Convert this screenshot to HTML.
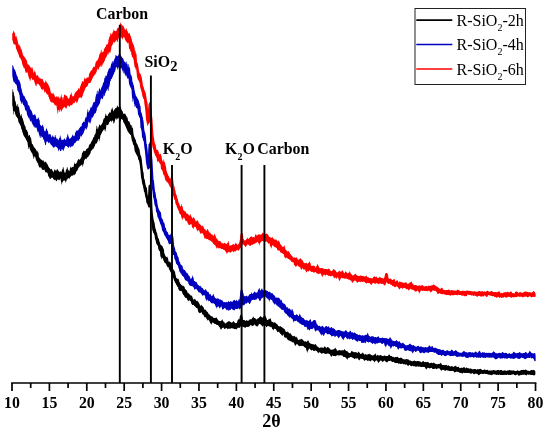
<!DOCTYPE html>
<html><head><meta charset="utf-8"><title>XRD</title>
<style>html,body{margin:0;padding:0;background:#fff}svg{display:block}</style>
</head><body>
<svg width="550" height="435" viewBox="0 0 550 435">
<rect width="550" height="435" fill="#fff"/>
<g stroke="none">
<polygon fill="#ff0000" points="12.5,33.3 13.0,32.7 13.5,32.4 14.0,32.4 14.5,32.6 15.0,33.2 15.5,37.6 16.0,37.7 16.5,37.9 17.0,38.2 17.5,40.5 18.0,42.8 18.5,44.3 19.0,45.9 19.5,46.1 20.0,46.3 20.5,46.8 21.0,50.1 21.5,50.4 22.0,50.7 22.5,53.3 23.0,55.0 23.5,56.0 24.0,57.0 24.5,57.1 25.0,57.6 25.5,59.6 26.0,59.9 26.5,60.9 27.0,61.2 27.5,64.0 28.0,65.0 28.5,65.4 29.0,65.6 29.5,66.1 30.0,66.7 30.5,67.5 31.0,68.5 31.5,68.9 32.0,68.8 32.5,68.9 33.0,69.3 33.5,73.1 34.0,72.5 34.5,72.3 35.0,72.3 35.5,72.6 36.0,74.8 36.5,76.0 37.0,75.8 37.5,75.8 38.0,75.9 38.5,76.4 39.0,78.7 39.5,78.4 40.0,78.4 40.5,78.6 41.0,79.3 41.5,79.8 42.0,79.8 42.5,79.9 43.0,80.4 43.5,81.0 44.0,83.1 44.5,83.1 45.0,82.6 45.5,82.3 46.0,82.2 46.5,82.3 47.0,82.7 47.5,84.8 48.0,85.0 48.5,85.3 49.0,86.3 49.5,87.5 50.0,88.2 50.5,91.4 51.0,92.9 51.5,93.4 52.0,94.0 52.5,94.1 53.0,94.3 53.5,94.2 54.0,94.4 54.5,95.1 55.0,97.2 55.5,97.3 56.0,97.3 56.5,97.2 57.0,97.3 57.5,97.5 58.0,97.9 58.5,97.9 59.0,97.9 59.5,98.1 60.0,99.5 60.5,97.2 61.0,96.9 61.5,96.8 62.0,96.9 62.5,97.4 63.0,101.1 63.5,97.2 64.0,96.9 64.5,96.8 65.0,97.0 65.5,97.1 66.0,97.2 66.5,97.2 67.0,97.3 67.5,97.7 68.0,98.3 68.5,98.8 69.0,98.7 69.5,97.5 70.0,95.3 70.5,94.7 71.0,94.5 71.5,94.6 72.0,94.8 72.5,96.5 73.0,96.4 73.5,96.4 74.0,96.2 74.5,93.7 75.0,93.5 75.5,92.5 76.0,92.1 76.5,91.9 77.0,91.4 77.5,90.6 78.0,89.7 78.5,89.3 79.0,89.2 79.5,89.4 80.0,86.9 80.5,86.2 81.0,84.5 81.5,83.5 82.0,83.2 82.5,83.2 83.0,82.5 83.5,82.0 84.0,79.6 84.5,79.3 85.0,79.2 85.5,79.3 86.0,78.8 86.5,78.5 87.0,78.2 87.5,77.9 88.0,77.8 88.5,77.7 89.0,74.8 89.5,73.6 90.0,72.6 90.5,71.6 91.0,71.4 91.5,71.0 92.0,70.5 92.5,68.6 93.0,67.8 93.5,67.5 94.0,67.4 94.5,67.0 95.0,66.1 95.5,62.7 96.0,62.1 96.5,61.5 97.0,61.2 97.5,60.5 98.0,59.5 98.5,58.6 99.0,56.1 99.5,55.8 100.0,54.3 100.5,52.6 101.0,52.4 101.5,52.4 102.0,52.6 102.5,52.4 103.0,52.3 103.5,52.3 104.0,49.3 104.5,48.6 105.0,47.9 105.5,47.4 106.0,45.7 106.5,45.3 107.0,45.2 107.5,44.5 108.0,43.9 108.5,39.4 109.0,39.0 109.5,36.9 110.0,35.9 110.5,35.6 111.0,35.6 111.5,35.8 112.0,34.9 112.5,32.7 113.0,31.7 113.5,31.5 114.0,31.5 114.5,31.7 115.0,31.5 115.5,31.4 116.0,31.2 116.5,30.8 117.0,28.8 117.5,28.3 118.0,28.1 118.5,28.2 119.0,28.5 119.5,24.5 120.0,23.9 120.5,23.7 121.0,23.8 121.5,24.0 122.0,26.9 122.5,26.6 123.0,26.6 123.5,26.9 124.0,27.9 124.5,28.4 125.0,30.3 125.5,30.0 126.0,29.9 126.5,30.0 127.0,30.4 127.5,32.3 128.0,32.5 128.5,33.5 129.0,34.6 129.5,34.7 130.0,35.1 130.5,36.3 131.0,36.7 131.5,39.5 132.0,40.4 132.5,43.5 133.0,43.8 133.5,45.3 134.0,46.6 134.5,47.6 135.0,51.8 135.5,53.4 136.0,53.6 136.5,54.1 137.0,61.7 137.5,63.2 138.0,64.2 138.5,67.3 139.0,70.8 139.5,72.7 140.0,74.1 140.5,74.4 141.0,75.2 141.5,76.7 142.0,79.8 142.5,82.1 143.0,86.1 143.5,86.5 144.0,89.0 144.5,89.9 145.0,92.1 145.5,92.5 146.0,94.8 146.5,97.8 147.0,101.5 147.5,102.2 148.0,109.8 148.5,104.3 149.0,103.3 149.5,103.1 150.0,103.1 150.5,103.3 151.0,104.3 151.5,108.2 152.0,115.8 152.5,119.8 153.0,128.6 153.5,135.2 154.0,137.9 154.5,141.9 155.0,143.6 155.5,144.6 156.0,147.5 156.5,149.6 157.0,150.6 157.5,150.7 158.0,151.0 158.5,151.5 159.0,154.3 159.5,154.6 160.0,155.4 160.5,155.7 161.0,155.9 161.5,156.2 162.0,160.2 162.5,160.6 163.0,162.2 163.5,162.0 164.0,161.9 164.5,162.1 165.0,162.7 165.5,165.8 166.0,166.3 166.5,171.5 167.0,171.8 167.5,174.1 168.0,174.4 168.5,176.0 169.0,176.7 169.5,177.4 170.0,179.2 170.5,179.2 171.0,177.7 171.5,177.3 172.0,177.2 172.5,177.4 173.0,177.8 173.5,182.5 174.0,185.8 174.5,186.5 175.0,189.5 175.5,191.1 176.0,194.5 176.5,194.7 177.0,196.6 177.5,198.8 178.0,200.0 178.5,202.6 179.0,203.3 179.5,204.6 180.0,206.1 180.5,206.8 181.0,206.3 181.5,206.2 182.0,206.2 182.5,206.4 183.0,208.9 183.5,210.5 184.0,210.9 184.5,211.7 185.0,211.7 185.5,211.8 186.0,212.4 186.5,214.0 187.0,214.1 187.5,214.5 188.0,214.6 188.5,214.8 189.0,215.4 189.5,215.8 190.0,215.6 190.5,215.6 191.0,215.8 191.5,216.8 192.0,218.0 192.5,218.4 193.0,218.8 193.5,218.5 194.0,218.5 194.5,218.6 195.0,219.2 195.5,221.1 196.0,221.8 196.5,221.4 197.0,221.2 197.5,221.2 198.0,221.3 198.5,222.0 199.0,224.0 199.5,224.0 200.0,224.4 200.5,225.1 201.0,225.3 201.5,226.0 202.0,226.7 202.5,226.5 203.0,226.5 203.5,226.8 204.0,228.4 204.5,229.3 205.0,229.4 205.5,229.8 206.0,231.3 206.5,231.0 207.0,230.6 207.5,230.5 208.0,230.6 208.5,231.0 209.0,232.5 209.5,233.2 210.0,233.5 210.5,233.8 211.0,233.9 211.5,234.5 212.0,235.2 212.5,235.6 213.0,235.8 213.5,236.0 214.0,235.7 214.5,235.5 215.0,235.6 215.5,236.0 216.0,238.3 216.5,238.6 217.0,239.3 217.5,239.6 218.0,240.6 218.5,240.9 219.0,241.3 219.5,241.3 220.0,241.4 220.5,241.8 221.0,242.0 221.5,242.9 222.0,243.4 222.5,243.5 223.0,243.8 223.5,243.8 224.0,243.8 224.5,243.5 225.0,243.5 225.5,243.6 226.0,244.1 226.5,244.3 227.0,243.7 227.5,243.0 228.0,242.8 228.5,242.8 229.0,243.1 229.5,245.8 230.0,245.9 230.5,245.5 231.0,245.4 231.5,245.4 232.0,245.2 232.5,244.7 233.0,244.5 233.5,244.6 234.0,244.9 234.5,245.0 235.0,243.9 235.5,243.6 236.0,243.5 236.5,243.7 237.0,244.3 237.5,244.9 238.0,244.7 238.5,243.8 239.0,243.5 239.5,241.6 240.0,238.9 240.5,234.1 241.0,233.4 241.5,233.2 242.0,233.2 242.5,233.5 243.0,234.7 243.5,239.2 244.0,239.9 244.5,240.5 245.0,240.7 245.5,240.2 246.0,239.9 246.5,239.1 247.0,238.6 247.5,238.5 248.0,238.6 248.5,239.0 249.0,238.7 249.5,238.1 250.0,237.6 250.5,237.3 251.0,237.2 251.5,237.1 252.0,237.2 252.5,237.5 253.0,237.4 253.5,237.2 254.0,237.3 254.5,237.7 255.0,235.4 255.5,235.1 256.0,235.1 256.5,235.3 257.0,235.9 257.5,235.2 258.0,234.9 258.5,234.8 259.0,235.0 259.5,234.8 260.0,234.8 260.5,235.0 261.0,234.9 261.5,234.6 262.0,233.9 262.5,233.6 263.0,233.6 263.5,233.8 264.0,234.4 264.5,234.7 265.0,234.5 265.5,234.1 266.0,234.0 266.5,234.1 267.0,234.3 267.5,234.5 268.0,235.0 268.5,235.4 269.0,237.0 269.5,236.9 270.0,237.0 270.5,237.5 271.0,238.0 271.5,238.2 272.0,238.0 272.5,237.9 273.0,238.0 273.5,238.5 274.0,239.7 274.5,240.0 275.0,240.1 275.5,240.2 276.0,240.3 276.5,240.4 277.0,240.6 277.5,241.2 278.0,241.7 278.5,241.5 279.0,241.6 279.5,241.9 280.0,243.6 280.5,244.8 281.0,244.9 281.5,245.2 282.0,246.8 282.5,247.1 283.0,247.1 283.5,246.9 284.0,246.8 284.5,246.8 285.0,247.1 285.5,249.4 286.0,250.3 286.5,250.6 287.0,251.0 287.5,252.0 288.0,251.8 288.5,251.8 289.0,252.1 289.5,252.6 290.0,253.7 290.5,254.2 291.0,254.7 291.5,255.7 292.0,255.9 292.5,256.4 293.0,257.2 293.5,257.9 294.0,257.6 294.5,257.6 295.0,257.8 295.5,258.0 296.0,257.9 296.5,258.0 297.0,258.2 297.5,258.5 298.0,260.2 298.5,259.8 299.0,259.7 299.5,259.3 300.0,259.1 300.5,259.1 301.0,259.4 301.5,260.4 302.0,260.4 302.5,260.5 303.0,261.1 303.5,262.3 304.0,262.9 304.5,263.0 305.0,263.4 305.5,263.2 306.0,263.0 306.5,263.1 307.0,263.3 307.5,264.0 308.0,263.8 308.5,263.3 309.0,262.9 309.5,262.8 310.0,262.9 310.5,263.3 311.0,265.7 311.5,265.8 312.0,266.1 312.5,265.9 313.0,265.8 313.5,266.0 314.0,266.0 314.5,266.1 315.0,266.5 315.5,267.7 316.0,267.6 316.5,266.0 317.0,265.6 317.5,265.5 318.0,265.7 318.5,266.0 319.0,267.0 319.5,268.1 320.0,268.4 320.5,268.4 321.0,268.1 321.5,268.0 322.0,268.1 322.5,268.5 323.0,268.7 323.5,268.7 324.0,268.9 324.5,269.2 325.0,269.0 325.5,269.0 326.0,269.2 326.5,269.3 327.0,269.3 327.5,269.4 328.0,269.3 328.5,269.1 329.0,269.1 329.5,269.4 330.0,269.9 330.5,270.8 331.0,270.9 331.5,271.1 332.0,271.5 332.5,270.2 333.0,269.8 333.5,269.7 334.0,269.8 334.5,270.2 335.0,270.5 335.5,270.6 336.0,271.2 336.5,271.9 337.0,272.4 337.5,272.4 338.0,272.1 338.5,271.4 339.0,271.2 339.5,271.3 340.0,271.5 340.5,271.7 341.0,272.1 341.5,271.3 342.0,271.0 342.5,271.0 343.0,271.2 343.5,271.7 344.0,273.1 344.5,273.5 345.0,272.3 345.5,272.0 346.0,272.0 346.5,272.2 347.0,272.9 347.5,273.6 348.0,273.5 348.5,272.9 349.0,272.5 349.5,272.4 350.0,272.4 350.5,272.8 351.0,274.3 351.5,274.4 352.0,274.6 352.5,275.4 353.0,275.7 353.5,275.3 354.0,275.1 354.5,274.6 355.0,274.3 355.5,274.3 356.0,274.4 356.5,274.9 357.0,275.4 357.5,275.7 358.0,276.0 358.5,275.9 359.0,275.9 359.5,275.9 360.0,276.1 360.5,275.8 361.0,275.7 361.5,275.9 362.0,276.0 362.5,276.1 363.0,276.4 363.5,276.3 364.0,276.4 364.5,276.8 365.0,276.7 365.5,276.2 366.0,276.1 366.5,276.2 367.0,276.5 367.5,277.6 368.0,277.5 368.5,277.5 369.0,277.7 369.5,278.2 370.0,278.0 370.5,278.0 371.0,278.2 371.5,278.6 372.0,278.5 372.5,278.4 373.0,277.9 373.5,277.1 374.0,276.9 374.5,276.9 375.0,277.1 375.5,277.3 376.0,277.1 376.5,277.1 377.0,277.3 377.5,278.1 378.0,278.0 378.5,278.1 379.0,277.5 379.5,277.4 380.0,277.4 380.5,277.6 381.0,278.3 381.5,278.0 382.0,278.0 382.5,278.2 383.0,278.9 383.5,278.4 384.0,278.0 384.5,277.1 385.0,274.7 385.5,273.2 386.0,272.9 386.5,272.9 387.0,273.1 387.5,273.8 388.0,274.7 388.5,278.7 389.0,278.6 389.5,278.8 390.0,278.7 390.5,278.7 391.0,278.8 391.5,279.4 392.0,279.8 392.5,280.1 393.0,280.0 393.5,279.5 394.0,279.4 394.5,279.4 395.0,279.7 395.5,281.9 396.0,281.3 396.5,280.8 397.0,280.7 397.5,280.7 398.0,281.0 398.5,282.9 399.0,282.1 399.5,281.8 400.0,281.8 400.5,282.0 401.0,282.2 401.5,282.3 402.0,282.6 402.5,282.6 403.0,282.9 403.5,282.8 404.0,282.7 404.5,282.8 405.0,282.9 405.5,282.6 406.0,282.6 406.5,282.8 407.0,283.5 407.5,283.9 408.0,283.7 408.5,283.8 409.0,283.4 409.5,283.0 410.0,282.9 410.5,282.6 411.0,282.5 411.5,282.6 412.0,282.9 412.5,283.4 413.0,284.5 413.5,284.6 414.0,285.0 414.5,285.2 415.0,285.2 415.5,285.1 416.0,285.1 416.5,285.2 417.0,285.8 417.5,285.7 418.0,285.7 418.5,285.7 419.0,285.6 419.5,285.5 420.0,285.5 420.5,285.7 421.0,285.8 421.5,285.5 422.0,285.2 422.5,285.2 423.0,285.4 423.5,286.1 424.0,286.7 424.5,286.4 425.0,286.3 425.5,286.2 426.0,286.0 426.5,286.1 427.0,286.3 427.5,286.5 428.0,286.1 428.5,285.8 429.0,285.7 429.5,285.9 430.0,285.8 430.5,285.7 431.0,285.8 431.5,285.7 432.0,285.6 432.5,285.4 433.0,285.1 433.5,285.0 434.0,285.0 434.5,285.2 435.0,285.6 435.5,285.8 436.0,286.5 436.5,286.5 437.0,286.5 437.5,286.7 438.0,287.6 438.5,287.7 439.0,287.9 439.5,288.5 440.0,288.9 440.5,288.8 441.0,288.4 441.5,288.1 442.0,288.1 442.5,288.3 443.0,289.0 443.5,290.1 444.0,290.1 444.5,290.1 445.0,290.2 445.5,290.2 446.0,290.2 446.5,290.1 447.0,290.1 447.5,290.0 448.0,289.7 448.5,289.7 449.0,290.0 449.5,290.1 450.0,290.2 450.5,290.6 451.0,290.4 451.5,290.3 452.0,290.3 452.5,290.4 453.0,290.3 453.5,290.5 454.0,290.7 454.5,290.6 455.0,290.5 455.5,290.6 456.0,290.9 456.5,290.5 457.0,290.0 457.5,289.9 458.0,289.9 458.5,290.1 459.0,290.5 459.5,290.6 460.0,291.1 460.5,291.2 461.0,291.1 461.5,291.2 462.0,290.8 462.5,290.7 463.0,290.8 463.5,290.9 464.0,290.8 464.5,290.9 465.0,291.0 465.5,291.0 466.0,291.1 466.5,290.7 467.0,290.6 467.5,290.7 468.0,290.8 468.5,290.8 469.0,290.9 469.5,290.8 470.0,291.0 470.5,291.1 471.0,291.1 471.5,291.2 472.0,291.5 472.5,291.5 473.0,291.5 473.5,291.5 474.0,291.3 474.5,291.4 475.0,291.5 475.5,291.6 476.0,291.8 476.5,291.7 477.0,291.7 477.5,291.8 478.0,291.6 478.5,291.3 479.0,291.1 479.5,291.1 480.0,291.1 480.5,291.4 481.0,291.7 481.5,291.3 482.0,291.2 482.5,291.3 483.0,291.7 483.5,291.8 484.0,291.5 484.5,291.4 485.0,291.6 485.5,292.0 486.0,291.8 486.5,291.3 487.0,290.9 487.5,290.9 488.0,291.0 488.5,291.5 489.0,291.7 489.5,291.7 490.0,291.8 490.5,291.6 491.0,291.2 491.5,291.1 492.0,291.2 492.5,291.5 493.0,292.2 493.5,292.0 494.0,292.0 494.5,292.2 495.0,292.1 495.5,292.2 496.0,292.1 496.5,292.2 497.0,292.4 497.5,292.4 498.0,292.0 498.5,291.8 499.0,291.7 499.5,291.8 500.0,292.1 500.5,293.3 501.0,293.4 501.5,293.1 502.0,293.1 502.5,293.2 503.0,293.1 503.5,292.6 504.0,292.5 504.5,292.6 505.0,292.6 505.5,292.3 506.0,292.3 506.5,292.4 507.0,292.1 507.5,291.9 508.0,291.9 508.5,292.0 509.0,292.7 509.5,292.6 510.0,292.0 510.5,291.8 511.0,291.7 511.5,291.9 512.0,292.6 512.5,293.2 513.0,293.1 513.5,293.2 514.0,293.5 514.5,293.6 515.0,292.3 515.5,291.8 516.0,291.7 516.5,291.8 517.0,292.1 517.5,292.3 518.0,292.6 518.5,292.8 519.0,292.7 519.5,292.4 520.0,292.3 520.5,292.4 521.0,292.4 521.5,292.6 522.0,293.1 522.5,292.7 523.0,292.6 523.5,292.5 524.0,292.0 524.5,291.7 525.0,291.6 525.5,291.8 526.0,292.0 526.5,291.8 527.0,291.8 527.5,292.1 528.0,292.3 528.5,292.3 529.0,292.4 529.5,292.2 530.0,292.2 530.5,292.4 531.0,292.6 531.5,292.9 532.0,292.4 532.5,292.1 533.0,291.8 533.5,291.5 534.0,291.5 534.5,291.8 535.0,292.8 535.4,293.2 535.4,296.8 535.0,296.9 534.5,296.9 534.0,296.7 533.5,296.8 533.0,296.8 532.5,296.9 532.0,297.2 531.5,297.2 531.0,297.0 530.5,296.7 530.0,295.9 529.5,296.2 529.0,296.4 528.5,296.9 528.0,297.2 527.5,297.2 527.0,296.9 526.5,296.6 526.0,296.6 525.5,296.4 525.0,296.6 524.5,296.7 524.0,296.5 523.5,297.0 523.0,297.2 522.5,297.2 522.0,296.9 521.5,296.5 521.0,296.6 520.5,296.7 520.0,296.8 519.5,296.7 519.0,296.4 518.5,296.6 518.0,296.6 517.5,296.6 517.0,297.0 516.5,297.2 516.0,297.1 515.5,297.0 515.0,297.3 514.5,297.3 514.0,297.2 513.5,297.3 513.0,297.3 512.5,297.1 512.0,297.5 511.5,297.6 511.0,297.6 510.5,297.3 510.0,297.1 509.5,296.9 509.0,296.8 508.5,296.5 508.0,297.0 507.5,297.2 507.0,297.2 506.5,297.4 506.0,297.5 505.5,297.4 505.0,297.0 504.5,296.8 504.0,297.3 503.5,297.4 503.0,297.4 502.5,297.6 502.0,297.7 501.5,297.6 501.0,297.4 500.5,297.3 500.0,297.6 499.5,297.7 499.0,297.6 498.5,297.1 498.0,296.6 497.5,297.2 497.0,297.4 496.5,297.5 496.0,297.3 495.5,297.0 495.0,297.0 494.5,296.9 494.0,296.6 493.5,295.9 493.0,296.1 492.5,296.2 492.0,296.3 491.5,296.1 491.0,295.7 490.5,295.4 490.0,295.4 489.5,295.5 489.0,295.4 488.5,295.0 488.0,295.1 487.5,296.5 487.0,296.7 486.5,296.8 486.0,296.6 485.5,296.0 485.0,295.4 484.5,295.3 484.0,296.0 483.5,296.3 483.0,296.4 482.5,296.3 482.0,296.2 481.5,296.3 481.0,296.3 480.5,296.3 480.0,296.2 479.5,295.7 479.0,295.7 478.5,295.8 478.0,296.3 477.5,296.5 477.0,296.5 476.5,296.3 476.0,296.0 475.5,295.9 475.0,295.3 474.5,295.6 474.0,295.8 473.5,295.8 473.0,295.7 472.5,295.3 472.0,295.3 471.5,295.5 471.0,295.4 470.5,295.1 470.0,295.0 469.5,295.0 469.0,295.0 468.5,294.8 468.0,294.6 467.5,294.3 467.0,295.7 466.5,296.1 466.0,296.1 465.5,296.0 465.0,296.0 464.5,296.1 464.0,296.0 463.5,295.5 463.0,295.2 462.5,295.6 462.0,295.6 461.5,295.5 461.0,295.1 460.5,295.0 460.0,295.0 459.5,295.1 459.0,294.9 458.5,294.6 458.0,294.9 457.5,295.2 457.0,295.2 456.5,295.1 456.0,294.8 455.5,294.7 455.0,294.8 454.5,294.9 454.0,294.9 453.5,295.2 453.0,295.3 452.5,295.2 452.0,295.1 451.5,295.1 451.0,295.2 450.5,295.4 450.0,295.5 449.5,295.3 449.0,294.9 448.5,295.1 448.0,295.0 447.5,295.0 447.0,294.9 446.5,294.9 446.0,295.0 445.5,294.8 445.0,294.3 444.5,294.4 444.0,294.2 443.5,293.9 443.0,294.0 442.5,294.2 442.0,294.3 441.5,294.1 441.0,293.7 440.5,293.8 440.0,293.6 439.5,293.1 439.0,293.3 438.5,293.4 438.0,293.3 437.5,293.3 437.0,292.9 436.5,291.5 436.0,291.4 435.5,291.0 435.0,290.6 434.5,290.7 434.0,290.7 433.5,290.6 433.0,290.3 432.5,290.4 432.0,291.2 431.5,291.8 431.0,291.9 430.5,291.9 430.0,291.6 429.5,290.7 429.0,290.7 428.5,290.4 428.0,290.8 427.5,291.1 427.0,291.1 426.5,291.0 426.0,290.8 425.5,290.9 425.0,290.8 424.5,290.8 424.0,290.5 423.5,290.4 423.0,290.7 422.5,290.8 422.0,290.7 421.5,290.4 421.0,290.2 420.5,291.3 420.0,292.0 419.5,292.2 419.0,292.2 418.5,291.9 418.0,290.1 417.5,290.6 417.0,290.9 416.5,290.9 416.0,291.0 415.5,291.1 415.0,291.0 414.5,290.7 414.0,289.9 413.5,290.0 413.0,289.9 412.5,289.5 412.0,289.4 411.5,289.3 411.0,288.9 410.5,288.6 410.0,289.0 409.5,289.7 409.0,289.9 408.5,289.8 408.0,289.6 407.5,289.0 407.0,289.1 406.5,289.1 406.0,288.9 405.5,288.2 405.0,287.9 404.5,287.9 404.0,287.6 403.5,287.9 403.0,288.3 402.5,288.4 402.0,288.3 401.5,287.9 401.0,287.4 400.5,288.2 400.0,288.5 399.5,288.7 399.0,288.5 398.5,288.2 398.0,287.0 397.5,286.8 397.0,286.6 396.5,286.2 396.0,286.4 395.5,286.8 395.0,286.9 394.5,286.8 394.0,286.4 393.5,285.8 393.0,285.9 392.5,285.8 392.0,285.4 391.5,284.6 391.0,284.4 390.5,284.4 390.0,284.1 389.5,283.5 389.0,283.8 388.5,283.9 388.0,283.8 387.5,283.3 387.0,282.7 386.5,282.1 386.0,282.9 385.5,284.6 385.0,284.9 384.5,284.9 384.0,284.8 383.5,284.2 383.0,283.9 382.5,283.7 382.0,283.5 381.5,283.7 381.0,283.8 380.5,283.6 380.0,283.0 379.5,283.6 379.0,283.9 378.5,283.9 378.0,283.8 377.5,283.3 377.0,283.2 376.5,283.1 376.0,283.4 375.5,283.6 375.0,283.6 374.5,283.4 374.0,282.8 373.5,282.7 373.0,283.0 372.5,283.3 372.0,284.0 371.5,284.2 371.0,284.2 370.5,283.9 370.0,283.4 369.5,282.8 369.0,283.0 368.5,283.0 368.0,282.8 367.5,282.8 367.0,283.1 366.5,283.2 366.0,283.0 365.5,282.5 365.0,282.4 364.5,282.1 364.0,281.5 363.5,281.6 363.0,281.7 362.5,281.7 362.0,281.7 361.5,281.5 361.0,281.4 360.5,281.7 360.0,281.8 359.5,281.7 359.0,281.2 358.5,281.7 358.0,281.9 357.5,282.0 357.0,281.8 356.5,281.7 356.0,281.2 355.5,280.4 355.0,280.5 354.5,280.4 354.0,280.7 353.5,281.2 353.0,281.7 352.5,281.8 352.0,281.8 351.5,281.5 351.0,280.1 350.5,280.2 350.0,280.0 349.5,279.5 349.0,279.4 348.5,279.2 348.0,279.2 347.5,279.1 347.0,278.7 346.5,278.6 346.0,278.2 345.5,278.5 345.0,278.6 344.5,278.5 344.0,278.3 343.5,278.2 343.0,277.8 342.5,278.0 342.0,278.0 341.5,277.8 341.0,277.6 340.5,279.0 340.0,279.4 339.5,279.5 339.0,279.4 338.5,279.0 338.0,276.6 337.5,277.4 337.0,277.8 336.5,277.9 336.0,277.8 335.5,277.4 335.0,277.4 334.5,277.5 334.0,277.5 333.5,277.2 333.0,275.4 332.5,275.6 332.0,275.9 331.5,276.0 331.0,275.9 330.5,276.0 330.0,276.0 329.5,275.7 329.0,275.4 328.5,275.5 328.0,275.4 327.5,275.0 327.0,274.8 326.5,274.6 326.0,275.1 325.5,275.3 325.0,275.2 324.5,274.9 324.0,274.1 323.5,275.2 323.0,275.7 322.5,275.8 322.0,275.8 321.5,275.4 321.0,273.2 320.5,273.5 320.0,273.6 319.5,273.4 319.0,273.7 318.5,273.8 318.0,273.6 317.5,273.3 317.0,273.3 316.5,273.0 316.0,272.2 315.5,271.9 315.0,272.0 314.5,272.0 314.0,272.3 313.5,272.3 313.0,272.1 312.5,271.5 312.0,271.6 311.5,271.4 311.0,271.4 310.5,271.2 310.0,270.6 309.5,270.2 309.0,270.7 308.5,270.9 308.0,270.9 307.5,270.7 307.0,271.0 306.5,271.1 306.0,271.0 305.5,270.6 305.0,268.9 304.5,269.0 304.0,269.0 303.5,269.0 303.0,268.8 302.5,268.2 302.0,268.6 301.5,268.7 301.0,268.7 300.5,268.3 300.0,266.4 299.5,266.6 299.0,266.5 298.5,266.3 298.0,265.6 297.5,265.0 297.0,265.5 296.5,265.6 296.0,265.5 295.5,265.4 295.0,265.4 294.5,265.3 294.0,264.8 293.5,262.2 293.0,262.2 292.5,262.1 292.0,261.9 291.5,261.7 291.0,260.7 290.5,260.4 290.0,260.0 289.5,259.7 289.0,258.8 288.5,258.9 288.0,258.8 287.5,258.4 287.0,257.2 286.5,257.3 286.0,257.2 285.5,257.3 285.0,257.3 284.5,257.0 284.0,255.3 283.5,254.1 283.0,253.9 282.5,253.2 282.0,252.9 281.5,252.5 281.0,252.4 280.5,252.0 280.0,251.5 279.5,250.8 279.0,250.0 278.5,250.2 278.0,250.1 277.5,249.7 277.0,249.1 276.5,247.7 276.0,247.5 275.5,247.1 275.0,247.1 274.5,246.9 274.0,246.4 273.5,245.6 273.0,245.5 272.5,245.1 272.0,246.3 271.5,246.6 271.0,246.6 270.5,246.5 270.0,246.0 269.5,242.9 269.0,243.1 268.5,243.2 268.0,243.0 267.5,242.3 267.0,241.7 266.5,241.5 266.0,241.0 265.5,241.3 265.0,241.4 264.5,241.2 264.0,240.7 263.5,240.9 263.0,241.0 262.5,240.8 262.0,240.4 261.5,241.5 261.0,241.8 260.5,242.3 260.0,243.3 259.5,243.6 259.0,243.6 258.5,243.3 258.0,242.3 257.5,241.4 257.0,242.0 256.5,242.4 256.0,242.7 255.5,242.7 255.0,243.1 254.5,243.5 254.0,243.6 253.5,243.6 253.0,244.2 252.5,244.4 252.0,244.3 251.5,244.6 251.0,245.1 250.5,245.2 250.0,245.2 249.5,245.0 249.0,245.0 248.5,244.8 248.0,244.3 247.5,244.4 247.0,244.8 246.5,246.1 246.0,246.4 245.5,246.5 245.0,246.3 244.5,245.8 244.0,245.0 243.5,244.8 243.0,244.6 242.5,244.4 242.0,244.6 241.5,246.1 241.0,247.6 240.5,248.1 240.0,248.2 239.5,249.5 239.0,250.0 238.5,250.2 238.0,250.1 237.5,249.8 237.0,249.8 236.5,250.4 236.0,250.9 235.5,251.0 235.0,251.0 234.5,251.3 234.0,251.5 233.5,251.5 233.0,251.3 232.5,250.9 232.0,251.2 231.5,251.3 231.0,251.9 230.5,252.1 230.0,252.1 229.5,251.8 229.0,251.4 228.5,251.7 228.0,251.9 227.5,252.3 227.0,252.5 226.5,252.4 226.0,252.2 225.5,250.9 225.0,250.7 224.5,250.1 224.0,249.7 223.5,249.4 223.0,249.3 222.5,249.1 222.0,248.9 221.5,249.0 221.0,248.8 220.5,248.3 220.0,247.8 219.5,247.8 219.0,248.0 218.5,247.9 218.0,247.6 217.5,247.1 217.0,247.3 216.5,247.3 216.0,247.0 215.5,245.8 215.0,245.3 214.5,244.5 214.0,244.3 213.5,243.8 213.0,243.4 212.5,242.3 212.0,242.0 211.5,241.4 211.0,241.2 210.5,240.6 210.0,240.3 209.5,240.2 209.0,240.0 208.5,239.7 208.0,239.0 207.5,238.7 207.0,238.6 206.5,238.5 206.0,238.2 205.5,237.8 205.0,237.6 204.5,237.5 204.0,237.1 203.5,234.4 203.0,234.2 202.5,233.4 202.0,232.6 201.5,232.8 201.0,232.9 200.5,232.9 200.0,232.7 199.5,231.7 199.0,230.0 198.5,229.9 198.0,230.2 197.5,230.3 197.0,230.2 196.5,229.6 196.0,227.5 195.5,227.0 195.0,226.9 194.5,226.5 194.0,227.5 193.5,227.8 193.0,227.8 192.5,227.7 192.0,227.2 191.5,224.3 191.0,224.1 190.5,224.2 190.0,224.4 189.5,224.3 189.0,224.1 188.5,223.9 188.0,223.5 187.5,222.6 187.0,220.6 186.5,220.6 186.0,220.7 185.5,220.6 185.0,220.1 184.5,218.1 184.0,217.5 183.5,217.6 183.0,218.0 182.5,218.2 182.0,218.1 181.5,217.7 181.0,215.2 180.5,214.3 180.0,213.7 179.5,213.5 179.0,211.8 178.5,210.2 178.0,209.8 177.5,207.9 177.0,207.3 176.5,205.6 176.0,204.2 175.5,203.8 175.0,199.5 174.5,198.9 174.0,198.6 173.5,196.7 173.0,194.6 172.5,193.5 172.0,192.9 171.5,187.1 171.0,187.4 170.5,187.4 170.0,187.1 169.5,186.1 169.0,184.7 168.5,184.1 168.0,182.3 167.5,181.9 167.0,181.8 166.5,181.5 166.0,180.3 165.5,179.2 165.0,179.0 164.5,176.5 164.0,174.3 163.5,173.9 163.0,173.6 162.5,169.7 162.0,169.8 161.5,169.6 161.0,168.9 160.5,164.3 160.0,163.8 159.5,162.8 159.0,162.4 158.5,160.7 158.0,160.9 157.5,160.8 157.0,160.6 156.5,156.8 156.0,156.6 155.5,156.1 155.0,155.0 154.5,153.1 154.0,152.5 153.5,150.2 153.0,148.6 152.5,147.1 152.0,144.0 151.5,139.8 151.0,137.0 150.5,128.6 150.0,122.2 149.5,122.7 149.0,123.3 148.5,124.0 148.0,124.2 147.5,124.1 147.0,123.9 146.5,121.4 146.0,119.2 145.5,112.7 145.0,107.4 144.5,104.5 144.0,99.4 143.5,98.3 143.0,96.7 142.5,96.4 142.0,93.7 141.5,91.1 141.0,89.3 140.5,88.7 140.0,85.9 139.5,82.0 139.0,81.6 138.5,79.9 138.0,79.4 137.5,77.7 137.0,77.1 136.5,71.5 136.0,67.6 135.5,67.5 135.0,67.3 134.5,66.7 134.0,62.6 133.5,59.6 133.0,57.7 132.5,55.4 132.0,55.3 131.5,54.9 131.0,50.8 130.5,49.0 130.0,49.1 129.5,48.9 129.0,48.4 128.5,42.5 128.0,42.4 127.5,42.4 127.0,42.1 126.5,41.0 126.0,40.6 125.5,40.4 125.0,39.7 124.5,37.6 124.0,37.1 123.5,37.0 123.0,37.4 122.5,37.6 122.0,37.5 121.5,37.1 121.0,36.5 120.5,37.0 120.0,37.1 119.5,37.1 119.0,37.3 118.5,38.6 118.0,39.2 117.5,39.4 117.0,39.3 116.5,39.0 116.0,39.9 115.5,40.7 115.0,41.1 114.5,41.2 114.0,41.1 113.5,41.9 113.0,44.1 112.5,44.6 112.0,45.0 111.5,46.4 111.0,50.0 110.5,50.3 110.0,51.6 109.5,52.1 109.0,52.2 108.5,52.1 108.0,53.0 107.5,54.6 107.0,55.6 106.5,55.8 106.0,56.7 105.5,58.3 105.0,59.1 104.5,60.9 104.0,61.4 103.5,61.7 103.0,62.1 102.5,64.6 102.0,64.9 101.5,64.9 101.0,65.1 100.5,65.4 100.0,65.7 99.5,66.7 99.0,68.3 98.5,68.5 98.0,68.6 97.5,68.7 97.0,69.8 96.5,72.3 96.0,72.8 95.5,73.6 95.0,74.1 94.5,75.1 94.0,75.7 93.5,75.8 93.0,77.5 92.5,78.1 92.0,79.5 91.5,80.2 91.0,81.6 90.5,82.0 90.0,82.5 89.5,82.9 89.0,83.0 88.5,83.0 88.0,85.1 87.5,85.7 87.0,86.1 86.5,86.6 86.0,86.8 85.5,88.2 85.0,88.8 84.5,90.7 84.0,91.2 83.5,92.9 83.0,93.3 82.5,95.9 82.0,96.1 81.5,96.2 81.0,96.2 80.5,96.5 80.0,96.9 79.5,96.9 79.0,98.1 78.5,98.6 78.0,100.7 77.5,101.3 77.0,101.5 76.5,101.4 76.0,101.2 75.5,101.1 75.0,102.1 74.5,102.5 74.0,102.6 73.5,102.5 73.0,103.6 72.5,103.9 72.0,104.1 71.5,104.5 71.0,104.6 70.5,104.5 70.0,105.6 69.5,105.9 69.0,105.9 68.5,105.7 68.0,105.0 67.5,105.4 67.0,107.1 66.5,107.4 66.0,107.5 65.5,107.4 65.0,106.9 64.5,106.6 64.0,107.0 63.5,107.1 63.0,108.0 62.5,108.3 62.0,109.1 61.5,109.4 61.0,109.5 60.5,109.4 60.0,109.6 59.5,109.6 59.0,109.7 58.5,110.2 58.0,110.3 57.5,110.2 57.0,109.9 56.5,105.3 56.0,105.0 55.5,104.8 55.0,104.8 54.5,104.5 54.0,103.5 53.5,103.1 53.0,101.9 52.5,102.0 52.0,101.8 51.5,101.6 51.0,101.3 50.5,100.6 50.0,100.3 49.5,99.3 49.0,97.3 48.5,96.9 48.0,93.5 47.5,93.7 47.0,93.8 46.5,93.6 46.0,93.0 45.5,91.3 45.0,91.5 44.5,91.4 44.0,91.1 43.5,88.8 43.0,88.6 42.5,88.9 42.0,89.0 41.5,88.9 41.0,88.5 40.5,87.1 40.0,85.4 39.5,85.3 39.0,85.0 38.5,83.8 38.0,83.8 37.5,83.5 37.0,84.1 36.5,84.4 36.0,84.4 35.5,84.2 35.0,83.5 34.5,82.5 34.0,80.5 33.5,79.3 33.0,79.4 32.5,79.4 32.0,79.1 31.5,77.4 31.0,78.0 30.5,78.4 30.0,78.4 29.5,78.3 29.0,77.9 28.5,76.2 28.0,74.0 27.5,72.9 27.0,71.1 26.5,71.1 26.0,71.1 25.5,71.0 25.0,70.6 24.5,67.8 24.0,67.3 23.5,66.3 23.0,66.0 22.5,65.0 22.0,62.7 21.5,60.4 21.0,59.3 20.5,58.7 20.0,57.2 19.5,56.8 19.0,56.4 18.5,53.4 18.0,53.2 17.5,51.5 17.0,51.0 16.5,49.2 16.0,48.3 15.5,44.8 15.0,44.5 14.5,44.0 14.0,43.2 13.5,43.0 13.0,42.6 12.5,39.6"/>
<polygon fill="#ff0000" points="12.5,33.5 13.0,33.2 13.5,30.7 14.0,30.6 14.5,37.9 15.0,38.1 15.5,36.4 16.0,36.0 16.5,36.2 17.0,39.1 17.5,43.2 18.0,45.5 18.5,45.4 19.0,44.8 19.5,44.6 20.0,49.2 20.5,49.3 21.0,48.9 21.5,48.9 22.0,54.5 22.5,54.5 23.0,57.0 23.5,55.9 24.0,55.7 24.5,58.7 25.0,58.4 25.5,58.4 26.0,59.4 26.5,59.5 27.0,64.1 27.5,65.1 28.0,64.6 28.5,64.6 29.0,64.9 29.5,66.3 30.0,66.3 30.5,69.0 31.0,69.6 31.5,67.5 32.0,67.0 32.5,67.5 33.0,73.9 33.5,72.8 34.0,72.5 34.5,70.7 35.0,70.8 35.5,75.5 36.0,75.7 36.5,75.9 37.0,74.9 37.5,74.7 38.0,77.5 38.5,79.1 39.0,79.5 39.5,77.6 40.0,77.6 40.5,79.8 41.0,79.4 41.5,78.8 42.0,78.7 42.5,79.1 43.0,79.8 43.5,85.1 44.0,82.7 44.5,82.7 45.0,82.9 45.5,80.5 46.0,80.2 46.5,83.4 47.0,83.6 47.5,83.6 48.0,83.6 48.5,86.5 49.0,86.4 49.5,90.7 50.0,91.5 50.5,93.1 51.0,93.7 51.5,93.6 52.0,93.3 52.5,94.1 53.0,92.9 53.5,92.8 54.0,98.2 54.5,98.8 55.0,96.8 55.5,97.0 56.0,98.8 56.5,96.1 57.0,96.3 57.5,96.7 58.0,97.9 58.5,96.6 59.0,96.6 59.5,100.2 60.0,99.7 60.5,100.0 61.0,94.6 61.5,94.4 62.0,100.2 62.5,102.9 63.0,102.1 63.5,100.8 64.0,94.6 64.5,94.4 65.0,95.3 65.5,95.0 66.0,96.0 66.5,95.5 67.0,96.0 67.5,97.2 68.0,100.4 68.5,99.5 69.0,99.1 69.5,98.4 70.0,98.1 70.5,96.2 71.0,92.6 71.5,92.7 72.0,98.0 72.5,96.7 73.0,96.2 73.5,96.4 74.0,96.6 74.5,96.3 75.0,92.6 75.5,92.4 76.0,92.4 76.5,90.8 77.0,90.9 77.5,90.3 78.0,89.6 78.5,88.3 79.0,88.0 79.5,89.8 80.0,89.9 80.5,90.4 81.0,84.6 81.5,84.6 82.0,81.1 82.5,81.1 83.0,82.6 83.5,82.7 84.0,80.8 84.5,77.8 85.0,77.5 85.5,79.5 86.0,79.8 86.5,77.8 87.0,77.7 87.5,77.5 88.0,77.4 88.5,77.6 89.0,78.0 89.5,73.8 90.0,72.6 90.5,72.1 91.0,70.3 91.5,70.3 92.0,70.5 92.5,70.0 93.0,67.7 93.5,66.8 94.0,66.5 94.5,67.8 95.0,67.7 95.5,65.9 96.0,65.9 96.5,60.7 97.0,60.4 97.5,60.4 98.0,60.3 98.5,58.6 99.0,57.7 99.5,54.1 100.0,54.0 100.5,53.7 101.0,49.8 101.5,49.8 102.0,56.1 102.5,52.5 103.0,51.2 103.5,51.4 104.0,52.4 104.5,51.2 105.0,47.1 105.5,47.2 106.0,46.4 106.5,44.6 107.0,44.1 107.5,44.6 108.0,44.4 108.5,43.9 109.0,41.6 109.5,36.8 110.0,37.1 110.5,33.1 111.0,33.1 111.5,34.6 112.0,34.8 112.5,33.8 113.0,33.7 113.5,29.7 114.0,29.7 114.5,31.0 115.0,30.9 115.5,31.0 116.0,31.4 116.5,32.5 117.0,30.9 117.5,30.7 118.0,27.3 118.5,27.5 119.0,28.3 119.5,28.2 120.0,27.8 120.5,22.5 121.0,22.6 121.5,27.1 122.0,27.2 122.5,24.9 123.0,24.9 123.5,26.6 124.0,27.1 124.5,30.1 125.0,30.0 125.5,31.1 126.0,28.1 126.5,28.4 127.0,30.9 127.5,30.9 128.0,33.6 128.5,34.1 129.0,32.8 129.5,33.1 130.0,34.2 130.5,37.9 131.0,38.6 131.5,39.1 132.0,42.3 132.5,42.6 133.0,44.4 133.5,44.4 134.0,48.5 134.5,53.9 135.0,50.7 135.5,50.6 136.0,59.5 136.5,62.9 137.0,63.2 137.5,63.4 138.0,71.1 138.5,72.2 139.0,73.4 139.5,73.4 140.0,73.5 140.5,73.7 141.0,76.2 141.5,78.6 142.0,86.6 142.5,86.0 143.0,86.3 143.5,89.4 144.0,91.0 144.5,91.0 145.0,91.5 145.5,95.0 146.0,99.8 146.5,99.7 147.0,107.1 147.5,108.9 148.0,116.2 148.5,116.0 149.0,105.5 149.5,102.1 150.0,102.1 150.5,106.1 151.0,106.6 151.5,117.1 152.0,125.5 152.5,134.4 153.0,136.3 153.5,141.4 154.0,142.9 154.5,142.9 155.0,145.7 155.5,149.8 156.0,150.0 156.5,150.5 157.0,149.8 157.5,150.0 158.0,150.1 158.5,153.8 159.0,153.8 159.5,154.3 160.0,154.4 160.5,153.8 161.0,154.1 161.5,159.6 162.0,160.5 162.5,162.6 163.0,162.7 163.5,159.5 164.0,159.4 164.5,163.9 165.0,163.7 165.5,168.8 166.0,170.8 166.5,171.0 167.0,173.5 167.5,174.0 168.0,175.4 168.5,176.2 169.0,176.7 169.5,180.9 170.0,178.0 170.5,177.9 171.0,182.6 171.5,176.7 172.0,176.4 172.5,178.0 173.0,184.7 173.5,185.4 174.0,188.6 174.5,190.0 175.0,195.0 175.5,193.9 176.0,194.0 176.5,198.3 177.0,199.3 177.5,199.6 178.0,202.8 178.5,203.0 179.0,204.0 179.5,205.9 180.0,206.4 180.5,206.5 181.0,208.1 181.5,204.0 182.0,204.1 182.5,212.2 183.0,209.9 183.5,210.2 184.0,213.0 184.5,210.8 185.0,210.7 185.5,211.7 186.0,213.8 186.5,213.3 187.0,213.8 187.5,213.7 188.0,213.6 188.5,216.7 189.0,217.9 189.5,219.1 190.0,214.0 190.5,214.0 191.0,219.5 191.5,217.1 192.0,217.3 192.5,219.4 193.0,219.5 193.5,217.1 194.0,217.0 194.5,219.6 195.0,220.7 195.5,222.2 196.0,221.5 196.5,221.5 197.0,220.0 197.5,219.9 198.0,224.3 198.5,223.7 199.0,223.5 199.5,223.7 200.0,224.7 200.5,224.7 201.0,228.4 201.5,227.7 202.0,227.6 202.5,225.4 203.0,225.5 203.5,229.9 204.0,229.2 204.5,228.7 205.0,229.2 205.5,231.2 206.0,231.3 206.5,230.9 207.0,229.4 207.5,228.9 208.0,229.4 208.5,231.5 209.0,232.3 209.5,232.4 210.0,232.8 210.5,232.7 211.0,235.4 211.5,234.4 212.0,234.7 212.5,234.8 213.0,234.8 213.5,236.4 214.0,235.8 214.5,233.6 215.0,233.9 215.5,237.5 216.0,237.6 216.5,238.6 217.0,238.7 217.5,240.2 218.0,240.5 218.5,241.0 219.0,241.2 219.5,240.7 220.0,241.2 220.5,241.2 221.0,242.4 221.5,244.2 222.0,243.2 222.5,243.5 223.0,243.7 223.5,243.6 224.0,243.4 224.5,242.8 225.0,242.7 225.5,244.4 226.0,243.9 226.5,243.7 227.0,245.6 227.5,245.3 228.0,241.1 228.5,241.1 229.0,245.9 229.5,245.7 230.0,246.6 230.5,245.8 231.0,245.2 231.5,245.4 232.0,245.3 232.5,244.9 233.0,244.0 233.5,244.1 234.0,244.7 234.5,245.0 235.0,247.5 235.5,242.9 236.0,242.8 236.5,244.2 237.0,245.4 237.5,245.2 238.0,246.2 238.5,245.1 239.0,243.7 239.5,243.6 240.0,244.0 240.5,241.1 241.0,236.8 241.5,233.0 242.0,233.0 242.5,238.7 243.0,239.2 243.5,239.1 244.0,240.5 244.5,240.5 245.0,241.3 245.5,241.6 246.0,239.7 246.5,239.6 247.0,239.8 247.5,237.7 248.0,238.0 248.5,240.3 249.0,240.3 249.5,238.2 250.0,237.9 250.5,236.8 251.0,236.4 251.5,236.4 252.0,236.6 252.5,238.0 253.0,237.6 253.5,237.0 254.0,237.3 254.5,238.6 255.0,239.2 255.5,234.2 256.0,234.1 256.5,236.9 257.0,237.0 257.5,235.4 258.0,234.3 258.5,234.2 259.0,235.4 259.5,234.3 260.0,234.4 260.5,234.7 261.0,234.5 261.5,235.2 262.0,233.8 262.5,232.7 263.0,232.6 263.5,233.8 264.0,234.0 264.5,235.7 265.0,236.3 265.5,233.8 266.0,233.3 266.5,233.8 267.0,233.7 267.5,234.5 268.0,235.0 268.5,237.3 269.0,237.1 269.5,236.8 270.0,237.3 270.5,238.4 271.0,237.9 271.5,237.9 272.0,237.1 272.5,236.9 273.0,239.1 273.5,239.3 274.0,239.4 274.5,239.5 275.0,239.5 275.5,239.4 276.0,239.6 276.5,239.5 277.0,241.0 277.5,242.0 278.0,242.2 278.5,240.2 279.0,240.4 279.5,242.9 280.0,245.4 280.5,244.3 281.0,244.6 281.5,246.7 282.0,246.9 282.5,246.8 283.0,246.5 283.5,247.8 284.0,245.2 284.5,245.3 285.0,249.8 285.5,249.8 286.0,250.0 286.5,252.0 287.0,251.9 287.5,251.7 288.0,251.0 288.5,251.1 289.0,251.7 289.5,253.2 290.0,253.7 290.5,254.4 291.0,255.8 291.5,255.6 292.0,256.8 292.5,258.1 293.0,258.4 293.5,258.2 294.0,257.6 294.5,257.4 295.0,259.1 295.5,257.8 296.0,257.3 296.5,257.5 297.0,257.7 297.5,261.1 298.0,261.3 298.5,259.7 299.0,259.2 299.5,259.7 300.0,257.9 300.5,258.0 301.0,259.4 301.5,259.5 302.0,259.4 302.5,261.0 303.0,263.7 303.5,263.0 304.0,262.9 304.5,264.4 305.0,264.2 305.5,264.7 306.0,262.6 306.5,262.7 307.0,265.5 307.5,265.5 308.0,263.4 308.5,263.5 309.0,262.1 309.5,261.6 310.0,262.1 310.5,266.2 311.0,265.9 311.5,266.1 312.0,266.7 312.5,265.7 313.0,265.7 313.5,265.8 314.0,265.6 314.5,266.1 315.0,268.6 315.5,268.2 316.0,267.8 316.5,268.0 317.0,264.6 317.5,264.3 318.0,264.7 318.5,268.3 319.0,268.0 319.5,268.2 320.0,268.6 320.5,268.4 321.0,268.2 321.5,267.7 322.0,268.2 322.5,268.4 323.0,268.6 323.5,268.5 324.0,269.7 324.5,269.8 325.0,268.7 325.5,268.7 326.0,269.2 326.5,269.1 327.0,269.0 327.5,270.2 328.0,270.2 328.5,268.5 329.0,268.6 329.5,269.3 330.0,270.8 330.5,271.5 331.0,271.2 331.5,271.7 332.0,272.1 332.5,271.9 333.0,269.5 333.5,269.0 334.0,269.5 334.5,269.8 335.0,270.1 335.5,272.1 336.0,272.0 336.5,273.4 337.0,273.1 337.5,272.8 338.0,273.1 338.5,273.6 339.0,270.8 339.5,270.8 340.0,271.2 340.5,272.1 341.0,272.0 341.5,273.4 342.0,270.1 342.5,270.0 343.0,273.9 343.5,273.1 344.0,273.4 344.5,273.7 345.0,273.6 345.5,271.3 346.0,271.2 346.5,273.5 347.0,273.6 347.5,273.5 348.0,273.3 348.5,274.6 349.0,273.2 349.5,271.3 350.0,271.6 350.5,275.0 351.0,274.3 351.5,274.3 352.0,275.7 352.5,275.9 353.0,276.3 353.5,276.4 354.0,275.1 354.5,275.1 355.0,273.8 355.5,273.6 356.0,275.2 356.5,275.1 357.0,275.5 357.5,276.9 358.0,276.2 358.5,276.0 359.0,275.8 359.5,276.0 360.0,276.1 360.5,275.6 361.0,275.4 361.5,276.2 362.0,275.7 362.5,276.2 363.0,276.3 363.5,276.0 364.0,276.5 364.5,276.7 365.0,277.4 365.5,277.3 366.0,275.4 366.5,275.7 367.0,277.6 367.5,277.8 368.0,277.5 368.5,277.4 369.0,278.4 369.5,278.5 370.0,278.0 370.5,278.0 371.0,278.9 371.5,279.1 372.0,278.8 372.5,278.6 373.0,278.6 373.5,277.5 374.0,276.1 374.5,276.1 375.0,278.5 375.5,278.3 376.0,276.4 376.5,276.4 377.0,278.8 377.5,278.9 378.0,277.8 378.5,278.1 379.0,279.1 379.5,276.7 380.0,276.8 380.5,278.1 381.0,279.1 381.5,277.8 382.0,277.7 382.5,278.9 383.0,280.8 383.5,278.9 384.0,278.0 384.5,277.5 385.0,278.0 385.5,274.3 386.0,273.5 386.5,273.5 387.0,274.4 387.5,276.3 388.0,280.2 388.5,278.7 389.0,278.5 389.5,280.1 390.0,278.7 390.5,278.5 391.0,279.4 391.5,280.0 392.0,280.3 392.5,281.2 393.0,280.2 393.5,280.3 394.0,278.7 394.5,278.9 395.0,282.6 395.5,282.4 396.0,282.1 396.5,282.3 397.0,280.0 397.5,280.2 398.0,283.4 398.5,283.5 399.0,283.3 399.5,281.5 400.0,281.4 400.5,282.0 401.0,281.9 401.5,283.5 402.0,282.5 402.5,282.5 403.0,283.3 403.5,282.9 404.0,282.4 404.5,282.9 405.0,284.1 405.5,282.2 406.0,282.1 406.5,284.3 407.0,284.5 407.5,284.9 408.0,283.7 408.5,283.8 409.0,285.9 409.5,282.8 410.0,282.3 410.5,282.8 411.0,281.5 411.5,281.8 412.0,282.6 412.5,285.1 413.0,284.6 413.5,285.1 414.0,285.9 414.5,285.7 415.0,285.5 415.5,285.3 416.0,285.2 416.5,286.3 417.0,286.3 417.5,286.2 418.0,286.2 418.5,286.3 419.0,285.8 419.5,285.7 420.0,285.7 420.5,285.9 421.0,286.2 421.5,286.4 422.0,285.1 422.5,285.0 423.0,286.8 423.5,287.3 424.0,287.4 424.5,287.1 425.0,286.6 425.5,287.1 426.0,286.3 426.5,286.3 427.0,287.0 427.5,287.0 428.0,288.0 428.5,285.9 429.0,285.7 429.5,286.5 430.0,286.7 430.5,285.7 431.0,285.9 431.5,285.6 432.0,285.4 432.5,285.7 433.0,284.8 433.5,284.6 434.0,284.6 434.5,285.4 435.0,285.4 435.5,286.7 436.0,286.8 436.5,286.6 437.0,286.7 437.5,288.0 438.0,287.9 438.5,287.8 439.0,290.0 439.5,289.8 440.0,288.9 440.5,288.8 441.0,289.3 441.5,287.5 442.0,287.5 442.5,290.8 443.0,290.4 443.5,290.6 444.0,290.4 444.5,290.4 445.0,290.5 445.5,290.6 446.0,290.5 446.5,290.3 447.0,290.3 447.5,291.9 448.0,289.6 448.5,289.6 449.0,290.4 449.5,290.1 450.0,290.9 450.5,291.1 451.0,290.6 451.5,290.4 452.0,290.5 452.5,290.6 453.0,290.4 453.5,291.3 454.0,291.0 454.5,290.9 455.0,290.7 455.5,290.8 456.0,291.6 456.5,291.9 457.0,290.5 457.5,289.6 458.0,289.6 458.5,290.7 459.0,290.6 459.5,292.5 460.0,292.0 460.5,292.0 461.0,291.5 461.5,292.0 462.0,291.2 462.5,290.8 463.0,291.3 463.5,291.2 464.0,291.0 464.5,291.5 465.0,291.2 465.5,291.3 466.0,292.2 466.5,291.1 467.0,290.6 467.5,291.1 468.0,290.8 468.5,290.9 469.0,291.1 469.5,290.9 470.0,291.8 470.5,291.4 471.0,291.2 471.5,292.3 472.0,291.8 472.5,291.9 473.0,291.8 473.5,292.3 474.0,291.5 474.5,291.6 475.0,291.7 475.5,291.9 476.0,292.7 476.5,292.0 477.0,292.2 477.5,292.7 478.0,291.9 478.5,292.1 479.0,291.0 479.5,291.2 480.0,291.2 480.5,292.3 481.0,292.4 481.5,291.8 482.0,291.3 482.5,291.8 483.0,292.8 483.5,293.0 484.0,291.7 484.5,291.6 485.0,292.7 485.5,292.5 486.0,292.2 486.5,292.1 487.0,290.8 487.5,290.6 488.0,291.5 488.5,292.0 489.0,292.0 489.5,291.9 490.0,292.3 490.5,293.2 491.0,291.2 491.5,290.9 492.0,291.1 492.5,293.2 493.0,292.8 493.5,292.1 494.0,292.2 494.5,293.1 495.0,292.3 495.5,292.3 496.0,292.2 496.5,292.8 497.0,292.5 497.5,292.5 498.0,292.1 498.5,291.6 499.0,291.3 499.5,291.5 500.0,293.7 500.5,293.9 501.0,294.2 501.5,293.5 502.0,293.5 502.5,293.6 503.0,293.6 503.5,293.4 504.0,292.5 504.5,292.7 505.0,292.7 505.5,292.3 506.0,292.2 506.5,294.1 507.0,294.6 507.5,291.5 508.0,291.5 508.5,294.3 509.0,294.0 509.5,292.7 510.0,292.9 510.5,291.4 511.0,291.3 511.5,293.9 512.0,293.8 512.5,293.7 513.0,293.5 513.5,293.7 514.0,294.3 514.5,294.3 515.0,294.0 515.5,292.5 516.0,291.3 516.5,291.5 517.0,292.3 517.5,292.3 518.0,293.0 518.5,293.1 519.0,293.0 519.5,292.6 520.0,292.3 520.5,292.7 521.0,292.6 521.5,293.6 522.0,293.8 522.5,293.3 523.0,293.0 523.5,292.8 524.0,292.7 524.5,291.7 525.0,291.5 525.5,292.2 526.0,292.3 526.5,291.8 527.0,291.8 527.5,293.1 528.0,292.7 528.5,292.5 529.0,293.3 529.5,292.3 530.0,292.4 530.5,292.7 531.0,293.3 531.5,293.6 532.0,293.0 532.5,292.1 533.0,292.0 533.5,291.1 534.0,291.1 534.5,293.3 535.0,293.4 535.4,293.8 535.4,296.5 535.0,296.6 534.5,296.6 534.0,295.7 533.5,296.6 533.0,296.4 532.5,296.3 532.0,297.2 531.5,297.3 531.0,296.8 530.5,295.5 530.0,295.2 529.5,295.2 529.0,296.0 528.5,296.0 528.0,297.3 527.5,297.3 527.0,295.6 526.5,296.5 526.0,296.3 525.5,296.1 525.0,296.3 524.5,296.5 524.0,295.9 523.5,296.5 523.0,297.3 522.5,297.2 522.0,296.2 521.5,296.1 521.0,296.2 520.5,296.3 520.0,296.5 519.5,296.3 519.0,295.2 518.5,296.2 518.0,296.1 517.5,296.1 517.0,295.9 516.5,297.0 516.0,296.9 515.5,296.5 515.0,297.1 514.5,297.1 514.0,296.9 513.5,297.2 513.0,297.1 512.5,296.8 512.0,296.2 511.5,297.7 511.0,297.5 510.5,296.9 510.0,296.8 509.5,296.6 509.0,296.3 508.5,295.9 508.0,296.0 507.5,297.0 507.0,297.0 506.5,297.2 506.0,297.6 505.5,297.1 505.0,296.3 504.5,296.3 504.0,295.9 503.5,297.4 503.0,297.3 502.5,297.0 502.0,297.8 501.5,297.5 501.0,297.4 500.5,296.5 500.0,297.6 499.5,297.9 499.0,296.8 498.5,295.9 498.0,296.2 497.5,296.2 497.0,297.6 496.5,297.7 496.0,296.1 495.5,297.1 495.0,297.0 494.5,296.9 494.0,295.1 493.5,295.0 493.0,295.8 492.5,295.8 492.0,296.1 491.5,295.0 491.0,294.7 490.5,294.9 490.0,294.7 489.5,295.0 489.0,294.5 488.5,294.2 488.0,294.0 487.5,294.8 487.0,297.0 486.5,297.1 486.0,295.1 485.5,295.1 485.0,294.9 484.5,294.5 484.0,295.2 483.5,296.2 483.0,296.5 482.5,295.7 482.0,296.1 481.5,296.4 481.0,296.3 480.5,296.4 480.0,295.8 479.5,295.0 479.0,295.3 478.5,295.6 478.0,295.2 477.5,296.7 477.0,296.8 476.5,295.9 476.0,296.0 475.5,294.8 475.0,294.5 474.5,294.5 474.0,295.7 473.5,295.7 473.0,295.3 472.5,294.1 472.0,294.0 471.5,295.2 471.0,295.1 470.5,294.7 470.0,294.6 469.5,294.6 469.0,294.6 468.5,294.1 468.0,293.6 467.5,293.4 467.0,293.9 466.5,296.2 466.0,296.4 465.5,295.0 465.0,296.3 464.5,296.4 464.0,294.4 463.5,295.0 463.0,295.0 462.5,295.5 462.0,295.8 461.5,294.9 461.0,294.7 460.5,294.6 460.0,294.7 459.5,294.9 459.0,294.2 458.5,294.2 458.0,294.2 457.5,295.0 457.0,295.2 456.5,294.8 456.0,294.5 455.5,294.3 455.0,294.5 454.5,294.7 454.0,294.2 453.5,295.1 453.0,295.4 452.5,293.9 452.0,295.1 451.5,295.0 451.0,294.6 450.5,295.6 450.0,295.7 449.5,294.5 449.0,293.6 448.5,295.2 448.0,295.0 447.5,295.0 447.0,294.9 446.5,295.0 446.0,295.1 445.5,294.0 445.0,294.1 444.5,294.2 444.0,293.5 443.5,293.4 443.0,293.7 442.5,294.1 442.0,294.3 441.5,293.4 441.0,293.4 440.5,293.6 440.0,292.8 439.5,292.7 439.0,293.3 438.5,293.8 438.0,294.0 437.5,293.8 437.0,291.5 436.5,291.7 436.0,289.9 435.5,288.7 435.0,288.8 434.5,290.6 434.0,290.6 433.5,290.1 433.0,290.0 432.5,290.1 432.0,289.8 431.5,289.8 431.0,292.6 430.5,292.5 430.0,290.0 429.5,290.7 429.0,290.6 428.5,290.0 428.0,290.2 427.5,291.2 427.0,291.4 426.5,290.2 426.0,290.8 425.5,291.0 425.0,290.9 424.5,290.8 424.0,290.3 423.5,290.2 423.0,289.8 422.5,291.0 422.0,290.7 421.5,289.5 421.0,290.0 420.5,290.1 420.0,289.6 419.5,293.4 419.0,293.3 418.5,289.6 418.0,290.0 417.5,290.1 417.0,291.4 416.5,291.5 416.0,289.6 415.5,291.9 415.0,291.7 414.5,290.3 414.0,289.6 413.5,290.3 413.0,290.0 412.5,288.9 412.0,289.4 411.5,289.2 411.0,288.7 410.5,288.3 410.0,288.2 409.5,288.7 409.0,290.5 408.5,290.4 408.0,289.3 407.5,288.8 407.0,289.3 406.5,289.4 406.0,288.4 405.5,286.6 405.0,287.7 404.5,287.5 404.0,287.3 403.5,287.4 403.0,288.2 402.5,288.7 402.0,288.2 401.5,287.3 401.0,287.2 400.5,285.6 400.0,289.0 399.5,289.5 399.0,289.0 398.5,287.3 398.0,286.6 397.5,286.7 397.0,286.2 396.5,285.7 396.0,285.3 395.5,287.0 395.0,287.5 394.5,287.0 394.0,284.5 393.5,286.3 393.0,286.6 392.5,285.6 392.0,284.9 391.5,284.4 391.0,284.6 390.5,284.6 390.0,282.7 389.5,283.1 389.0,283.7 388.5,284.0 388.0,282.7 387.5,282.4 387.0,282.3 386.5,277.1 386.0,278.0 385.5,282.9 385.0,285.7 384.5,285.8 384.0,282.7 383.5,284.2 383.0,284.1 382.5,281.8 382.0,283.2 381.5,283.9 381.0,283.9 380.5,282.7 380.0,282.7 379.5,282.2 379.0,284.1 378.5,284.3 378.0,283.1 377.5,283.3 377.0,283.2 376.5,282.7 376.0,282.1 375.5,283.8 375.0,283.7 374.5,283.0 374.0,281.7 373.5,282.3 373.0,282.7 372.5,283.1 372.0,282.6 371.5,284.9 371.0,284.9 370.5,284.0 370.0,282.1 369.5,281.4 369.0,283.2 368.5,283.2 368.0,282.2 367.5,281.0 367.0,283.5 366.5,283.6 366.0,282.6 365.5,282.8 365.0,282.3 364.5,280.7 364.0,280.7 363.5,281.3 363.0,281.6 362.5,281.7 362.0,281.8 361.5,281.2 361.0,280.7 360.5,281.9 360.0,282.2 359.5,280.3 359.0,281.2 358.5,281.2 358.0,282.6 357.5,282.7 357.0,282.5 356.5,280.4 356.0,280.5 355.5,280.1 355.0,280.6 354.5,280.6 354.0,280.1 353.5,281.6 353.0,281.7 352.5,283.1 352.0,282.9 351.5,278.8 351.0,280.5 350.5,280.7 350.0,279.2 349.5,279.4 349.0,279.6 348.5,279.2 348.0,279.5 347.5,278.4 347.0,278.7 346.5,278.2 346.0,277.6 345.5,278.5 345.0,278.8 344.5,277.9 344.0,278.4 343.5,277.9 343.0,277.5 342.5,278.2 342.0,278.3 341.5,276.5 341.0,276.8 340.5,278.2 340.0,280.4 339.5,280.9 339.0,280.4 338.5,276.4 338.0,276.4 337.5,275.4 337.0,278.3 336.5,278.8 336.0,278.3 335.5,276.8 335.0,275.4 334.5,278.4 334.0,278.2 333.5,274.6 333.0,275.2 332.5,275.4 332.0,276.0 331.5,276.3 331.0,275.9 330.5,276.4 330.0,276.3 329.5,274.4 329.0,275.5 328.5,275.8 328.0,275.1 327.5,275.1 327.0,274.6 326.5,273.7 326.0,274.1 325.5,275.7 325.0,275.5 324.5,273.2 324.0,273.8 323.5,274.2 323.0,274.5 322.5,277.0 322.0,276.8 321.5,273.1 321.0,271.9 320.5,273.6 320.0,273.7 319.5,271.9 319.0,274.1 318.5,274.3 318.0,272.1 317.5,273.7 317.0,273.7 316.5,272.5 316.0,271.5 315.5,271.9 315.0,272.2 314.5,272.2 314.0,272.7 313.5,272.8 313.0,270.8 312.5,271.9 312.0,271.9 311.5,271.7 311.0,271.8 310.5,269.3 310.0,270.3 309.5,270.0 309.0,270.0 308.5,271.7 308.0,271.7 307.5,268.7 307.0,271.9 306.5,272.4 306.0,271.9 305.5,269.3 305.0,268.1 304.5,269.7 304.0,269.7 303.5,269.7 303.0,267.7 302.5,267.1 302.0,267.9 301.5,269.9 301.0,269.7 300.5,265.5 300.0,266.4 299.5,267.1 299.0,267.0 298.5,266.1 298.0,265.0 297.5,265.0 297.0,265.4 296.5,266.5 296.0,266.2 295.5,266.5 295.0,266.7 294.5,262.6 294.0,261.6 293.5,262.3 293.0,262.3 292.5,262.3 292.0,262.1 291.5,260.7 291.0,260.5 290.5,260.0 290.0,260.0 289.5,258.2 289.0,258.8 288.5,259.3 288.0,258.8 287.5,256.9 287.0,257.4 286.5,257.7 286.0,257.5 285.5,258.4 285.0,258.3 284.5,255.8 284.0,254.1 283.5,254.1 283.0,253.1 282.5,253.2 282.0,252.7 281.5,253.0 281.0,252.7 280.5,252.2 280.0,249.3 279.5,249.0 279.0,248.5 278.5,251.1 278.0,250.8 277.5,250.1 277.0,247.8 276.5,248.0 276.0,245.5 275.5,247.5 275.0,247.6 274.5,245.6 274.0,245.3 273.5,245.8 273.0,245.3 272.5,245.1 272.0,245.0 271.5,248.3 271.0,248.5 270.5,244.8 270.0,242.5 269.5,242.0 269.0,244.1 268.5,244.2 268.0,241.6 267.5,242.3 267.0,242.4 266.5,241.1 266.0,240.3 265.5,241.9 265.0,242.1 264.5,238.7 264.0,237.9 263.5,241.2 263.0,241.4 262.5,240.4 262.0,240.4 261.5,239.9 261.0,242.4 260.5,242.6 260.0,242.0 259.5,245.2 259.0,245.2 258.5,240.1 258.0,241.3 257.5,241.5 257.0,241.7 256.5,242.6 256.0,243.2 255.5,243.3 255.0,242.5 254.5,243.7 254.0,244.2 253.5,243.9 253.0,243.7 252.5,245.1 252.0,245.0 251.5,244.6 251.0,244.5 250.5,246.1 250.0,245.9 249.5,245.5 249.0,245.5 248.5,244.0 248.0,244.1 247.5,243.5 247.0,244.2 246.5,244.7 246.0,246.8 245.5,247.0 245.0,244.7 244.5,244.8 244.0,244.4 243.5,244.1 243.0,243.7 242.5,243.2 242.0,241.2 241.5,244.3 241.0,246.7 240.5,247.9 240.0,248.5 239.5,248.3 239.0,248.5 238.5,250.9 238.0,250.7 237.5,248.6 237.0,249.8 236.5,250.0 236.0,248.6 235.5,251.7 235.0,251.5 234.5,249.7 234.0,252.2 233.5,252.2 233.0,251.0 232.5,251.1 232.0,251.2 231.5,251.7 231.0,251.2 230.5,252.9 230.0,252.9 229.5,251.9 229.0,250.4 228.5,251.8 228.0,252.5 227.5,252.4 227.0,253.7 226.5,253.5 226.0,251.3 225.5,251.3 225.0,249.0 224.5,249.9 224.0,249.6 223.5,249.4 223.0,249.4 222.5,247.3 222.0,249.1 221.5,249.3 221.0,247.7 220.5,245.8 220.0,248.0 219.5,248.2 219.0,248.6 218.5,248.4 218.0,246.5 217.5,247.6 217.0,248.4 216.5,248.4 216.0,246.5 215.5,244.3 215.0,244.9 214.5,244.8 214.0,244.3 213.5,243.8 213.0,242.3 212.5,242.1 212.0,241.2 211.5,241.3 211.0,240.6 210.5,240.3 210.0,240.3 209.5,240.3 209.0,240.1 208.5,239.3 208.0,239.0 207.5,238.9 207.0,239.2 206.5,239.0 206.0,238.3 205.5,238.6 205.0,238.7 204.5,238.4 204.0,234.4 203.5,234.4 203.0,232.9 202.5,231.9 202.0,231.9 201.5,233.3 201.0,233.9 200.5,233.9 200.0,230.6 199.5,230.1 199.0,229.2 198.5,229.2 198.0,231.2 197.5,231.4 197.0,228.7 196.5,227.5 196.0,227.0 195.5,227.1 195.0,226.6 194.5,225.3 194.0,224.8 193.5,229.1 193.0,229.3 192.5,223.1 192.0,224.2 191.5,224.2 191.0,223.2 190.5,223.4 190.0,225.1 189.5,225.1 189.0,224.9 188.5,224.7 188.0,222.9 187.5,220.4 187.0,220.4 186.5,221.1 186.0,221.4 185.5,219.6 185.0,217.9 184.5,217.5 184.0,216.3 183.5,216.4 183.0,218.4 182.5,219.7 182.0,219.4 181.5,214.8 181.0,214.6 180.5,214.3 180.0,214.2 179.5,212.0 179.0,210.2 178.5,209.7 178.0,207.7 177.5,207.6 177.0,204.3 176.5,205.1 176.0,204.8 175.5,198.7 175.0,200.0 174.5,199.9 174.0,195.9 173.5,195.6 173.0,195.7 172.5,189.7 172.0,186.9 171.5,186.8 171.0,187.5 170.5,187.5 170.0,185.6 169.5,184.3 169.0,184.1 168.5,182.0 168.0,181.8 167.5,182.7 167.0,182.4 166.5,179.9 166.0,180.8 165.5,180.7 165.0,175.2 164.5,175.1 164.0,175.6 163.5,175.1 163.0,168.8 162.5,171.2 162.0,171.3 161.5,164.7 161.0,164.1 160.5,162.5 160.0,162.8 159.5,162.6 159.0,160.6 158.5,160.4 158.0,162.3 157.5,162.2 157.0,157.2 156.5,157.4 156.0,156.5 155.5,154.1 155.0,154.0 154.5,151.0 154.0,149.6 153.5,149.3 153.0,147.9 152.5,141.8 152.0,138.5 151.5,135.2 151.0,125.5 150.5,121.6 150.0,110.9 149.5,121.3 149.0,122.5 148.5,122.6 148.0,126.1 147.5,126.0 147.0,122.1 146.5,118.4 146.0,108.8 145.5,108.3 145.0,103.7 144.5,99.1 144.0,98.9 143.5,98.4 143.0,98.4 142.5,92.1 142.0,91.9 141.5,90.5 141.0,87.1 140.5,84.2 140.0,82.5 139.5,82.4 139.0,81.3 138.5,79.8 138.0,80.1 137.5,77.1 137.0,72.1 136.5,67.3 136.0,69.3 135.5,69.4 135.0,63.9 134.5,61.7 134.0,59.2 133.5,54.3 133.0,57.0 132.5,57.5 132.0,57.0 131.5,51.8 131.0,49.7 130.5,51.5 130.0,51.7 129.5,42.9 129.0,42.1 128.5,42.3 128.0,43.5 127.5,43.4 127.0,41.5 126.5,42.0 126.0,42.1 125.5,38.3 125.0,38.4 124.5,36.7 124.0,36.5 123.5,36.4 123.0,37.9 122.5,39.5 122.0,39.2 121.5,37.4 121.0,36.4 120.5,35.7 120.0,39.3 119.5,39.1 119.0,36.1 118.5,34.8 118.0,40.3 117.5,42.0 117.0,41.9 116.5,39.8 116.0,40.3 115.5,41.6 115.0,42.3 114.5,42.8 114.0,42.3 113.5,41.3 113.0,42.4 112.5,42.9 112.0,45.9 111.5,45.8 111.0,46.0 110.5,52.7 110.0,52.8 109.5,50.8 109.0,54.5 108.5,54.2 108.0,50.5 107.5,51.1 107.0,54.6 106.5,57.2 106.0,57.2 105.5,57.2 105.0,59.7 104.5,60.5 104.0,62.1 103.5,63.3 103.0,63.2 102.5,63.6 102.0,66.9 101.5,67.1 101.0,62.5 100.5,66.5 100.0,66.7 99.5,66.7 99.0,66.4 98.5,69.8 98.0,70.0 97.5,65.1 97.0,68.7 96.5,70.0 96.0,71.3 95.5,73.8 95.0,74.2 94.5,74.8 94.0,74.7 93.5,76.4 93.0,76.3 92.5,76.1 92.0,78.9 91.5,79.4 91.0,81.2 90.5,82.8 90.0,83.0 89.5,83.0 89.0,83.5 88.5,83.1 88.0,82.4 87.5,85.9 87.0,86.2 86.5,86.9 86.0,87.3 85.5,87.3 85.0,88.6 84.5,89.4 84.0,90.4 83.5,92.1 83.0,94.3 82.5,94.5 82.0,98.1 81.5,98.2 81.0,97.3 80.5,97.5 80.0,97.5 79.5,97.8 79.0,97.3 78.5,97.3 78.0,99.5 77.5,101.7 77.0,103.2 76.5,103.1 76.0,98.1 75.5,100.9 75.0,101.2 74.5,103.0 74.0,103.5 73.5,103.0 73.0,101.5 72.5,104.8 72.0,105.0 71.5,105.2 71.0,105.7 70.5,105.2 70.0,104.2 69.5,107.0 69.0,107.1 68.5,104.5 68.0,103.9 67.5,104.2 67.0,105.9 66.5,108.6 66.0,108.8 65.5,108.1 65.0,106.8 64.5,106.9 64.0,107.3 63.5,107.8 63.0,107.9 62.5,109.6 62.0,109.7 61.5,111.5 61.0,111.7 60.5,106.3 60.0,112.1 59.5,112.1 59.0,108.1 58.5,108.2 58.0,113.7 57.5,113.4 57.0,106.0 56.5,106.0 56.0,103.0 55.5,105.8 55.0,105.6 54.5,104.2 54.0,103.7 53.5,101.9 53.0,102.3 52.5,102.6 52.0,102.6 51.5,102.6 51.0,102.1 50.5,102.1 50.0,98.4 49.5,98.7 49.0,97.4 48.5,93.3 48.0,92.8 47.5,94.9 47.0,95.0 46.5,91.7 46.0,89.2 45.5,90.8 45.0,92.7 44.5,92.5 44.0,89.2 43.5,88.9 43.0,88.7 42.5,90.1 42.0,90.4 41.5,88.2 41.0,88.1 40.5,84.4 40.0,85.7 39.5,85.5 39.0,83.5 38.5,84.0 38.0,83.9 37.5,81.2 37.0,81.8 36.5,86.2 36.0,86.2 35.5,85.4 35.0,81.8 34.5,78.4 34.0,78.2 33.5,79.5 33.0,80.3 32.5,80.1 32.0,77.8 31.5,77.5 31.0,77.5 30.5,80.6 30.0,80.9 29.5,78.9 29.0,78.2 28.5,74.8 28.0,71.8 27.5,70.1 27.0,72.2 26.5,72.4 26.0,72.9 25.5,72.4 25.0,68.8 24.5,67.8 24.0,67.8 23.5,67.8 23.0,63.8 22.5,63.3 22.0,60.6 21.5,59.7 21.0,57.7 20.5,57.8 20.0,58.0 19.5,57.5 19.0,54.1 18.5,54.1 18.0,52.2 17.5,51.0 17.0,49.3 16.5,48.8 16.0,44.6 15.5,44.5 15.0,44.4 14.5,44.0 14.0,44.5 13.5,44.0 13.0,40.3 12.5,40.4"/>
<polygon fill="#0000be" points="12.5,66.3 13.0,66.3 13.5,66.6 14.0,69.6 14.5,70.6 15.0,71.1 15.5,71.4 16.0,72.4 16.5,76.0 17.0,76.1 17.5,76.6 18.0,79.0 18.5,81.1 19.0,81.6 19.5,81.8 20.0,82.5 20.5,84.1 21.0,87.5 21.5,88.8 22.0,90.9 22.5,93.2 23.0,93.9 23.5,95.9 24.0,96.4 24.5,96.7 25.0,97.5 25.5,99.3 26.0,100.1 26.5,101.2 27.0,101.7 27.5,102.0 28.0,106.1 28.5,106.1 29.0,106.2 29.5,106.5 30.0,108.8 30.5,109.8 31.0,110.7 31.5,111.0 32.0,112.2 32.5,113.3 33.0,115.7 33.5,115.6 34.0,115.7 34.5,115.7 35.0,116.0 35.5,116.2 36.0,116.5 36.5,119.5 37.0,119.9 37.5,120.0 38.0,119.9 38.5,119.7 39.0,119.8 39.5,120.1 40.0,125.0 40.5,125.2 41.0,125.5 41.5,126.1 42.0,126.6 42.5,126.4 43.0,126.5 43.5,126.8 44.0,129.8 44.5,130.8 45.0,132.0 45.5,131.0 46.0,130.7 46.5,130.7 47.0,130.6 47.5,130.8 48.0,131.4 48.5,134.5 49.0,135.1 49.5,135.1 50.0,135.0 50.5,135.1 51.0,135.5 51.5,137.5 52.0,136.8 52.5,136.6 53.0,136.7 53.5,136.9 54.0,138.1 54.5,137.3 55.0,137.1 55.5,137.1 56.0,137.3 56.5,138.3 57.0,139.5 57.5,139.5 58.0,139.8 58.5,140.5 59.0,138.6 59.5,138.0 60.0,137.8 60.5,137.8 61.0,138.0 61.5,139.9 62.0,140.8 62.5,140.6 63.0,140.6 63.5,140.4 64.0,140.1 64.5,139.8 65.0,139.8 65.5,139.9 66.0,140.5 66.5,137.4 67.0,136.7 67.5,136.5 68.0,136.6 68.5,136.8 69.0,138.6 69.5,138.8 70.0,139.0 70.5,138.2 71.0,137.9 71.5,137.4 72.0,136.0 72.5,135.8 73.0,135.7 73.5,135.9 74.0,136.6 74.5,136.0 75.0,133.7 75.5,132.5 76.0,132.1 76.5,131.5 77.0,131.2 77.5,131.1 78.0,130.7 78.5,129.7 79.0,129.1 79.5,128.2 80.0,127.8 80.5,127.0 81.0,126.7 81.5,126.7 82.0,123.5 82.5,123.0 83.0,122.8 83.5,122.7 84.0,122.4 84.5,122.3 85.0,118.8 85.5,118.4 86.0,118.3 86.5,117.7 87.0,112.7 87.5,112.3 88.0,112.3 88.5,112.4 89.0,112.1 89.5,111.6 90.0,109.5 90.5,108.8 91.0,108.5 91.5,108.4 92.0,108.0 92.5,105.0 93.0,104.6 93.5,103.7 94.0,103.4 94.5,103.3 95.0,102.0 95.5,97.9 96.0,94.8 96.5,94.3 97.0,94.2 97.5,94.2 98.0,94.6 98.5,91.4 99.0,91.0 99.5,90.9 100.0,91.0 100.5,91.1 101.0,88.5 101.5,88.2 102.0,86.5 102.5,85.5 103.0,83.0 103.5,82.4 104.0,82.2 104.5,78.3 105.0,78.0 105.5,77.9 106.0,76.4 106.5,75.8 107.0,75.3 107.5,71.9 108.0,71.3 108.5,71.1 109.0,69.9 109.5,69.6 110.0,69.5 110.5,67.4 111.0,64.6 111.5,63.6 112.0,63.4 112.5,63.4 113.0,63.6 113.5,61.4 114.0,61.0 114.5,59.2 115.0,57.7 115.5,57.4 116.0,57.3 116.5,57.5 117.0,57.4 117.5,56.3 118.0,55.8 118.5,55.7 119.0,55.8 119.5,55.7 120.0,55.5 120.5,55.6 121.0,55.8 121.5,57.3 122.0,57.6 122.5,58.4 123.0,58.8 123.5,59.2 124.0,61.7 124.5,62.1 125.0,62.2 125.5,62.6 126.0,64.0 126.5,63.9 127.0,63.9 127.5,64.2 128.0,67.9 128.5,67.5 129.0,67.5 129.5,67.6 130.0,68.1 130.5,73.7 131.0,76.6 131.5,76.7 132.0,77.1 132.5,82.6 133.0,82.8 133.5,85.0 134.0,86.6 134.5,89.9 135.0,92.6 135.5,94.1 136.0,96.4 136.5,96.7 137.0,97.2 137.5,99.3 138.0,100.4 138.5,100.5 139.0,101.0 139.5,104.3 140.0,105.6 140.5,106.1 141.0,111.9 141.5,113.4 142.0,114.0 142.5,117.6 143.0,119.0 143.5,121.5 144.0,127.1 144.5,131.3 145.0,132.2 145.5,134.5 146.0,137.4 146.5,143.8 147.0,145.6 147.5,149.2 148.0,155.7 148.5,144.3 149.0,143.8 149.5,143.6 150.0,143.7 150.5,144.0 151.0,146.3 151.5,150.1 152.0,155.5 152.5,161.0 153.0,170.7 153.5,179.9 154.0,181.3 154.5,186.3 155.0,191.5 155.5,192.5 156.0,196.0 156.5,199.5 157.0,199.8 157.5,204.3 158.0,206.4 158.5,208.2 159.0,209.7 159.5,211.9 160.0,211.9 160.5,212.1 161.0,212.7 161.5,217.5 162.0,219.0 162.5,219.2 163.0,219.7 163.5,222.9 164.0,223.1 164.5,223.4 165.0,226.6 165.5,228.2 166.0,228.5 166.5,231.1 167.0,231.5 167.5,232.3 168.0,232.7 168.5,234.7 169.0,235.0 169.5,235.5 170.0,235.8 170.5,234.0 171.0,233.5 171.5,233.3 172.0,233.3 172.5,233.6 173.0,235.4 173.5,238.2 174.0,244.5 174.5,247.3 175.0,248.3 175.5,251.0 176.0,252.1 176.5,253.1 177.0,253.5 177.5,256.6 178.0,256.8 178.5,257.3 179.0,260.4 179.5,261.9 180.0,262.3 180.5,264.3 181.0,264.9 181.5,265.4 182.0,265.6 182.5,266.1 183.0,268.5 183.5,269.5 184.0,269.9 184.5,270.3 185.0,270.8 185.5,271.0 186.0,272.5 186.5,272.7 187.0,273.6 187.5,273.7 188.0,274.1 188.5,275.2 189.0,276.0 189.5,276.3 190.0,277.1 190.5,278.8 191.0,279.0 191.5,278.2 192.0,277.6 192.5,277.4 193.0,277.4 193.5,277.7 194.0,281.2 194.5,281.4 195.0,281.4 195.5,281.7 196.0,282.4 196.5,282.4 197.0,282.8 197.5,284.1 198.0,285.3 198.5,285.3 199.0,285.6 199.5,286.1 200.0,286.4 200.5,286.3 201.0,286.5 201.5,287.2 202.0,288.3 202.5,288.3 203.0,288.5 203.5,289.5 204.0,290.0 204.5,290.5 205.0,290.2 205.5,290.1 206.0,290.1 206.5,290.5 207.0,291.9 207.5,292.1 208.0,292.3 208.5,292.5 209.0,292.9 209.5,294.6 210.0,294.5 210.5,294.5 211.0,294.9 211.5,296.3 212.0,296.2 212.5,295.5 213.0,295.3 213.5,295.3 214.0,295.6 214.5,296.9 215.0,298.1 215.5,298.5 216.0,298.5 216.5,298.7 217.0,298.9 217.5,298.8 218.0,298.9 218.5,299.2 219.0,299.3 219.5,299.6 220.0,299.9 220.5,300.0 221.0,300.3 221.5,300.8 222.0,300.7 222.5,300.9 223.0,301.4 223.5,302.0 224.0,302.6 224.5,302.4 225.0,302.4 225.5,302.5 226.0,302.2 226.5,302.2 227.0,302.5 227.5,302.3 228.0,301.9 228.5,301.8 229.0,301.9 229.5,302.3 230.0,302.1 230.5,302.0 231.0,302.1 231.5,302.1 232.0,302.4 232.5,301.8 233.0,301.6 233.5,301.7 234.0,301.3 234.5,301.2 235.0,301.3 235.5,301.7 236.0,301.2 236.5,301.0 237.0,301.0 237.5,301.2 238.0,300.9 238.5,300.5 239.0,300.4 239.5,300.1 240.0,294.8 240.5,290.1 241.0,289.6 241.5,289.5 242.0,289.6 242.5,289.9 243.0,292.7 243.5,293.3 244.0,296.7 244.5,296.6 245.0,296.8 245.5,296.7 246.0,296.7 246.5,296.4 247.0,296.4 247.5,296.6 248.0,296.8 248.5,295.7 249.0,295.1 249.5,294.9 250.0,294.8 250.5,294.8 251.0,293.8 251.5,293.6 252.0,293.6 252.5,293.8 253.0,293.9 253.5,292.8 254.0,292.3 254.5,292.2 255.0,292.2 255.5,292.5 256.0,292.7 256.5,292.7 257.0,292.6 257.5,292.2 258.0,290.0 258.5,289.5 259.0,289.3 259.5,289.4 260.0,289.7 260.5,290.9 261.0,289.7 261.5,289.4 262.0,289.4 262.5,289.6 263.0,290.3 263.5,290.5 264.0,291.1 264.5,290.7 265.0,290.4 265.5,290.3 266.0,290.4 266.5,290.8 267.0,290.9 267.5,291.1 268.0,291.5 268.5,291.9 269.0,292.1 269.5,292.0 270.0,292.2 270.5,292.6 271.0,293.4 271.5,293.6 272.0,293.5 272.5,293.6 273.0,294.0 273.5,295.0 274.0,295.2 274.5,295.8 275.0,296.1 275.5,297.7 276.0,297.7 276.5,297.7 277.0,297.8 277.5,298.2 278.0,298.1 278.5,298.2 279.0,298.6 279.5,298.9 280.0,299.2 280.5,300.6 281.0,300.5 281.5,300.6 282.0,301.0 282.5,303.3 283.0,303.3 283.5,303.5 284.0,304.1 284.5,304.7 285.0,304.7 285.5,304.9 286.0,305.9 286.5,307.8 287.0,307.5 287.5,307.5 288.0,307.7 288.5,308.4 289.0,309.2 289.5,309.1 290.0,309.2 290.5,309.5 291.0,310.9 291.5,310.7 292.0,310.5 292.5,310.5 293.0,310.7 293.5,311.7 294.0,314.9 294.5,314.9 295.0,315.1 295.5,315.2 296.0,315.2 296.5,314.9 297.0,314.8 297.5,314.9 298.0,315.4 298.5,316.7 299.0,315.6 299.5,315.3 300.0,315.3 300.5,315.4 301.0,315.9 301.5,317.6 302.0,317.9 302.5,318.2 303.0,318.3 303.5,318.6 304.0,318.9 304.5,319.8 305.0,320.1 305.5,320.4 306.0,320.5 306.5,320.4 307.0,320.3 307.5,320.5 308.0,320.9 308.5,321.3 309.0,320.8 309.5,320.3 310.0,320.1 310.5,320.2 311.0,320.5 311.5,322.3 312.0,322.1 312.5,321.8 313.0,320.7 313.5,320.3 314.0,320.1 314.5,320.0 315.0,320.2 315.5,320.9 316.0,321.6 316.5,323.5 317.0,324.4 317.5,324.8 318.0,325.6 318.5,326.1 319.0,325.9 319.5,325.9 320.0,326.0 320.5,326.5 321.0,327.0 321.5,326.6 322.0,326.4 322.5,326.4 323.0,326.6 323.5,326.9 324.0,327.4 324.5,327.8 325.0,327.1 325.5,326.9 326.0,326.9 326.5,327.0 327.0,327.0 327.5,327.1 328.0,327.4 328.5,327.2 329.0,327.2 329.5,327.4 330.0,328.7 330.5,328.3 331.0,328.2 331.5,328.0 332.0,328.0 332.5,328.3 333.0,328.8 333.5,328.8 334.0,329.1 334.5,329.3 335.0,329.6 335.5,330.3 336.0,330.7 336.5,330.6 337.0,330.7 337.5,330.4 338.0,330.3 338.5,330.3 339.0,330.3 339.5,330.5 340.0,330.4 340.5,330.5 341.0,330.9 341.5,331.0 342.0,331.2 342.5,331.4 343.0,331.4 343.5,331.6 344.0,331.7 344.5,331.7 345.0,331.1 345.5,330.9 346.0,330.8 346.5,331.0 347.0,331.5 347.5,331.9 348.0,332.6 348.5,332.5 349.0,332.3 349.5,331.7 350.0,331.5 350.5,331.6 351.0,331.8 351.5,332.4 352.0,332.7 352.5,332.7 353.0,332.8 353.5,333.1 354.0,333.0 354.5,333.1 355.0,333.4 355.5,333.5 356.0,333.7 356.5,334.2 357.0,334.3 357.5,334.6 358.0,335.0 358.5,335.3 359.0,335.0 359.5,334.9 360.0,335.0 360.5,335.5 361.0,335.7 361.5,335.7 362.0,335.7 362.5,335.5 363.0,335.5 363.5,335.7 364.0,336.0 364.5,335.9 365.0,335.6 365.5,335.5 366.0,335.5 366.5,334.8 367.0,334.3 367.5,334.2 368.0,334.3 368.5,334.6 369.0,336.5 369.5,336.4 370.0,336.5 370.5,336.9 371.0,336.5 371.5,336.4 372.0,336.4 372.5,336.7 373.0,336.7 373.5,336.7 374.0,336.8 374.5,337.3 375.0,337.2 375.5,337.1 376.0,337.2 376.5,337.6 377.0,337.3 377.5,336.9 378.0,336.7 378.5,336.7 379.0,337.0 379.5,338.3 380.0,338.0 380.5,337.9 381.0,338.0 381.5,338.0 382.0,337.9 382.5,337.8 383.0,337.9 383.5,338.1 384.0,338.1 384.5,338.2 385.0,338.4 385.5,338.4 386.0,338.5 386.5,338.5 387.0,338.4 387.5,338.6 388.0,339.1 388.5,339.1 389.0,338.6 389.5,338.4 390.0,338.4 390.5,338.3 391.0,338.5 391.5,339.1 392.0,340.5 392.5,340.6 393.0,340.7 393.5,340.9 394.0,341.2 394.5,341.2 395.0,341.3 395.5,341.3 396.0,340.9 396.5,340.8 397.0,340.9 397.5,341.3 398.0,341.8 398.5,341.9 399.0,341.7 399.5,341.7 400.0,342.0 400.5,343.0 401.0,343.2 401.5,343.4 402.0,343.3 402.5,343.0 403.0,343.0 403.5,343.2 404.0,343.9 404.5,344.3 405.0,344.5 405.5,345.2 406.0,345.4 406.5,345.2 407.0,345.1 407.5,345.2 408.0,345.1 408.5,344.9 409.0,344.6 409.5,344.2 410.0,344.1 410.5,344.2 411.0,344.6 411.5,345.1 412.0,345.2 412.5,345.4 413.0,345.4 413.5,345.3 414.0,345.4 414.5,345.9 415.0,346.4 415.5,346.5 416.0,346.7 416.5,346.7 417.0,346.6 417.5,346.2 418.0,346.0 418.5,346.0 419.0,346.2 419.5,347.1 420.0,346.8 420.5,346.7 421.0,346.8 421.5,346.7 422.0,346.9 422.5,347.3 423.0,347.2 423.5,347.3 424.0,347.6 424.5,347.4 425.0,347.2 425.5,347.2 426.0,347.4 426.5,347.4 427.0,347.4 427.5,347.4 428.0,347.4 428.5,346.3 429.0,346.0 429.5,346.0 430.0,346.2 430.5,346.7 431.0,347.0 431.5,346.5 432.0,346.4 432.5,346.5 433.0,346.8 433.5,347.9 434.0,348.0 434.5,347.8 435.0,347.7 435.5,347.8 436.0,348.0 436.5,348.2 437.0,348.6 437.5,348.8 438.0,348.9 438.5,349.1 439.0,349.6 439.5,349.4 440.0,349.4 440.5,349.5 441.0,350.0 441.5,350.1 442.0,350.1 442.5,349.9 443.0,349.9 443.5,350.1 444.0,350.3 444.5,350.9 445.0,351.1 445.5,351.1 446.0,350.9 446.5,350.5 447.0,350.4 447.5,350.4 448.0,350.6 448.5,351.0 449.0,351.2 449.5,351.3 450.0,351.3 450.5,351.1 451.0,350.3 451.5,350.0 452.0,350.0 452.5,350.1 453.0,350.7 453.5,351.5 454.0,351.2 454.5,351.0 455.0,350.9 455.5,350.6 456.0,350.5 456.5,350.7 457.0,351.2 457.5,351.7 458.0,351.8 458.5,352.2 459.0,352.4 459.5,352.6 460.0,352.7 460.5,352.7 461.0,352.8 461.5,352.7 462.0,352.8 462.5,352.1 463.0,351.8 463.5,351.4 464.0,351.3 464.5,351.4 465.0,351.8 465.5,352.4 466.0,352.3 466.5,352.3 467.0,352.6 467.5,352.7 468.0,352.5 468.5,352.4 469.0,352.2 469.5,352.2 470.0,352.2 470.5,352.2 471.0,352.5 471.5,352.7 472.0,352.4 472.5,352.4 473.0,352.6 473.5,352.7 474.0,352.8 474.5,352.6 475.0,352.0 475.5,351.8 476.0,351.8 476.5,352.0 477.0,353.0 477.5,352.8 478.0,352.7 478.5,351.7 479.0,351.3 479.5,351.2 480.0,351.4 480.5,351.8 481.0,353.3 481.5,353.0 482.0,352.5 482.5,352.3 483.0,352.4 483.5,352.7 484.0,352.6 484.5,352.6 485.0,352.8 485.5,353.1 486.0,352.9 486.5,352.7 487.0,352.7 487.5,352.9 488.0,352.9 488.5,352.8 489.0,352.8 489.5,352.9 490.0,352.8 490.5,352.9 491.0,353.3 491.5,353.0 492.0,352.8 492.5,352.4 493.0,351.9 493.5,351.8 494.0,351.9 494.5,352.2 495.0,352.8 495.5,352.9 496.0,353.3 496.5,353.3 497.0,353.6 497.5,353.4 498.0,353.3 498.5,353.4 499.0,353.2 499.5,352.9 500.0,352.9 500.5,353.0 501.0,353.6 501.5,352.9 502.0,352.7 502.5,352.5 503.0,352.5 503.5,352.7 504.0,353.2 504.5,353.2 505.0,353.0 505.5,353.0 506.0,353.1 506.5,353.1 507.0,353.3 507.5,354.0 508.0,353.7 508.5,353.7 509.0,353.4 509.5,353.3 510.0,353.5 510.5,353.9 511.0,354.1 511.5,353.7 512.0,353.5 512.5,353.6 513.0,352.6 513.5,352.2 514.0,352.1 514.5,352.3 515.0,352.7 515.5,353.0 516.0,353.0 516.5,353.3 517.0,353.4 517.5,353.1 518.0,352.9 518.5,352.9 519.0,352.6 519.5,352.4 520.0,352.5 520.5,352.8 521.0,353.4 521.5,353.2 522.0,353.3 522.5,353.6 523.0,353.2 523.5,353.0 524.0,353.0 524.5,353.0 525.0,352.5 525.5,352.3 526.0,352.3 526.5,352.6 527.0,353.8 527.5,353.5 528.0,353.1 528.5,353.0 529.0,351.9 529.5,351.6 530.0,351.5 530.5,351.7 531.0,352.3 531.5,352.9 532.0,353.4 532.5,353.3 533.0,353.3 533.5,353.5 534.0,353.4 534.5,353.2 535.0,353.2 535.4,353.4 535.4,361.3 535.0,361.3 534.5,361.0 534.0,360.0 533.5,358.3 533.0,358.2 532.5,358.0 532.0,358.2 531.5,358.2 531.0,358.0 530.5,357.5 530.0,357.6 529.5,357.9 529.0,358.0 528.5,357.8 528.0,357.6 527.5,357.8 527.0,357.9 526.5,358.2 526.0,358.6 525.5,358.7 525.0,358.6 524.5,358.7 524.0,358.5 523.5,358.1 523.0,358.1 522.5,357.9 522.0,357.5 521.5,357.6 521.0,357.8 520.5,358.2 520.0,358.6 519.5,358.7 519.0,358.6 518.5,358.6 518.0,358.6 517.5,358.5 517.0,357.9 516.5,357.8 516.0,357.8 515.5,357.9 515.0,358.4 514.5,358.5 514.0,358.5 513.5,358.7 513.0,358.7 512.5,358.5 512.0,358.1 511.5,358.5 511.0,358.6 510.5,358.6 510.0,358.2 509.5,358.1 509.0,357.9 508.5,358.0 508.0,358.2 507.5,358.6 507.0,358.7 506.5,358.5 506.0,358.3 505.5,358.2 505.0,358.4 504.5,358.4 504.0,358.1 503.5,357.9 503.0,358.1 502.5,358.4 502.0,358.5 501.5,358.3 501.0,358.2 500.5,358.4 500.0,358.4 499.5,358.2 499.0,357.6 498.5,357.7 498.0,358.1 497.5,358.6 497.0,358.8 496.5,358.8 496.0,358.9 495.5,359.0 495.0,358.9 494.5,358.5 494.0,357.8 493.5,357.6 493.0,357.6 492.5,357.4 492.0,357.5 491.5,357.6 491.0,357.5 490.5,357.5 490.0,357.3 489.5,357.7 489.0,357.7 488.5,357.6 488.0,357.2 487.5,357.4 487.0,357.4 486.5,357.3 486.0,357.6 485.5,357.8 485.0,357.8 484.5,357.6 484.0,357.6 483.5,357.8 483.0,357.7 482.5,357.5 482.0,357.0 481.5,357.2 481.0,357.5 480.5,357.7 480.0,357.7 479.5,357.4 479.0,357.5 478.5,357.6 478.0,357.5 477.5,357.4 477.0,357.6 476.5,357.6 476.0,357.4 475.5,357.0 475.0,357.1 474.5,357.3 474.0,357.5 473.5,357.5 473.0,357.3 472.5,356.9 472.0,357.0 471.5,356.9 471.0,357.2 470.5,357.3 470.0,357.3 469.5,357.0 469.0,357.2 468.5,357.5 468.0,357.7 467.5,357.7 467.0,357.6 466.5,357.5 466.0,357.4 465.5,357.3 465.0,356.9 464.5,356.5 464.0,356.2 463.5,356.7 463.0,356.9 462.5,356.8 462.0,356.7 461.5,356.5 461.0,356.5 460.5,356.3 460.0,356.4 459.5,356.6 459.0,356.6 458.5,356.4 458.0,356.4 457.5,356.7 457.0,356.7 456.5,356.6 456.0,356.3 455.5,356.1 455.0,355.6 454.5,355.6 454.0,355.7 453.5,355.8 453.0,355.9 452.5,355.7 452.0,355.9 451.5,356.0 451.0,355.9 450.5,356.0 450.0,356.0 449.5,355.7 449.0,355.2 448.5,355.2 448.0,355.1 447.5,355.1 447.0,355.2 446.5,355.8 446.0,355.9 445.5,355.9 445.0,355.8 444.5,355.8 444.0,355.6 443.5,355.1 443.0,354.9 442.5,355.2 442.0,355.4 441.5,355.5 441.0,355.4 440.5,355.0 440.0,354.7 439.5,354.8 439.0,354.9 438.5,354.8 438.0,354.6 437.5,354.4 437.0,353.7 436.5,353.5 436.0,353.1 435.5,352.4 435.0,352.4 434.5,352.5 434.0,352.4 433.5,352.2 433.0,352.1 432.5,352.1 432.0,351.9 431.5,351.9 431.0,352.1 430.5,352.0 430.0,351.8 429.5,352.1 429.0,352.4 428.5,352.6 428.0,352.7 427.5,352.5 427.0,352.3 426.5,352.3 426.0,352.2 425.5,352.2 425.0,352.5 424.5,352.8 424.0,352.9 423.5,352.8 423.0,352.6 422.5,352.2 422.0,352.4 421.5,352.4 421.0,352.6 420.5,352.7 420.0,352.7 419.5,352.4 419.0,351.0 418.5,350.9 418.0,350.7 417.5,350.7 417.0,350.5 416.5,351.4 416.0,351.7 415.5,351.7 415.0,351.5 414.5,350.8 414.0,350.9 413.5,352.1 413.0,352.4 412.5,352.4 412.0,352.2 411.5,351.5 411.0,350.7 410.5,351.0 410.0,351.0 409.5,350.8 409.0,350.3 408.5,350.2 408.0,350.3 407.5,350.1 407.0,350.2 406.5,350.3 406.0,350.2 405.5,350.3 405.0,350.2 404.5,350.1 404.0,349.8 403.5,348.1 403.0,348.1 402.5,348.2 402.0,348.1 401.5,348.4 401.0,348.4 400.5,348.2 400.0,348.0 399.5,348.1 399.0,348.8 398.5,349.0 398.0,348.9 397.5,348.7 397.0,346.8 396.5,346.9 396.0,346.9 395.5,346.7 395.0,346.1 394.5,345.9 394.0,346.1 393.5,346.3 393.0,346.3 392.5,346.0 392.0,346.5 391.5,347.2 391.0,347.4 390.5,347.4 390.0,347.1 389.5,345.7 389.0,345.8 388.5,345.6 388.0,345.2 387.5,344.5 387.0,344.1 386.5,345.8 386.0,346.1 385.5,346.1 385.0,345.9 384.5,345.2 384.0,343.0 383.5,342.9 383.0,343.4 382.5,343.7 382.0,343.8 381.5,343.6 381.0,343.1 380.5,342.6 380.0,342.6 379.5,342.5 379.0,342.5 378.5,342.7 378.0,343.0 377.5,343.2 377.0,343.2 376.5,343.1 376.0,343.2 375.5,343.6 375.0,343.6 374.5,343.5 374.0,343.1 373.5,342.9 373.0,343.3 372.5,343.4 372.0,343.3 371.5,342.9 371.0,342.3 370.5,342.2 370.0,342.0 369.5,342.0 369.0,342.2 368.5,342.2 368.0,342.0 367.5,341.9 367.0,341.6 366.5,340.9 366.0,342.4 365.5,342.7 365.0,342.7 364.5,342.5 364.0,342.2 363.5,342.5 363.0,342.5 362.5,342.3 362.0,342.4 361.5,342.4 361.0,342.1 360.5,340.8 360.0,341.0 359.5,341.1 359.0,340.9 358.5,340.6 358.0,341.0 357.5,341.2 357.0,341.3 356.5,341.1 356.0,340.4 355.5,340.2 355.0,340.1 354.5,339.7 354.0,338.7 353.5,339.3 353.0,339.6 352.5,339.6 352.0,339.4 351.5,338.7 351.0,338.3 350.5,338.5 350.0,338.9 349.5,339.0 349.0,338.9 348.5,338.4 348.0,338.6 347.5,338.7 347.0,338.6 346.5,338.3 346.0,337.0 345.5,336.8 345.0,337.2 344.5,337.4 344.0,338.5 343.5,338.8 343.0,338.9 342.5,338.7 342.0,338.2 341.5,337.3 341.0,336.6 340.5,336.0 340.0,336.0 339.5,337.0 339.0,337.4 338.5,337.4 338.0,337.3 337.5,336.8 337.0,335.8 336.5,335.6 336.0,335.9 335.5,336.3 335.0,336.4 334.5,336.3 334.0,335.9 333.5,335.3 333.0,335.5 332.5,335.6 332.0,335.8 331.5,335.8 331.0,335.5 330.5,334.7 330.0,334.5 329.5,334.1 329.0,333.9 328.5,334.0 328.0,334.2 327.5,334.1 327.0,333.9 326.5,333.2 326.0,332.8 325.5,332.7 325.0,333.0 324.5,334.4 324.0,334.7 323.5,334.8 323.0,334.7 322.5,334.2 322.0,334.0 321.5,334.2 321.0,334.1 320.5,333.9 320.0,332.4 319.5,332.0 319.0,331.6 318.5,330.6 318.0,330.5 317.5,330.3 317.0,330.3 316.5,330.5 316.0,330.8 315.5,330.8 315.0,330.7 314.5,330.1 314.0,327.4 313.5,327.7 313.0,328.4 312.5,328.6 312.0,328.6 311.5,328.6 311.0,328.3 310.5,328.7 310.0,329.1 309.5,329.2 309.0,329.1 308.5,328.7 308.0,328.7 307.5,328.7 307.0,328.4 306.5,326.4 306.0,326.5 305.5,326.4 305.0,326.5 304.5,326.4 304.0,326.0 303.5,325.1 303.0,324.9 302.5,324.7 302.0,324.7 301.5,324.5 301.0,323.9 300.5,323.6 300.0,323.4 299.5,323.2 299.0,322.6 298.5,322.2 298.0,321.9 297.5,321.7 297.0,321.2 296.5,320.6 296.0,320.7 295.5,320.8 295.0,320.7 294.5,321.0 294.0,321.2 293.5,321.1 293.0,320.8 292.5,318.7 292.0,318.6 291.5,318.3 291.0,317.6 290.5,317.2 290.0,317.1 289.5,317.1 289.0,316.9 288.5,316.2 288.0,315.6 287.5,315.4 287.0,314.7 286.5,313.7 286.0,313.5 285.5,313.3 285.0,312.7 284.5,312.3 284.0,311.4 283.5,309.7 283.0,309.7 282.5,309.5 282.0,309.3 281.5,309.2 281.0,308.9 280.5,307.8 280.0,307.8 279.5,307.6 279.0,306.6 278.5,306.2 278.0,306.2 277.5,305.9 277.0,304.7 276.5,304.7 276.0,304.4 275.5,303.4 275.0,303.5 274.5,303.5 274.0,303.2 273.5,302.4 273.0,302.2 272.5,301.6 272.0,299.7 271.5,299.6 271.0,299.4 270.5,299.2 270.0,299.8 269.5,300.0 269.0,300.0 268.5,299.7 268.0,297.8 267.5,298.0 267.0,298.0 266.5,297.8 266.0,297.2 265.5,296.5 265.0,296.3 264.5,296.8 264.0,296.9 263.5,296.9 263.0,297.3 262.5,297.4 262.0,297.6 261.5,297.8 261.0,299.0 260.5,299.4 260.0,299.5 259.5,299.4 259.0,299.0 258.5,298.7 258.0,297.7 257.5,298.2 257.0,298.5 256.5,299.0 256.0,299.2 255.5,299.2 255.0,299.6 254.5,299.7 254.0,299.7 253.5,299.5 253.0,299.6 252.5,299.9 252.0,300.0 251.5,300.7 251.0,301.2 250.5,302.7 250.0,303.1 249.5,303.2 249.0,303.1 248.5,302.7 248.0,302.0 247.5,302.4 247.0,302.9 246.5,303.3 246.0,303.4 245.5,303.2 245.0,304.0 244.5,304.3 244.0,304.3 243.5,304.7 243.0,304.8 242.5,304.8 242.0,304.5 241.5,303.5 241.0,307.9 240.5,308.4 240.0,308.6 239.5,308.5 239.0,308.2 238.5,308.0 238.0,308.6 237.5,308.7 237.0,308.7 236.5,308.7 236.0,308.8 235.5,308.6 235.0,309.5 234.5,309.8 234.0,309.8 233.5,309.6 233.0,309.2 232.5,309.3 232.0,309.1 231.5,308.6 231.0,309.3 230.5,309.4 230.0,309.4 229.5,309.9 229.0,310.0 228.5,309.9 228.0,309.6 227.5,309.5 227.0,309.7 226.5,309.5 226.0,309.2 225.5,308.4 225.0,307.8 224.5,307.9 224.0,308.5 223.5,308.9 223.0,309.1 222.5,309.0 222.0,308.6 221.5,306.3 221.0,306.7 220.5,307.4 220.0,307.6 219.5,307.5 219.0,307.3 218.5,306.5 218.0,306.0 217.5,306.7 217.0,307.0 216.5,307.0 216.0,306.8 215.5,306.3 215.0,304.6 214.5,304.1 214.0,303.7 213.5,303.0 213.0,302.9 212.5,302.8 212.0,302.8 211.5,302.6 211.0,302.4 210.5,302.0 210.0,301.2 209.5,300.8 209.0,300.6 208.5,300.5 208.0,300.3 207.5,299.3 207.0,299.6 206.5,299.7 206.0,299.6 205.5,299.1 205.0,295.8 204.5,295.3 204.0,295.2 203.5,295.0 203.0,295.2 202.5,295.2 202.0,295.0 201.5,294.3 201.0,293.4 200.5,293.0 200.0,292.2 199.5,292.2 199.0,292.0 198.5,291.9 198.0,291.4 197.5,290.2 197.0,289.9 196.5,288.9 196.0,288.4 195.5,288.9 195.0,289.0 194.5,288.9 194.0,288.6 193.5,287.0 193.0,286.6 192.5,286.1 192.0,285.8 191.5,285.6 191.0,285.5 190.5,285.1 190.0,284.8 189.5,284.6 189.0,284.1 188.5,283.7 188.0,281.0 187.5,281.1 187.0,281.1 186.5,280.8 186.0,279.7 185.5,279.6 185.0,279.3 184.5,279.0 184.0,277.0 183.5,276.4 183.0,276.3 182.5,275.7 182.0,274.8 181.5,274.6 181.0,272.6 180.5,272.4 180.0,272.2 179.5,271.7 179.0,269.2 178.5,267.9 178.0,265.8 177.5,265.3 177.0,264.3 176.5,264.1 176.0,263.4 175.5,260.7 175.0,259.6 174.5,259.2 174.0,255.0 173.5,254.6 173.0,253.5 172.5,253.1 172.0,248.6 171.5,247.9 171.0,243.5 170.5,243.8 170.0,243.8 169.5,243.9 169.0,243.7 168.5,243.3 168.0,240.9 167.5,240.2 167.0,239.1 166.5,238.6 166.0,237.7 165.5,237.0 165.0,235.3 164.5,234.8 164.0,234.3 163.5,232.4 163.0,231.8 162.5,230.2 162.0,229.9 161.5,226.8 161.0,225.4 160.5,224.0 160.0,223.6 159.5,221.2 159.0,220.4 158.5,217.9 158.0,217.7 157.5,216.7 157.0,213.5 156.5,212.2 156.0,211.2 155.5,206.4 155.0,206.0 154.5,204.6 154.0,200.8 153.5,197.8 153.0,197.3 152.5,191.5 152.0,188.8 151.5,182.9 151.0,180.3 150.5,171.3 150.0,167.6 149.5,168.5 149.0,168.8 148.5,168.9 148.0,168.8 147.5,168.5 147.0,168.1 146.5,165.0 146.0,162.5 145.5,157.2 145.0,151.5 144.5,148.2 144.0,143.8 143.5,139.7 143.0,139.0 142.5,137.8 142.0,137.2 141.5,129.6 141.0,128.4 140.5,127.9 140.0,118.7 139.5,117.5 139.0,116.2 138.5,115.1 138.0,114.6 137.5,109.2 137.0,107.8 136.5,107.4 136.0,106.8 135.5,106.4 135.0,104.1 134.5,104.1 134.0,103.8 133.5,99.2 133.0,98.0 132.5,97.9 132.0,97.5 131.5,89.5 131.0,87.9 130.5,86.9 130.0,86.2 129.5,84.7 129.0,83.7 128.5,78.1 128.0,77.9 127.5,77.8 127.0,77.4 126.5,75.7 126.0,74.1 125.5,73.9 125.0,73.9 124.5,73.5 124.0,70.7 123.5,70.8 123.0,70.8 122.5,70.5 122.0,68.0 121.5,67.8 121.0,66.7 120.5,66.7 120.0,66.4 119.5,64.8 119.0,66.7 118.5,67.4 118.0,67.6 117.5,67.5 117.0,67.3 116.5,66.9 116.0,67.0 115.5,69.9 115.0,71.6 114.5,72.1 114.0,72.3 113.5,74.4 113.0,74.7 112.5,76.5 112.0,76.8 111.5,78.8 111.0,79.2 110.5,79.5 110.0,82.5 109.5,86.3 109.0,86.9 108.5,87.1 108.0,87.0 107.5,87.5 107.0,88.5 106.5,88.7 106.0,91.8 105.5,92.8 105.0,93.1 104.5,93.1 104.0,92.8 103.5,96.5 103.0,96.9 102.5,97.0 102.0,97.5 101.5,98.1 101.0,98.3 100.5,99.7 100.0,102.9 99.5,103.9 99.0,104.2 98.5,105.6 98.0,106.6 97.5,106.8 97.0,106.8 96.5,110.8 96.0,111.8 95.5,112.4 95.0,112.5 94.5,112.5 94.0,114.4 93.5,115.8 93.0,116.5 92.5,116.7 92.0,116.7 91.5,118.8 91.0,121.4 90.5,121.7 90.0,121.7 89.5,121.7 89.0,121.5 88.5,121.8 88.0,123.8 87.5,127.3 87.0,127.8 86.5,127.9 86.0,127.8 85.5,127.6 85.0,128.2 84.5,130.7 84.0,131.2 83.5,132.7 83.0,133.5 82.5,134.0 82.0,135.0 81.5,135.3 81.0,135.3 80.5,135.4 80.0,138.3 79.5,139.0 79.0,139.2 78.5,139.2 78.0,139.6 77.5,140.1 77.0,140.4 76.5,140.9 76.0,141.8 75.5,142.3 75.0,142.5 74.5,142.4 74.0,144.3 73.5,144.8 73.0,144.9 72.5,145.1 72.0,145.4 71.5,145.8 71.0,146.3 70.5,146.4 70.0,146.3 69.5,146.0 69.0,146.7 68.5,147.0 68.0,147.1 67.5,146.9 67.0,146.3 66.5,146.1 66.0,146.0 65.5,145.9 65.0,146.4 64.5,148.1 64.0,149.1 63.5,149.4 63.0,149.5 62.5,149.4 62.0,148.9 61.5,149.1 61.0,149.5 60.5,149.6 60.0,149.5 59.5,149.3 59.0,149.5 58.5,149.5 58.0,149.2 57.5,147.5 57.0,147.3 56.5,146.9 56.0,146.4 55.5,146.2 55.0,146.5 54.5,146.5 54.0,146.6 53.5,146.8 53.0,146.7 52.5,146.3 52.0,144.9 51.5,144.5 51.0,144.4 50.5,144.1 50.0,142.9 49.5,142.1 49.0,142.4 48.5,142.4 48.0,142.2 47.5,141.7 47.0,140.5 46.5,142.0 46.0,142.4 45.5,142.5 45.0,142.4 44.5,142.0 44.0,138.8 43.5,138.7 43.0,138.3 42.5,136.3 42.0,135.9 41.5,135.9 41.0,135.7 40.5,135.4 40.0,135.4 39.5,135.2 39.0,134.2 38.5,132.2 38.0,130.4 37.5,130.4 37.0,130.1 36.5,126.9 36.0,126.8 35.5,126.6 35.0,126.5 34.5,126.0 34.0,125.7 33.5,125.4 33.0,123.9 32.5,123.2 32.0,123.0 31.5,122.0 31.0,119.6 30.5,119.7 30.0,119.6 29.5,119.2 29.0,116.6 28.5,116.2 28.0,116.0 27.5,115.5 27.0,114.5 26.5,110.3 26.0,110.4 25.5,110.2 25.0,109.6 24.5,106.6 24.0,105.6 23.5,105.0 23.0,104.4 22.5,103.0 22.0,100.9 21.5,101.1 21.0,101.1 20.5,100.9 20.0,100.2 19.5,94.4 19.0,93.9 18.5,91.0 18.0,90.9 17.5,90.5 17.0,87.0 16.5,84.6 16.0,84.2 15.5,84.0 15.0,83.0 14.5,81.3 14.0,81.2 13.5,80.8 13.0,79.4 12.5,76.7"/>
<polygon fill="#0000be" points="12.5,65.0 13.0,65.1 13.5,69.7 14.0,69.6 14.5,69.3 15.0,69.3 15.5,72.7 16.0,74.5 16.5,74.3 17.0,77.3 17.5,77.8 18.0,79.9 18.5,79.6 19.0,79.5 19.5,81.5 20.0,81.8 20.5,86.4 21.0,89.0 21.5,93.0 22.0,92.9 22.5,94.9 23.0,96.5 23.5,95.4 24.0,95.4 24.5,96.4 25.0,98.3 25.5,98.9 26.0,101.5 26.5,99.9 27.0,100.1 27.5,105.7 28.0,106.2 28.5,104.7 29.0,105.0 29.5,108.3 30.0,109.1 30.5,109.8 31.0,109.9 31.5,111.3 32.0,114.1 32.5,117.7 33.0,115.3 33.5,115.2 34.0,114.6 34.5,114.6 35.0,114.6 35.5,114.7 36.0,119.0 36.5,119.3 37.0,119.5 37.5,118.6 38.0,118.7 38.5,117.4 39.0,117.6 39.5,125.9 40.0,124.7 40.5,124.9 41.0,126.5 41.5,126.7 42.0,126.2 42.5,124.6 43.0,124.7 43.5,129.1 44.0,130.7 44.5,132.9 45.0,131.6 45.5,131.9 46.0,128.9 46.5,128.6 47.0,128.4 47.5,133.2 48.0,134.6 48.5,135.5 49.0,134.3 49.5,134.3 50.0,133.8 50.5,134.3 51.0,138.6 51.5,139.2 52.0,139.3 52.5,135.3 53.0,135.3 53.5,137.1 54.0,139.0 54.5,138.5 55.0,135.0 55.5,135.0 56.0,139.8 56.5,140.2 57.0,138.4 57.5,138.5 58.0,140.4 58.5,141.6 59.0,139.5 59.5,139.2 60.0,135.4 60.5,135.4 61.0,141.8 61.5,139.9 62.0,140.2 62.5,139.8 63.0,139.8 63.5,139.8 64.0,139.1 64.5,138.6 65.0,138.5 65.5,140.6 66.0,141.6 66.5,141.1 67.0,137.9 67.5,134.0 68.0,134.1 68.5,137.6 69.0,137.6 69.5,140.1 70.0,138.7 70.5,138.9 71.0,137.5 71.5,137.5 72.0,136.6 72.5,134.7 73.0,134.6 73.5,137.8 74.0,137.0 74.5,136.7 75.0,136.0 75.5,132.7 76.0,130.9 76.5,130.8 77.0,130.2 77.5,129.9 78.0,132.2 78.5,133.1 79.0,128.8 79.5,128.8 80.0,127.3 80.5,127.1 81.0,126.3 81.5,126.1 82.0,127.5 82.5,128.4 83.0,121.6 83.5,121.7 84.0,122.1 84.5,122.0 85.0,122.3 85.5,117.5 86.0,117.0 86.5,117.5 87.0,116.9 87.5,109.5 88.0,109.2 88.5,113.1 89.0,114.0 89.5,110.5 90.0,110.1 90.5,107.4 91.0,106.7 91.5,106.5 92.0,109.0 92.5,107.0 93.0,103.1 93.5,102.6 94.0,101.9 94.5,101.7 95.0,102.3 95.5,102.3 96.0,95.1 96.5,94.9 97.0,90.4 97.5,90.6 98.0,98.5 98.5,93.3 99.0,88.8 99.5,88.3 100.0,88.8 100.5,91.0 101.0,90.5 101.5,87.3 102.0,87.1 102.5,87.3 103.0,84.5 103.5,84.5 104.0,80.8 104.5,80.9 105.0,75.6 105.5,75.5 106.0,80.5 106.5,80.1 107.0,74.3 107.5,73.9 108.0,74.1 108.5,68.9 109.0,69.0 109.5,68.0 110.0,67.9 110.5,69.3 111.0,65.9 111.5,65.8 112.0,61.0 112.5,61.0 113.0,64.8 113.5,63.8 114.0,59.8 114.5,59.3 115.0,59.8 115.5,55.0 116.0,54.9 116.5,55.8 117.0,56.1 117.5,56.0 118.0,57.5 118.5,54.2 119.0,54.5 119.5,56.4 120.0,54.2 120.5,54.2 121.0,56.4 121.5,56.6 122.0,57.5 122.5,57.9 123.0,58.1 123.5,62.7 124.0,62.9 124.5,61.2 125.0,61.5 125.5,63.3 126.0,65.5 126.5,61.5 127.0,61.6 127.5,68.5 128.0,68.6 128.5,64.3 129.0,64.1 129.5,69.7 130.0,72.7 130.5,75.6 131.0,75.1 131.5,75.6 132.0,81.8 132.5,81.9 133.0,85.5 133.5,85.7 134.0,89.5 134.5,93.6 135.0,96.4 135.5,96.0 136.0,95.7 136.5,97.1 137.0,98.4 137.5,98.8 138.0,98.6 138.5,100.4 139.0,103.1 139.5,103.7 140.0,110.1 140.5,112.2 141.0,112.0 141.5,113.2 142.0,116.5 142.5,116.7 143.0,119.1 143.5,130.7 144.0,131.1 144.5,132.9 145.0,133.4 145.5,141.6 146.0,143.8 146.5,143.9 147.0,148.9 147.5,157.0 148.0,161.1 148.5,163.0 149.0,148.1 149.5,142.0 150.0,142.2 150.5,145.2 151.0,153.8 151.5,158.1 152.0,167.3 152.5,173.3 153.0,179.9 153.5,180.2 154.0,189.3 154.5,191.6 155.0,194.2 155.5,195.9 156.0,198.4 156.5,198.7 157.0,204.2 157.5,207.9 158.0,208.1 158.5,209.8 159.0,213.0 159.5,210.1 160.0,210.0 160.5,216.9 161.0,218.4 161.5,218.2 162.0,218.0 162.5,221.4 163.0,223.8 163.5,221.8 164.0,222.1 164.5,227.8 165.0,227.8 165.5,228.1 166.0,231.3 166.5,231.5 167.0,232.1 167.5,232.6 168.0,234.8 168.5,235.1 169.0,234.8 169.5,235.0 170.0,235.5 170.5,236.0 171.0,236.7 171.5,232.7 172.0,232.9 172.5,237.2 173.0,242.2 173.5,246.1 174.0,247.1 174.5,248.6 175.0,251.6 175.5,252.4 176.0,251.9 176.5,252.4 177.0,255.7 177.5,255.6 178.0,258.3 178.5,260.8 179.0,261.7 179.5,261.8 180.0,264.6 180.5,264.7 181.0,264.9 181.5,264.7 182.0,267.7 182.5,268.7 183.0,269.7 183.5,269.6 184.0,270.1 184.5,270.1 185.0,270.2 185.5,272.0 186.0,272.0 186.5,273.1 187.0,272.9 187.5,273.3 188.0,277.9 188.5,275.6 189.0,275.6 189.5,277.8 190.0,279.0 190.5,279.2 191.0,279.5 191.5,280.0 192.0,278.1 192.5,275.6 193.0,275.7 193.5,281.9 194.0,281.3 194.5,280.9 195.0,281.1 195.5,283.3 196.0,281.7 196.5,281.9 197.0,284.8 197.5,285.7 198.0,285.3 198.5,285.3 199.0,287.4 199.5,287.4 200.0,285.9 200.5,285.8 201.0,288.0 201.5,288.2 202.0,287.9 202.5,287.9 203.0,289.6 203.5,289.8 204.0,291.4 204.5,290.3 205.0,289.9 205.5,289.1 206.0,289.4 206.5,291.5 207.0,291.5 207.5,291.9 208.0,291.6 208.5,292.6 209.0,296.3 209.5,294.4 210.0,294.0 210.5,294.3 211.0,297.3 211.5,296.3 212.0,296.6 212.5,297.2 213.0,294.0 213.5,294.1 214.0,296.0 214.5,297.8 215.0,300.7 215.5,298.1 216.0,298.1 216.5,300.5 217.0,298.2 217.5,298.0 218.0,299.3 218.5,298.4 219.0,298.6 219.5,301.4 220.0,299.0 220.5,299.2 221.0,300.8 221.5,300.1 222.0,299.9 222.5,300.7 223.0,301.6 223.5,303.2 224.0,302.7 224.5,302.1 225.0,302.1 225.5,303.0 226.0,301.7 226.5,301.7 227.0,303.9 227.5,304.1 228.0,301.4 228.5,300.9 229.0,301.4 229.5,302.6 230.0,301.5 230.5,301.2 231.0,301.3 231.5,301.3 232.0,302.8 232.5,302.8 233.0,300.5 233.5,300.6 234.0,300.3 234.5,299.8 235.0,300.3 235.5,300.9 236.0,300.9 236.5,299.8 237.0,299.8 237.5,303.8 238.0,304.2 238.5,299.8 239.0,299.3 239.5,299.8 240.0,299.1 240.5,299.1 241.0,290.9 241.5,289.5 242.0,289.7 242.5,291.3 243.0,295.7 243.5,295.8 244.0,296.0 244.5,295.8 245.0,296.9 245.5,296.0 246.0,296.0 246.5,295.7 247.0,295.6 247.5,297.2 248.0,297.7 248.5,296.5 249.0,296.5 249.5,294.1 250.0,294.1 250.5,294.1 251.0,294.8 251.5,292.6 252.0,292.6 252.5,296.8 253.0,293.8 253.5,293.6 254.0,293.9 254.5,291.3 255.0,291.5 255.5,293.9 256.0,292.7 256.5,292.9 257.0,292.8 257.5,293.4 258.0,292.2 258.5,291.7 259.0,288.0 259.5,288.1 260.0,291.9 260.5,291.3 261.0,290.3 261.5,288.4 262.0,288.4 262.5,290.0 263.0,289.9 263.5,292.9 264.0,292.4 264.5,290.8 265.0,290.5 265.5,290.0 266.0,290.2 266.5,290.9 267.0,290.7 267.5,291.3 268.0,291.7 268.5,292.4 269.0,291.9 269.5,291.6 270.0,292.0 270.5,293.4 271.0,293.3 271.5,293.4 272.0,292.9 272.5,293.4 273.0,294.7 273.5,294.9 274.0,295.6 274.5,295.8 275.0,298.3 275.5,297.9 276.0,297.6 276.5,297.5 277.0,299.7 277.5,297.8 278.0,297.3 278.5,297.8 279.0,298.0 279.5,298.0 280.0,302.4 280.5,299.9 281.0,299.4 281.5,299.9 282.0,303.3 282.5,302.8 283.0,302.8 283.5,304.5 284.0,304.4 284.5,303.8 285.0,303.8 285.5,308.1 286.0,308.6 286.5,307.8 287.0,306.9 287.5,306.9 288.0,311.6 288.5,310.7 289.0,309.2 289.5,308.2 290.0,308.5 290.5,310.9 291.0,311.8 291.5,309.7 292.0,309.1 292.5,309.1 293.0,315.3 293.5,315.9 294.0,315.4 294.5,315.3 295.0,316.5 295.5,315.2 296.0,315.1 296.5,314.2 297.0,314.0 297.5,315.7 298.0,316.8 298.5,316.6 299.0,316.1 299.5,313.9 300.0,313.7 300.5,316.5 301.0,316.9 301.5,317.1 302.0,317.9 302.5,317.6 303.0,318.0 303.5,318.1 304.0,319.7 304.5,319.8 305.0,320.5 305.5,320.2 306.0,321.2 306.5,320.1 307.0,319.8 307.5,321.2 308.0,321.1 308.5,321.6 309.0,320.6 309.5,320.9 310.0,318.9 310.5,319.1 311.0,322.0 311.5,322.1 312.0,323.9 312.5,321.3 313.0,321.2 313.5,321.3 314.0,320.5 314.5,320.4 315.0,319.9 315.5,320.2 316.0,322.7 316.5,323.9 317.0,324.2 317.5,325.5 318.0,326.2 318.5,326.2 319.0,325.7 319.5,325.5 320.0,327.3 320.5,327.1 321.0,327.3 321.5,327.6 322.0,325.8 322.5,325.8 323.0,326.2 323.5,329.6 324.0,328.0 324.5,327.8 325.0,328.0 325.5,326.1 326.0,326.1 326.5,326.2 327.0,326.0 327.5,327.1 328.0,327.6 328.5,326.1 329.0,326.2 329.5,328.7 330.0,328.9 330.5,327.8 331.0,327.5 331.5,327.1 332.0,327.1 332.5,329.0 333.0,328.2 333.5,328.2 334.0,328.8 334.5,328.9 335.0,330.0 335.5,331.5 336.0,330.9 336.5,330.8 337.0,331.9 337.5,330.2 338.0,330.1 338.5,329.9 339.0,329.9 339.5,330.2 340.0,329.9 340.5,332.0 341.0,331.1 341.5,330.8 342.0,332.3 342.5,331.3 343.0,331.2 343.5,333.7 344.0,331.6 344.5,331.7 345.0,331.4 345.5,330.1 346.0,330.0 346.5,330.9 347.0,331.2 347.5,334.5 348.0,332.6 348.5,332.4 349.0,332.6 349.5,331.9 350.0,330.5 350.5,330.7 351.0,331.5 351.5,333.5 352.0,332.2 352.5,332.1 353.0,334.1 353.5,334.0 354.0,332.3 354.5,332.6 355.0,332.9 355.5,332.9 356.0,335.3 356.5,333.7 357.0,333.9 357.5,334.8 358.0,334.9 358.5,335.8 359.0,334.6 359.5,334.4 360.0,335.7 360.5,335.2 361.0,335.5 361.5,335.5 362.0,337.2 362.5,334.9 363.0,334.9 363.5,336.7 364.0,335.6 364.5,335.5 365.0,335.2 365.5,334.7 366.0,334.9 366.5,335.0 367.0,335.4 367.5,332.6 368.0,332.9 368.5,337.0 369.0,336.6 369.5,336.1 370.0,336.6 370.5,338.5 371.0,338.6 371.5,336.0 372.0,336.2 372.5,336.6 373.0,336.6 373.5,336.4 374.0,337.4 374.5,339.2 375.0,337.5 375.5,337.0 376.0,337.5 376.5,339.2 377.0,337.4 377.5,337.2 378.0,336.3 378.5,336.3 379.0,338.5 379.5,339.5 380.0,338.2 380.5,337.9 381.0,338.2 381.5,337.9 382.0,338.0 382.5,337.5 383.0,337.8 383.5,337.9 384.0,337.9 384.5,337.9 385.0,338.3 385.5,338.1 386.0,340.3 386.5,338.1 387.0,337.9 387.5,339.8 388.0,340.3 388.5,340.1 389.0,340.0 389.5,337.6 390.0,337.5 390.5,337.3 391.0,340.9 391.5,340.8 392.0,340.5 392.5,340.9 393.0,340.7 393.5,341.1 394.0,341.6 394.5,341.1 395.0,341.4 395.5,341.3 396.0,340.6 396.5,340.1 397.0,340.6 397.5,341.3 398.0,342.7 398.5,342.7 399.0,341.0 399.5,341.1 400.0,342.8 400.5,343.3 401.0,343.2 401.5,344.8 402.0,344.7 402.5,342.7 403.0,342.6 403.5,344.2 404.0,344.5 404.5,344.5 405.0,346.2 405.5,346.1 406.0,346.0 406.5,345.9 407.0,345.4 407.5,345.9 408.0,346.0 408.5,344.8 409.0,344.9 409.5,344.0 410.0,343.5 410.5,344.0 411.0,345.7 411.5,344.9 412.0,345.0 412.5,346.4 413.0,345.2 413.5,344.9 414.0,346.6 414.5,346.6 415.0,346.6 415.5,346.8 416.0,347.1 416.5,347.0 417.0,346.8 417.5,346.8 418.0,345.7 418.5,345.7 419.0,348.1 419.5,348.4 420.0,347.1 420.5,346.6 421.0,346.8 421.5,346.6 422.0,347.2 422.5,348.6 423.0,347.2 423.5,347.5 424.0,348.4 424.5,348.1 425.0,347.2 425.5,347.1 426.0,347.8 426.5,347.7 427.0,347.4 427.5,347.6 428.0,347.5 428.5,348.7 429.0,345.3 429.5,345.2 430.0,347.0 430.5,347.9 431.0,348.5 431.5,347.5 432.0,345.9 432.5,346.2 433.0,348.6 433.5,348.3 434.0,348.6 434.5,348.1 435.0,348.0 435.5,348.3 436.0,348.5 436.5,348.9 437.0,349.1 437.5,349.1 438.0,349.1 438.5,350.7 439.0,351.0 439.5,349.1 440.0,349.0 440.5,350.9 441.0,349.9 441.5,350.2 442.0,350.2 442.5,349.7 443.0,349.7 443.5,350.0 444.0,351.0 444.5,352.4 445.0,351.6 445.5,351.7 446.0,351.3 446.5,351.1 447.0,350.3 447.5,350.5 448.0,351.0 448.5,351.3 449.0,351.6 449.5,351.7 450.0,351.7 450.5,352.0 451.0,351.1 451.5,349.6 452.0,349.5 452.5,352.0 453.0,351.8 453.5,351.8 454.0,351.7 454.5,351.0 455.0,351.1 455.5,350.3 456.0,350.1 456.5,351.4 457.0,351.9 457.5,351.9 458.0,352.2 458.5,352.9 459.0,352.9 459.5,353.2 460.0,353.3 460.5,353.2 461.0,354.0 461.5,353.2 462.0,353.4 462.5,353.3 463.0,351.8 463.5,351.4 464.0,350.9 464.5,351.4 465.0,352.6 465.5,352.7 466.0,352.3 466.5,352.5 467.0,353.3 467.5,353.6 468.0,352.8 468.5,353.0 469.0,352.2 469.5,352.2 470.0,352.1 470.5,352.3 471.0,353.5 471.5,353.0 472.0,352.6 472.5,352.6 473.0,352.9 473.5,353.0 474.0,353.2 474.5,353.9 475.0,353.6 475.5,351.4 476.0,351.5 476.5,353.1 477.0,353.3 477.5,353.3 478.0,352.8 478.5,352.9 479.0,350.8 479.5,350.5 480.0,352.7 480.5,353.9 481.0,354.4 481.5,353.4 482.0,353.2 482.5,352.2 483.0,352.4 483.5,353.1 484.0,352.6 484.5,352.6 485.0,353.5 485.5,353.4 486.0,353.3 486.5,352.8 487.0,352.9 487.5,353.1 488.0,353.2 488.5,352.9 489.0,352.9 489.5,353.1 490.0,352.9 490.5,353.5 491.0,353.6 491.5,353.4 492.0,352.8 492.5,353.1 493.0,352.9 493.5,351.1 494.0,351.4 494.5,352.8 495.0,352.6 495.5,354.0 496.0,353.5 496.5,353.5 497.0,353.9 497.5,353.8 498.0,353.3 498.5,353.6 499.0,353.6 499.5,352.7 500.0,352.6 500.5,353.9 501.0,354.4 501.5,354.4 502.0,352.3 502.5,352.1 503.0,351.9 503.5,353.7 504.0,355.0 504.5,353.4 505.0,352.7 505.5,352.7 506.0,353.0 506.5,352.9 507.0,354.6 507.5,354.6 508.0,354.0 508.5,354.0 509.0,353.6 509.5,353.3 510.0,354.4 510.5,354.5 511.0,355.0 511.5,354.3 512.0,353.6 512.5,353.7 513.0,355.3 513.5,351.7 514.0,351.4 514.5,353.7 515.0,353.2 515.5,352.9 516.0,352.9 516.5,354.7 517.0,354.5 517.5,353.0 518.0,352.7 518.5,352.7 519.0,353.8 519.5,352.0 520.0,352.1 520.5,354.4 521.0,354.1 521.5,353.4 522.0,353.6 522.5,354.0 523.0,354.0 523.5,353.1 524.0,353.1 524.5,354.6 525.0,352.9 525.5,352.0 526.0,352.1 526.5,354.1 527.0,355.4 527.5,354.7 528.0,353.7 528.5,353.2 529.0,353.5 529.5,350.9 530.0,350.8 530.5,352.9 531.0,352.7 531.5,354.3 532.0,354.1 532.5,353.7 533.0,353.5 533.5,354.5 534.0,353.7 534.5,353.2 535.0,353.4 535.4,356.7 535.4,360.9 535.0,360.9 534.5,358.6 534.0,358.5 533.5,358.5 533.0,358.4 532.5,357.1 532.0,358.3 531.5,358.4 531.0,357.1 530.5,356.0 530.0,357.1 529.5,357.9 529.0,358.1 528.5,357.1 528.0,357.4 527.5,357.8 527.0,357.8 526.5,358.2 526.0,358.7 525.5,359.2 525.0,359.0 524.5,359.2 524.0,356.7 523.5,358.2 523.0,358.2 522.5,357.2 522.0,357.2 521.5,357.0 521.0,357.5 520.5,357.9 520.0,358.5 519.5,359.0 519.0,358.5 518.5,358.7 518.0,358.8 517.5,357.1 517.0,357.1 516.5,357.5 516.0,357.3 515.5,357.5 515.0,357.1 514.5,358.6 514.0,358.4 513.5,358.9 513.0,358.9 512.5,358.1 512.0,357.0 511.5,358.0 511.0,358.8 510.5,358.5 510.0,358.0 509.5,358.0 509.0,357.5 508.5,357.7 508.0,357.1 507.5,358.5 507.0,358.8 506.5,357.7 506.0,358.2 505.5,357.7 505.0,358.3 504.5,358.3 504.0,357.8 503.5,357.5 503.0,357.2 502.5,358.3 502.0,358.5 501.5,358.1 501.0,357.6 500.5,358.4 500.0,358.4 499.5,356.0 499.0,357.1 498.5,357.3 498.0,357.3 497.5,357.4 497.0,359.2 496.5,359.0 496.0,359.1 495.5,359.6 495.0,359.1 494.5,357.8 494.0,357.3 493.5,357.3 493.0,357.3 492.5,356.7 492.0,357.2 491.5,357.4 491.0,357.3 490.5,357.4 490.0,356.6 489.5,357.5 489.0,357.8 488.5,357.1 488.0,356.8 487.5,357.1 487.0,357.3 486.5,356.2 486.0,357.5 485.5,357.8 485.0,357.9 484.5,356.9 484.0,356.7 483.5,357.9 483.0,357.8 482.5,357.0 482.0,356.3 481.5,355.8 481.0,357.4 480.5,357.8 480.0,357.7 479.5,356.5 479.0,357.4 478.5,357.7 478.0,356.5 477.5,355.8 477.0,357.7 476.5,357.7 476.0,356.8 475.5,356.7 475.0,356.9 474.5,356.8 474.0,357.5 473.5,357.5 473.0,356.3 472.5,356.2 472.0,356.8 471.5,356.6 471.0,356.6 470.5,357.4 470.0,357.1 469.5,356.8 469.0,355.8 468.5,357.6 468.0,358.0 467.5,358.0 467.0,357.8 466.5,357.4 466.0,357.5 465.5,357.2 465.0,356.4 464.5,355.5 464.0,355.6 463.5,356.1 463.0,356.8 462.5,356.7 462.0,356.6 461.5,356.2 461.0,356.2 460.5,356.1 460.0,356.1 459.5,356.5 459.0,356.6 458.5,356.2 458.0,356.3 457.5,356.7 457.0,356.9 456.5,356.3 456.0,356.4 455.5,355.1 455.0,355.3 454.5,354.7 454.0,355.5 453.5,355.6 453.0,355.9 452.5,354.4 452.0,355.9 451.5,356.1 451.0,354.6 450.5,356.3 450.0,356.2 449.5,355.3 449.0,354.4 448.5,355.0 448.0,354.8 447.5,354.7 447.0,354.8 446.5,355.0 446.0,356.2 445.5,356.1 445.0,355.9 444.5,356.1 444.0,354.7 443.5,354.9 443.0,353.9 442.5,353.9 442.0,355.5 441.5,355.7 441.0,355.2 440.5,354.0 440.0,354.4 439.5,354.7 439.0,355.1 438.5,355.0 438.0,355.0 437.5,353.5 437.0,354.0 436.5,353.5 436.0,352.0 435.5,352.5 435.0,352.4 434.5,352.5 434.0,352.5 433.5,351.9 433.0,351.9 432.5,351.9 432.0,350.6 431.5,350.4 431.0,351.9 430.5,351.8 430.0,351.2 429.5,351.5 429.0,352.3 428.5,352.8 428.0,352.9 427.5,352.1 427.0,352.2 426.5,352.3 426.0,351.5 425.5,351.8 425.0,352.5 424.5,353.2 424.0,353.3 423.5,353.1 423.0,352.6 422.5,351.5 422.0,352.4 421.5,352.7 421.0,352.4 420.5,353.3 420.0,353.2 419.5,350.6 419.0,350.7 418.5,350.1 418.0,350.3 417.5,350.2 417.0,349.4 416.5,349.7 416.0,351.9 415.5,352.0 415.0,349.8 414.5,349.9 414.0,350.0 413.5,351.3 413.0,353.3 412.5,353.4 412.0,351.0 411.5,349.4 411.0,349.7 410.5,351.3 410.0,351.4 409.5,350.4 409.0,350.4 408.5,350.2 408.0,350.5 407.5,349.6 407.0,350.4 406.5,350.7 406.0,350.4 405.5,350.9 405.0,350.7 404.5,350.5 404.0,348.0 403.5,347.6 403.0,347.7 402.5,347.8 402.0,347.4 401.5,348.3 401.0,348.4 400.5,348.0 400.0,348.0 399.5,347.5 399.0,347.9 398.5,349.8 398.0,349.7 397.5,346.0 397.0,346.2 396.5,346.9 396.0,346.9 395.5,345.7 395.0,345.8 394.5,345.5 394.0,345.3 393.5,346.5 393.0,346.4 392.5,345.6 392.0,345.8 391.5,347.2 391.0,348.7 390.5,348.7 390.0,345.0 389.5,346.3 389.0,346.4 388.5,345.8 388.0,344.5 387.5,344.0 387.0,344.0 386.5,343.8 386.0,347.3 385.5,347.4 385.0,343.2 384.5,342.9 384.0,340.8 383.5,342.6 383.0,342.8 382.5,343.9 382.0,344.1 381.5,343.2 381.0,342.4 380.5,342.4 380.0,342.5 379.5,342.4 379.0,342.4 378.5,342.6 378.0,342.9 377.5,343.6 377.0,343.6 376.5,343.6 376.0,341.7 375.5,344.2 375.0,344.5 374.5,343.4 374.0,343.2 373.5,342.3 373.0,343.6 372.5,344.1 372.0,343.6 371.5,342.1 371.0,342.4 370.5,342.3 370.0,340.9 369.5,340.0 369.0,342.4 368.5,342.4 368.0,342.0 367.5,341.9 367.0,340.2 366.5,339.6 366.0,340.6 365.5,343.2 365.0,343.3 364.5,340.7 364.0,342.0 363.5,342.9 363.0,343.0 362.5,342.6 362.0,343.0 361.5,342.9 361.0,340.5 360.5,340.7 360.0,341.1 359.5,341.2 359.0,340.8 358.5,339.5 358.0,339.5 357.5,341.9 357.0,341.9 356.5,340.5 356.0,340.3 355.5,340.6 355.0,339.4 354.5,338.0 354.0,338.4 353.5,338.7 353.0,340.0 352.5,340.1 352.0,338.9 351.5,337.7 351.0,338.3 350.5,338.4 350.0,339.3 349.5,339.6 349.0,337.7 348.5,337.6 348.0,337.9 347.5,339.4 347.0,339.1 346.5,336.8 346.0,336.8 345.5,336.4 345.0,336.7 344.5,337.7 344.0,338.2 343.5,340.0 343.0,340.2 342.5,338.0 342.0,338.1 341.5,336.3 341.0,335.6 340.5,335.9 340.0,335.7 339.5,336.2 339.0,338.2 338.5,338.3 338.0,337.0 337.5,335.1 337.0,335.2 336.5,335.7 336.0,335.2 335.5,336.6 335.0,337.1 334.5,336.6 334.0,335.4 333.5,335.4 333.0,335.8 332.5,336.0 332.0,336.5 331.5,336.4 331.0,334.8 330.5,334.9 330.0,334.4 329.5,333.8 329.0,333.8 328.5,333.7 328.0,334.4 327.5,334.3 327.0,333.2 326.5,332.2 326.0,331.9 325.5,332.4 325.0,332.2 324.5,333.4 324.0,335.9 323.5,336.0 323.0,334.6 322.5,334.6 322.0,333.6 321.5,335.4 321.0,335.3 320.5,333.1 320.0,332.5 319.5,332.0 319.0,329.8 318.5,330.3 318.0,330.1 317.5,330.1 317.0,330.2 316.5,329.2 316.0,331.6 315.5,331.7 315.0,327.4 314.5,327.0 314.0,325.1 313.5,328.0 313.0,328.2 312.5,329.1 312.0,329.2 311.5,329.1 311.0,328.7 310.5,328.6 310.0,329.9 309.5,330.4 309.0,329.9 308.5,328.9 308.0,330.0 307.5,329.9 307.0,325.0 306.5,326.6 306.0,326.8 305.5,326.7 305.0,327.2 304.5,326.7 304.0,325.1 303.5,325.3 303.0,324.1 302.5,325.1 302.0,325.0 301.5,324.3 301.0,323.9 300.5,323.5 300.0,323.6 299.5,322.9 299.0,322.4 298.5,321.7 298.0,321.9 297.5,320.7 297.0,320.6 296.5,318.8 296.0,319.3 295.5,321.2 295.0,321.0 294.5,318.7 294.0,322.5 293.5,322.3 293.0,317.1 292.5,319.1 292.0,318.9 291.5,317.9 291.0,317.5 290.5,316.0 290.0,317.9 289.5,318.0 289.0,315.7 288.5,316.3 288.0,316.4 287.5,314.7 287.0,314.1 286.5,314.0 286.0,314.0 285.5,313.3 285.0,312.8 284.5,311.9 284.0,308.4 283.5,309.7 283.0,309.7 282.5,309.8 282.0,309.9 281.5,309.7 281.0,307.5 280.5,308.5 280.0,308.5 279.5,306.8 279.0,305.2 278.5,307.1 278.0,307.1 277.5,304.1 277.0,305.5 276.5,305.5 276.0,300.8 275.5,302.8 275.0,304.7 274.5,304.5 274.0,303.3 273.5,303.4 273.0,299.2 272.5,299.3 272.0,299.9 271.5,299.8 271.0,299.7 270.5,298.0 270.0,298.4 269.5,301.4 269.0,301.4 268.5,297.8 268.0,297.7 267.5,298.9 267.0,299.0 266.5,296.3 266.0,296.9 265.5,296.7 265.0,295.6 264.5,295.7 264.0,297.5 263.5,297.3 263.0,296.4 262.5,298.2 262.0,298.0 261.5,298.7 261.0,298.6 260.5,300.8 260.0,301.3 259.5,300.8 259.0,300.2 258.5,297.3 258.0,297.3 257.5,297.1 257.0,299.0 256.5,299.2 256.0,300.0 255.5,299.9 255.0,297.7 254.5,300.3 254.0,300.1 253.5,299.5 253.0,298.7 252.5,299.8 252.0,299.9 251.5,298.5 251.0,300.2 250.5,301.6 250.0,303.8 249.5,304.3 249.0,303.8 248.5,301.6 248.0,301.7 247.5,302.0 247.0,302.6 246.5,303.4 246.0,303.7 245.5,302.2 245.0,303.4 244.5,305.0 244.0,305.2 243.5,304.7 243.0,306.2 242.5,306.0 242.0,300.9 241.5,300.0 241.0,302.8 240.5,304.9 240.0,309.6 239.5,309.5 239.0,308.0 238.5,308.2 238.0,308.2 237.5,309.2 237.0,309.1 236.5,309.0 236.0,309.1 235.5,308.5 235.0,308.8 234.5,310.5 234.0,310.6 233.5,310.0 233.0,309.6 232.5,309.7 232.0,307.7 231.5,307.8 231.0,308.1 230.5,310.0 230.0,310.0 229.5,309.5 229.0,311.0 228.5,310.7 228.0,307.3 227.5,310.0 227.0,310.5 226.5,310.0 226.0,308.7 225.5,307.6 225.0,306.5 224.5,308.0 224.0,308.3 223.5,308.2 223.0,310.0 222.5,309.7 222.0,305.8 221.5,305.9 221.0,305.8 220.5,303.7 220.0,308.4 219.5,308.3 219.0,307.0 218.5,305.6 218.0,305.0 217.5,306.6 217.0,308.3 216.5,308.4 216.0,305.0 215.5,305.2 215.0,304.0 214.5,304.1 214.0,303.0 213.5,303.3 213.0,302.9 212.5,303.4 212.0,303.3 211.5,303.3 211.0,302.9 210.5,301.8 210.0,301.3 209.5,300.3 209.0,301.3 208.5,301.2 208.0,299.4 207.5,299.3 207.0,300.8 206.5,301.0 206.0,298.6 205.5,295.3 205.0,294.9 204.5,294.9 204.0,295.0 203.5,294.7 203.0,295.7 202.5,295.7 202.0,294.0 201.5,293.6 201.0,293.1 200.5,290.8 200.0,292.4 199.5,292.3 199.0,292.5 198.5,291.8 198.0,290.4 197.5,290.2 197.0,288.8 196.5,287.0 196.0,288.2 195.5,288.4 195.0,289.9 194.5,289.8 194.0,287.4 193.5,287.1 193.0,286.5 192.5,286.2 192.0,285.8 191.5,286.3 191.0,286.0 190.5,285.7 190.0,285.7 189.5,285.2 189.0,284.7 188.5,279.7 188.0,280.7 187.5,281.7 187.0,281.5 186.5,280.1 186.0,280.4 185.5,280.2 185.0,280.2 184.5,276.1 184.0,277.0 183.5,277.1 183.0,274.8 182.5,275.8 182.0,275.7 181.5,272.9 181.0,273.5 180.5,273.6 180.0,270.8 179.5,269.4 179.0,268.2 178.5,265.7 178.0,264.6 177.5,265.0 177.0,265.0 176.5,261.9 176.0,260.3 175.5,260.6 175.0,259.6 174.5,255.1 174.0,254.7 173.5,255.2 173.0,254.9 172.5,250.3 172.0,243.5 171.5,241.3 171.0,242.0 170.5,243.7 170.0,244.3 169.5,244.6 169.0,243.5 168.5,241.2 168.0,240.8 167.5,239.7 167.0,238.4 166.5,238.5 166.0,236.6 165.5,235.9 165.0,235.6 164.5,235.4 164.0,233.2 163.5,230.1 163.0,231.4 162.5,231.1 162.0,226.1 161.5,224.3 161.0,224.6 160.5,224.1 160.0,221.1 159.5,220.8 159.0,218.7 158.5,218.7 158.0,216.3 157.5,213.8 157.0,213.1 156.5,208.9 156.0,207.0 155.5,206.8 155.0,203.7 154.5,200.2 154.0,199.6 153.5,196.3 153.0,190.3 152.5,185.9 152.0,183.0 151.5,173.3 151.0,167.3 150.5,166.3 150.0,160.3 149.5,167.8 149.0,169.1 148.5,169.3 148.0,169.7 147.5,169.4 147.0,164.3 146.5,161.1 146.0,155.8 145.5,150.9 145.0,147.9 144.5,141.6 144.0,140.3 143.5,140.8 143.0,140.9 142.5,130.7 142.0,130.8 141.5,130.9 141.0,119.7 140.5,117.7 140.0,117.7 139.5,116.9 139.0,117.1 138.5,110.9 138.0,108.9 137.5,108.3 137.0,108.0 136.5,108.3 136.0,108.1 135.5,103.2 135.0,106.8 134.5,106.6 134.0,98.6 133.5,98.5 133.0,101.7 132.5,101.4 132.0,88.8 131.5,88.8 131.0,88.2 130.5,86.8 130.0,86.8 129.5,80.5 129.0,77.3 128.5,78.6 128.0,79.1 127.5,78.6 127.0,76.8 126.5,74.9 126.0,73.9 125.5,76.1 125.0,75.8 124.5,69.7 124.0,66.7 123.5,73.3 123.0,73.2 122.5,69.9 122.0,69.8 121.5,67.8 121.0,68.7 120.5,68.7 120.0,65.6 119.5,65.6 119.0,62.3 118.5,66.6 118.0,69.7 117.5,69.6 117.0,67.2 116.5,66.9 116.0,67.4 115.5,66.9 115.0,66.5 114.5,71.7 114.0,73.9 113.5,73.7 113.0,76.3 112.5,76.6 112.0,78.6 111.5,78.7 111.0,79.0 110.5,81.3 110.0,81.0 109.5,82.9 109.0,85.3 108.5,91.0 108.0,90.9 107.5,88.8 107.0,88.7 106.5,91.0 106.0,91.0 105.5,87.7 105.0,95.9 104.5,95.9 104.0,93.9 103.5,93.4 103.0,98.7 102.5,99.2 102.0,98.7 101.5,97.7 101.0,98.9 100.5,98.8 100.0,99.9 99.5,100.1 99.0,105.5 98.5,105.5 98.0,102.8 97.5,107.8 97.0,107.8 96.5,106.6 96.0,112.6 95.5,112.8 95.0,114.0 94.5,113.9 94.0,112.7 93.5,115.3 93.0,116.9 92.5,117.7 92.0,117.7 91.5,115.6 91.0,115.6 90.5,123.5 90.0,123.5 89.5,122.9 89.0,120.7 88.5,120.7 88.0,121.6 87.5,124.2 87.0,127.7 86.5,129.7 86.0,129.5 85.5,128.5 85.0,126.8 84.5,127.3 84.0,131.1 83.5,132.4 83.0,134.3 82.5,134.6 82.0,135.6 81.5,136.8 81.0,136.8 80.5,134.7 80.0,135.9 79.5,138.0 79.0,141.0 78.5,140.9 78.0,138.9 77.5,140.7 77.0,141.1 76.5,141.3 76.0,140.2 75.5,142.4 75.0,143.5 74.5,143.3 74.0,142.6 73.5,144.9 73.0,146.4 72.5,146.1 72.0,146.5 71.5,146.7 71.0,145.9 70.5,147.7 70.0,147.5 69.5,145.6 69.0,145.9 68.5,147.9 68.0,148.0 67.5,145.2 67.0,145.5 66.5,146.0 66.0,145.6 65.5,145.0 65.0,145.5 64.5,145.0 64.0,149.1 63.5,150.7 63.0,151.0 62.5,148.3 62.0,144.7 61.5,150.4 61.0,150.8 60.5,151.3 60.0,150.8 59.5,144.0 59.0,151.3 58.5,151.2 58.0,148.1 57.5,148.2 57.0,147.6 56.5,146.6 56.0,146.7 55.5,145.3 55.0,147.2 54.5,147.3 54.0,146.6 53.5,148.1 53.0,147.8 52.5,145.8 52.0,145.3 51.5,145.3 51.0,145.2 50.5,142.7 50.0,141.5 49.5,141.8 49.0,143.2 48.5,143.3 48.0,140.7 47.5,141.0 47.0,141.1 46.5,140.5 46.0,144.7 45.5,145.2 45.0,144.7 44.5,140.1 44.0,140.2 43.5,139.7 43.0,137.1 42.5,137.0 42.0,137.5 41.5,137.5 41.0,133.6 40.5,138.1 40.0,138.1 39.5,135.6 39.0,129.4 38.5,130.9 38.0,132.2 37.5,132.0 37.0,127.4 36.5,127.6 36.0,127.8 35.5,127.9 35.0,126.2 34.5,127.6 34.0,127.4 33.5,125.3 33.0,124.8 32.5,124.8 32.0,120.7 31.5,119.4 31.0,121.0 30.5,121.5 30.0,121.0 29.5,116.1 29.0,117.7 28.5,117.8 28.0,117.5 27.5,110.4 27.0,109.4 26.5,111.3 26.0,111.4 25.5,106.9 25.0,106.9 24.5,105.7 24.0,105.8 23.5,104.1 23.0,100.7 22.5,101.9 22.0,102.1 21.5,103.7 21.0,103.8 20.5,99.1 20.0,95.1 19.5,94.6 19.0,91.5 18.5,92.0 18.0,91.5 17.5,84.0 17.0,84.0 16.5,84.6 16.0,84.6 15.5,81.9 15.0,80.7 14.5,82.9 14.0,82.7 13.5,81.3 13.0,77.4 12.5,74.6"/>
<polygon fill="#000" points="12.5,92.0 13.0,92.0 13.5,92.3 14.0,95.5 14.5,96.0 15.0,101.0 15.5,101.3 16.0,104.1 16.5,105.7 17.0,106.6 17.5,106.9 18.0,106.9 18.5,107.0 19.0,107.5 19.5,111.4 20.0,114.1 20.5,116.4 21.0,116.2 21.5,116.3 22.0,116.7 22.5,119.6 23.0,120.2 23.5,121.3 24.0,123.5 24.5,125.4 25.0,126.1 25.5,126.6 26.0,129.9 26.5,130.1 27.0,130.6 27.5,131.7 28.0,132.7 28.5,136.4 29.0,136.6 29.5,136.5 30.0,136.7 30.5,137.4 31.0,138.0 31.5,141.0 32.0,144.4 32.5,144.4 33.0,144.7 33.5,146.0 34.0,147.4 34.5,147.8 35.0,148.4 35.5,148.9 36.0,149.9 36.5,150.4 37.0,152.2 37.5,152.1 38.0,152.3 38.5,152.8 39.0,157.3 39.5,157.8 40.0,158.1 40.5,159.3 41.0,159.6 41.5,160.1 42.0,160.3 42.5,160.5 43.0,161.3 43.5,161.3 44.0,161.5 44.5,162.0 45.0,163.0 45.5,162.9 46.0,163.0 46.5,163.4 47.0,164.3 47.5,165.2 48.0,165.5 48.5,166.9 49.0,167.5 49.5,168.3 50.0,168.6 50.5,169.4 51.0,169.3 51.5,169.3 52.0,169.7 52.5,170.4 53.0,171.4 53.5,172.4 54.0,170.6 54.5,170.4 55.0,170.3 55.5,170.5 56.0,171.2 56.5,170.6 57.0,170.4 57.5,170.4 58.0,170.7 58.5,171.5 59.0,171.7 59.5,172.3 60.0,172.3 60.5,172.0 61.0,171.9 61.5,172.0 62.0,169.9 62.5,169.5 63.0,169.4 63.5,169.5 64.0,169.8 64.5,172.9 65.0,173.0 65.5,172.6 66.0,169.7 66.5,169.2 67.0,169.1 67.5,169.1 68.0,169.5 68.5,170.8 69.0,171.0 69.5,171.1 70.0,168.1 70.5,167.8 71.0,167.8 71.5,168.0 72.0,167.6 72.5,167.5 73.0,167.6 73.5,167.1 74.0,164.3 74.5,164.0 75.0,164.0 75.5,164.1 76.0,163.9 76.5,162.9 77.0,162.6 77.5,160.7 78.0,160.3 78.5,160.1 79.0,160.1 79.5,159.7 80.0,159.5 80.5,158.8 81.0,157.5 81.5,157.0 82.0,153.2 82.5,152.6 83.0,152.4 83.5,152.5 84.0,152.0 84.5,151.6 85.0,151.4 85.5,151.3 86.0,149.7 86.5,149.0 87.0,148.8 87.5,148.8 88.0,148.2 88.5,147.5 89.0,145.3 89.5,144.6 90.0,144.3 90.5,143.8 91.0,142.5 91.5,141.5 92.0,140.5 92.5,140.3 93.0,138.3 93.5,138.0 94.0,137.6 94.5,135.2 95.0,134.8 95.5,134.7 96.0,129.3 96.5,128.9 97.0,128.8 97.5,129.0 98.0,129.4 98.5,126.9 99.0,126.5 99.5,126.4 100.0,126.5 100.5,126.1 101.0,125.1 101.5,124.7 102.0,124.0 102.5,123.1 103.0,121.2 103.5,119.5 104.0,119.3 104.5,119.3 105.0,116.1 105.5,115.7 106.0,115.6 106.5,115.7 107.0,116.2 107.5,116.2 108.0,114.8 108.5,114.5 109.0,113.4 109.5,113.1 110.0,113.0 110.5,113.1 111.0,110.2 111.5,109.7 112.0,109.5 112.5,109.6 113.0,109.9 113.5,111.7 114.0,109.9 114.5,109.4 115.0,109.3 115.5,109.2 116.0,109.1 116.5,107.9 117.0,107.6 117.5,107.5 118.0,107.7 118.5,108.3 119.0,107.1 119.5,106.8 120.0,106.7 120.5,106.9 121.0,107.4 121.5,110.8 122.0,111.0 122.5,111.2 123.0,112.8 123.5,114.0 124.0,114.4 124.5,114.5 125.0,114.6 125.5,114.7 126.0,115.3 126.5,117.5 127.0,117.5 127.5,117.8 128.0,121.1 128.5,121.3 129.0,121.8 129.5,122.9 130.0,123.3 130.5,125.2 131.0,125.7 131.5,127.3 132.0,127.8 132.5,127.9 133.0,128.4 133.5,133.9 134.0,136.2 134.5,137.2 135.0,138.7 135.5,139.5 136.0,141.1 136.5,143.8 137.0,144.0 137.5,144.5 138.0,146.3 138.5,148.1 139.0,148.6 139.5,149.4 140.0,152.8 140.5,155.5 141.0,156.0 141.5,158.0 142.0,162.0 142.5,166.5 143.0,170.9 143.5,172.7 144.0,178.5 144.5,179.0 145.0,181.5 145.5,184.4 146.0,186.4 146.5,188.1 147.0,188.6 147.5,193.7 148.0,196.8 148.5,185.9 149.0,184.9 149.5,184.7 150.0,184.7 150.5,184.9 151.0,185.9 151.5,190.0 152.0,195.1 152.5,208.9 153.0,215.3 153.5,218.8 154.0,221.6 154.5,222.2 155.0,226.0 155.5,228.8 156.0,229.4 156.5,232.4 157.0,232.9 157.5,235.6 158.0,237.8 158.5,238.3 159.0,239.6 159.5,241.7 160.0,242.8 160.5,244.7 161.0,245.4 161.5,245.7 162.0,246.6 162.5,247.3 163.0,247.9 163.5,248.4 164.0,250.7 164.5,253.9 165.0,254.7 165.5,256.6 166.0,256.8 166.5,257.4 167.0,257.8 167.5,257.9 168.0,258.3 168.5,261.0 169.0,262.2 169.5,262.1 170.0,262.2 170.5,262.5 171.0,263.9 171.5,264.4 172.0,265.7 172.5,268.4 173.0,268.8 173.5,269.7 174.0,271.3 174.5,271.6 175.0,272.0 175.5,274.8 176.0,277.3 176.5,277.9 177.0,278.4 177.5,279.2 178.0,279.5 178.5,279.7 179.0,280.0 179.5,282.2 180.0,282.9 180.5,284.1 181.0,284.4 181.5,285.0 182.0,285.8 182.5,286.0 183.0,286.3 183.5,286.8 184.0,286.8 184.5,287.1 185.0,289.3 185.5,289.5 186.0,289.9 186.5,290.3 187.0,291.1 187.5,292.4 188.0,292.9 188.5,293.4 189.0,293.7 189.5,294.0 190.0,295.2 190.5,295.3 191.0,295.7 191.5,296.0 192.0,296.2 192.5,296.9 193.0,299.2 193.5,299.4 194.0,299.6 194.5,299.4 195.0,299.4 195.5,299.6 196.0,300.6 196.5,301.5 197.0,301.5 197.5,301.4 198.0,301.5 198.5,302.0 199.0,303.6 199.5,303.8 200.0,305.8 200.5,305.8 201.0,305.5 201.5,305.5 202.0,305.7 202.5,306.2 203.0,307.0 203.5,307.3 204.0,309.1 204.5,309.8 205.0,310.0 205.5,310.0 206.0,310.2 206.5,311.1 207.0,312.2 207.5,312.2 208.0,312.4 208.5,313.8 209.0,314.4 209.5,314.6 210.0,314.9 210.5,315.7 211.0,316.1 211.5,316.6 212.0,316.6 212.5,316.8 213.0,317.1 213.5,318.0 214.0,317.9 214.5,318.0 215.0,318.3 215.5,318.1 216.0,318.0 216.5,318.1 217.0,318.4 217.5,319.6 218.0,319.8 218.5,320.8 219.0,320.8 219.5,321.0 220.0,321.1 220.5,321.2 221.0,320.9 221.5,320.5 222.0,320.4 222.5,320.4 223.0,320.8 223.5,322.0 224.0,322.1 224.5,322.4 225.0,323.4 225.5,323.4 226.0,323.2 226.5,322.8 227.0,322.4 227.5,322.3 228.0,322.1 228.5,322.0 229.0,321.8 229.5,321.9 230.0,322.2 230.5,322.3 231.0,322.4 231.5,322.8 232.0,322.9 232.5,322.3 233.0,321.9 233.5,321.8 234.0,322.0 234.5,322.4 235.0,323.0 235.5,323.2 236.0,323.2 236.5,323.0 237.0,322.7 237.5,320.5 238.0,320.1 238.5,319.9 239.0,320.0 239.5,318.5 240.0,315.6 240.5,315.1 241.0,314.9 241.5,315.0 242.0,315.3 242.5,316.2 243.0,320.2 243.5,320.2 244.0,320.4 244.5,320.3 245.0,320.4 245.5,320.9 246.0,320.7 246.5,320.5 247.0,320.5 247.5,320.8 248.0,320.9 248.5,320.7 249.0,320.2 249.5,319.7 250.0,319.6 250.5,319.6 251.0,319.9 251.5,319.3 252.0,318.4 252.5,317.9 253.0,317.8 253.5,317.8 254.0,318.2 254.5,318.5 255.0,318.4 255.5,318.6 256.0,319.1 256.5,319.8 257.0,319.0 257.5,318.8 258.0,318.5 258.5,318.3 259.0,317.9 259.5,317.6 260.0,317.3 260.5,316.9 261.0,316.9 261.5,317.0 262.0,317.5 262.5,317.7 263.0,317.2 263.5,317.1 264.0,317.1 264.5,317.2 265.0,316.9 265.5,316.9 266.0,317.2 266.5,318.2 267.0,320.1 267.5,320.1 268.0,320.0 268.5,319.7 269.0,319.5 269.5,319.3 270.0,319.1 270.5,319.2 271.0,319.6 271.5,321.5 272.0,321.9 272.5,321.9 273.0,322.0 273.5,322.4 274.0,322.9 274.5,322.7 275.0,322.7 275.5,323.0 276.0,323.6 276.5,324.1 277.0,324.3 277.5,324.5 278.0,325.8 278.5,326.0 279.0,326.2 279.5,326.8 280.0,326.6 280.5,326.6 281.0,326.8 281.5,327.3 282.0,327.6 282.5,327.9 283.0,328.4 283.5,328.9 284.0,329.0 284.5,329.2 285.0,329.8 285.5,331.3 286.0,331.8 286.5,332.0 287.0,332.1 287.5,332.0 288.0,332.0 288.5,332.2 289.0,333.2 289.5,333.8 290.0,333.8 290.5,333.8 291.0,334.1 291.5,335.0 292.0,335.5 292.5,336.1 293.0,336.6 293.5,336.6 294.0,336.3 294.5,336.3 295.0,336.5 295.5,337.1 296.0,337.4 296.5,337.3 297.0,337.5 297.5,338.2 298.0,339.7 298.5,340.0 299.0,340.0 299.5,339.7 300.0,339.6 300.5,339.6 301.0,339.9 301.5,339.6 302.0,339.5 302.5,339.7 303.0,340.3 303.5,340.9 304.0,341.0 304.5,341.6 305.0,341.7 305.5,341.6 306.0,341.6 306.5,341.9 307.0,341.7 307.5,341.3 308.0,341.2 308.5,341.3 309.0,341.7 309.5,343.2 310.0,343.2 310.5,343.4 311.0,344.0 311.5,343.9 312.0,343.9 312.5,344.2 313.0,344.4 313.5,344.5 314.0,344.8 314.5,344.8 315.0,344.5 315.5,344.5 316.0,344.7 316.5,345.2 317.0,346.6 317.5,346.6 318.0,346.8 318.5,347.3 319.0,347.8 319.5,348.0 320.0,347.8 320.5,347.6 321.0,347.6 321.5,347.7 322.0,347.6 322.5,347.7 323.0,348.0 323.5,347.8 324.0,347.2 324.5,347.0 325.0,347.0 325.5,347.3 326.0,348.2 326.5,348.0 327.0,347.7 327.5,347.7 328.0,347.8 328.5,347.9 329.0,348.1 329.5,348.6 330.0,349.1 330.5,349.5 331.0,349.9 331.5,349.7 332.0,349.6 332.5,349.7 333.0,349.6 333.5,349.5 334.0,349.5 334.5,348.7 335.0,348.5 335.5,348.5 336.0,348.7 336.5,349.3 337.0,350.8 337.5,350.7 338.0,350.6 338.5,350.4 339.0,350.3 339.5,350.3 340.0,350.5 340.5,350.5 341.0,350.7 341.5,350.4 342.0,350.3 342.5,350.4 343.0,350.7 343.5,350.3 344.0,350.0 344.5,349.9 345.0,350.0 345.5,350.5 346.0,351.0 346.5,351.3 347.0,351.3 347.5,351.4 348.0,352.0 348.5,352.5 349.0,352.9 349.5,353.1 350.0,352.9 350.5,352.9 351.0,351.7 351.5,351.5 352.0,351.5 352.5,351.7 353.0,352.0 353.5,352.1 354.0,352.5 354.5,352.4 355.0,352.4 355.5,352.5 356.0,352.6 356.5,352.8 357.0,352.9 357.5,352.9 358.0,352.4 358.5,352.3 359.0,352.4 359.5,352.7 360.0,353.7 360.5,354.1 361.0,353.8 361.5,353.8 362.0,353.4 362.5,353.2 363.0,353.2 363.5,353.4 364.0,354.4 364.5,354.6 365.0,354.4 365.5,354.4 366.0,354.4 366.5,354.6 367.0,355.0 367.5,354.6 368.0,354.4 368.5,354.4 369.0,354.5 369.5,354.2 370.0,354.2 370.5,354.4 371.0,355.1 371.5,355.3 372.0,355.2 372.5,355.4 373.0,355.6 373.5,355.4 374.0,355.1 374.5,354.4 375.0,354.2 375.5,354.3 376.0,354.5 376.5,356.0 377.0,355.4 377.5,355.2 378.0,355.2 378.5,355.4 379.0,356.1 379.5,355.5 380.0,355.3 380.5,355.4 381.0,355.4 381.5,355.6 382.0,356.0 382.5,355.9 383.0,356.1 383.5,355.9 384.0,355.7 384.5,355.7 385.0,355.9 385.5,355.9 386.0,356.0 386.5,356.0 387.0,356.0 387.5,356.2 388.0,355.8 388.5,355.2 389.0,355.0 389.5,355.1 390.0,355.4 390.5,356.2 391.0,356.1 391.5,356.2 392.0,356.5 392.5,357.0 393.0,356.8 393.5,356.9 394.0,357.3 394.5,357.5 395.0,357.4 395.5,357.1 396.0,357.1 396.5,357.2 397.0,357.0 397.5,357.1 398.0,357.4 398.5,357.9 399.0,357.9 399.5,358.1 400.0,358.0 400.5,357.9 401.0,358.0 401.5,358.1 402.0,358.3 402.5,358.8 403.0,358.9 403.5,359.3 404.0,359.5 404.5,359.5 405.0,359.6 405.5,359.6 406.0,359.3 406.5,359.2 407.0,359.3 407.5,359.6 408.0,359.5 408.5,359.7 409.0,360.0 409.5,360.4 410.0,360.7 410.5,360.6 411.0,360.7 411.5,361.1 412.0,361.4 412.5,361.3 413.0,361.2 413.5,360.9 414.0,360.7 414.5,360.8 415.0,361.1 415.5,361.2 416.0,361.3 416.5,361.4 417.0,361.1 417.5,361.1 418.0,361.2 418.5,361.3 419.0,361.4 419.5,361.7 420.0,361.7 420.5,361.7 421.0,361.9 421.5,362.5 422.0,361.9 422.5,361.5 423.0,361.3 423.5,361.4 424.0,361.8 424.5,362.3 425.0,362.1 425.5,361.9 426.0,362.0 426.5,362.3 427.0,362.2 427.5,362.0 428.0,362.1 428.5,362.5 429.0,363.1 429.5,363.4 430.0,363.1 430.5,362.9 431.0,362.9 431.5,362.8 432.0,362.9 432.5,363.4 433.0,363.0 433.5,362.8 434.0,362.9 434.5,363.3 435.0,363.8 435.5,363.8 436.0,364.1 436.5,364.2 437.0,364.2 437.5,364.4 438.0,364.0 438.5,363.9 439.0,364.0 439.5,364.0 440.0,363.5 440.5,363.4 441.0,363.4 441.5,363.7 442.0,365.1 442.5,365.0 443.0,365.0 443.5,365.1 444.0,365.1 444.5,365.3 445.0,365.5 445.5,365.1 446.0,365.0 446.5,365.1 447.0,365.5 447.5,365.9 448.0,365.6 448.5,365.5 449.0,365.7 449.5,366.2 450.0,366.5 450.5,366.5 451.0,366.2 451.5,366.2 452.0,366.5 452.5,366.5 453.0,366.5 453.5,366.9 454.0,366.7 454.5,366.6 455.0,366.3 455.5,366.2 456.0,366.3 456.5,366.8 457.0,367.2 457.5,367.1 458.0,366.9 458.5,366.9 459.0,367.2 459.5,368.0 460.0,368.3 460.5,368.1 461.0,367.8 461.5,367.7 462.0,367.8 462.5,368.1 463.0,367.8 463.5,367.4 464.0,367.3 464.5,367.4 465.0,367.8 465.5,368.4 466.0,368.1 466.5,367.8 467.0,367.8 467.5,367.9 468.0,368.5 468.5,368.4 469.0,368.4 469.5,368.7 470.0,368.7 470.5,368.6 471.0,368.6 471.5,368.9 472.0,369.1 472.5,369.2 473.0,369.4 473.5,369.2 474.0,369.3 474.5,369.0 475.0,368.9 475.5,369.1 476.0,369.5 476.5,369.8 477.0,369.5 477.5,369.2 478.0,369.2 478.5,369.4 479.0,369.3 479.5,369.2 480.0,368.9 480.5,368.9 481.0,369.1 481.5,369.6 482.0,370.0 482.5,369.9 483.0,369.9 483.5,370.1 484.0,369.7 484.5,369.6 485.0,369.6 485.5,370.0 486.0,370.1 486.5,369.9 487.0,369.7 487.5,369.8 488.0,370.1 488.5,370.7 489.0,370.6 489.5,370.6 490.0,370.7 490.5,370.5 491.0,370.3 491.5,370.4 492.0,370.7 492.5,370.6 493.0,370.1 493.5,370.0 494.0,370.1 494.5,370.4 495.0,370.6 495.5,370.5 496.0,370.4 496.5,370.5 497.0,370.5 497.5,370.1 498.0,369.9 498.5,369.9 499.0,370.2 499.5,370.5 500.0,370.3 500.5,370.2 501.0,370.0 501.5,370.1 502.0,370.3 502.5,370.7 503.0,370.7 503.5,370.8 504.0,370.6 504.5,370.5 505.0,370.6 505.5,370.6 506.0,370.7 506.5,371.0 507.0,370.8 507.5,370.5 508.0,370.4 508.5,370.5 509.0,370.4 509.5,370.2 510.0,370.2 510.5,370.5 511.0,370.4 511.5,370.5 512.0,370.8 512.5,370.6 513.0,370.6 513.5,370.6 514.0,370.6 514.5,370.8 515.0,370.9 515.5,371.0 516.0,370.9 516.5,371.0 517.0,370.5 517.5,370.4 518.0,370.5 518.5,370.8 519.0,370.9 519.5,370.9 520.0,370.8 520.5,370.6 521.0,370.1 521.5,370.0 522.0,370.1 522.5,370.3 523.0,370.2 523.5,369.9 524.0,369.9 524.5,370.1 525.0,370.0 525.5,369.7 526.0,369.7 526.5,369.9 527.0,370.6 527.5,370.7 528.0,370.6 528.5,370.8 529.0,370.9 529.5,370.9 530.0,371.1 530.5,370.4 531.0,370.1 531.5,370.1 532.0,370.3 532.5,370.3 533.0,370.0 533.5,369.9 534.0,370.0 534.5,370.5 535.0,370.8 535.2,370.9 535.2,374.7 535.0,374.9 534.5,375.2 534.0,375.3 533.5,375.2 533.0,375.0 532.5,374.9 532.0,374.9 531.5,374.9 531.0,374.8 530.5,374.8 530.0,374.8 529.5,374.5 529.0,374.6 528.5,374.7 528.0,374.6 527.5,374.2 527.0,375.0 526.5,375.3 526.0,375.3 525.5,375.0 525.0,374.8 524.5,374.6 524.0,374.7 523.5,374.7 523.0,374.5 522.5,374.7 522.0,374.8 521.5,375.0 521.0,375.1 520.5,375.1 520.0,375.2 519.5,375.4 519.0,375.5 518.5,375.4 518.0,375.1 517.5,374.3 517.0,374.7 516.5,374.8 516.0,374.9 515.5,375.2 515.0,375.2 514.5,375.0 514.0,374.6 513.5,374.3 513.0,374.3 512.5,374.5 512.0,374.6 511.5,374.5 511.0,374.9 510.5,375.0 510.0,374.9 509.5,374.8 509.0,375.0 508.5,374.9 508.0,374.6 507.5,374.5 507.0,374.8 506.5,374.9 506.0,374.8 505.5,374.8 505.0,374.8 504.5,374.7 504.0,374.9 503.5,375.1 503.0,375.1 502.5,374.9 502.0,375.0 501.5,375.0 501.0,374.8 500.5,374.9 500.0,374.8 499.5,374.5 499.0,374.7 498.5,374.9 498.0,374.9 497.5,374.6 497.0,374.7 496.5,374.9 496.0,374.8 495.5,374.5 495.0,374.2 494.5,374.4 494.0,374.4 493.5,374.1 493.0,374.4 492.5,374.5 492.0,374.9 491.5,375.1 491.0,375.1 490.5,374.8 490.0,374.6 489.5,374.6 489.0,374.4 488.5,374.5 488.0,374.5 487.5,374.3 487.0,373.8 486.5,374.0 486.0,374.1 485.5,374.0 485.0,373.6 484.5,373.8 484.0,373.7 483.5,373.9 483.0,374.0 482.5,374.0 482.0,373.8 481.5,373.7 481.0,373.7 480.5,373.9 480.0,374.2 479.5,374.6 479.0,374.9 478.5,374.9 478.0,374.7 477.5,374.0 477.0,373.8 476.5,373.7 476.0,373.5 475.5,373.5 475.0,373.8 474.5,374.1 474.0,374.1 473.5,373.9 473.0,373.6 472.5,373.1 472.0,373.3 471.5,373.4 471.0,373.6 470.5,373.5 470.0,373.3 469.5,373.3 469.0,373.1 468.5,372.8 468.0,373.0 467.5,373.0 467.0,373.0 466.5,372.9 466.0,372.5 465.5,372.9 465.0,373.1 464.5,373.1 464.0,372.9 463.5,372.4 463.0,372.9 462.5,373.2 462.0,373.2 461.5,373.0 461.0,372.7 460.5,372.8 460.0,372.8 459.5,372.5 459.0,372.3 458.5,372.1 458.0,371.8 457.5,371.8 457.0,371.6 456.5,371.6 456.0,371.7 455.5,372.0 455.0,372.2 454.5,372.2 454.0,371.9 453.5,371.1 453.0,371.0 452.5,370.8 452.0,371.1 451.5,371.1 451.0,370.9 450.5,370.9 450.0,371.1 449.5,371.0 449.0,370.7 448.5,370.5 448.0,370.4 447.5,370.4 447.0,370.2 446.5,370.0 446.0,370.4 445.5,370.4 445.0,370.4 444.5,370.3 444.0,370.1 443.5,369.8 443.0,369.7 442.5,369.8 442.0,370.2 441.5,370.3 441.0,370.2 440.5,369.8 440.0,368.7 439.5,368.4 439.0,368.4 438.5,368.3 438.0,368.4 437.5,368.4 437.0,368.8 436.5,369.0 436.0,368.9 435.5,368.6 435.0,368.3 434.5,368.7 434.0,368.8 433.5,368.7 433.0,368.7 432.5,368.6 432.0,368.3 431.5,367.7 431.0,367.7 430.5,368.0 430.0,368.2 429.5,368.2 429.0,367.9 428.5,367.8 428.0,367.6 427.5,368.0 427.0,368.6 426.5,368.8 426.0,368.8 425.5,368.5 425.0,367.2 424.5,367.0 424.0,367.0 423.5,366.9 423.0,366.9 422.5,366.7 422.0,367.0 421.5,367.1 421.0,367.0 420.5,366.8 420.0,366.5 419.5,366.5 419.0,366.4 418.5,366.5 418.0,366.5 417.5,366.3 417.0,366.4 416.5,366.5 416.0,366.3 415.5,366.5 415.0,366.5 414.5,366.3 414.0,366.1 413.5,366.2 413.0,366.0 412.5,365.5 412.0,365.9 411.5,366.1 411.0,366.1 410.5,365.8 410.0,365.1 409.5,364.7 409.0,365.1 408.5,365.5 408.0,365.6 407.5,365.4 407.0,365.0 406.5,364.2 406.0,364.5 405.5,364.6 405.0,364.4 404.5,364.0 404.0,364.2 403.5,364.2 403.0,364.0 402.5,363.6 402.0,363.4 401.5,363.7 401.0,363.7 400.5,363.7 400.0,363.7 399.5,363.5 399.0,363.4 398.5,363.4 398.0,363.3 397.5,363.0 397.0,363.0 396.5,363.0 396.0,362.9 395.5,362.8 395.0,362.8 394.5,362.4 394.0,362.0 393.5,361.7 393.0,362.1 392.5,362.1 392.0,362.0 391.5,361.5 391.0,361.0 390.5,360.7 390.0,360.8 389.5,361.0 389.0,360.9 388.5,360.7 388.0,361.6 387.5,361.8 387.0,361.9 386.5,361.9 386.0,361.8 385.5,361.4 385.0,360.8 384.5,360.6 384.0,360.5 383.5,361.3 383.0,361.6 382.5,361.6 382.0,361.4 381.5,360.7 381.0,360.4 380.5,360.5 380.0,360.8 379.5,361.6 379.0,362.0 378.5,362.1 378.0,362.0 377.5,361.6 377.0,360.4 376.5,360.4 376.0,360.2 375.5,361.0 375.0,361.4 374.5,361.6 374.0,361.5 373.5,361.1 373.0,360.1 372.5,360.3 372.0,360.2 371.5,360.2 371.0,360.7 370.5,360.9 370.0,360.9 369.5,360.7 369.0,360.3 368.5,360.2 368.0,360.5 367.5,360.5 367.0,360.3 366.5,359.9 366.0,359.7 365.5,360.0 365.0,360.3 364.5,360.4 364.0,360.3 363.5,359.9 363.0,358.8 362.5,359.0 362.0,359.0 361.5,358.8 361.0,358.4 360.5,358.6 360.0,359.4 359.5,359.7 359.0,359.7 358.5,359.6 358.0,359.0 357.5,357.9 357.0,358.2 356.5,358.4 356.0,358.3 355.5,358.1 355.0,358.5 354.5,358.6 354.0,358.5 353.5,358.1 353.0,357.9 352.5,357.7 352.0,357.1 351.5,357.2 351.0,357.1 350.5,357.1 350.0,357.3 349.5,357.3 349.0,357.3 348.5,357.5 348.0,358.3 347.5,358.5 347.0,358.6 346.5,358.4 346.0,357.8 345.5,357.1 345.0,357.1 344.5,356.8 344.0,356.8 343.5,356.7 343.0,356.4 342.5,355.4 342.0,355.4 341.5,355.3 341.0,355.4 340.5,355.3 340.0,355.0 339.5,355.2 339.0,355.3 338.5,355.3 338.0,355.2 337.5,355.1 337.0,355.2 336.5,355.6 336.0,355.8 335.5,355.7 335.0,355.4 334.5,355.4 334.0,355.5 333.5,355.5 333.0,355.2 332.5,355.4 332.0,355.9 331.5,356.0 331.0,356.0 330.5,355.6 330.0,354.2 329.5,353.9 329.0,353.7 328.5,353.6 328.0,353.4 327.5,353.4 327.0,353.5 326.5,353.7 326.0,353.7 325.5,353.7 325.0,353.4 324.5,353.4 324.0,353.3 323.5,353.1 323.0,353.0 322.5,353.3 322.0,353.4 321.5,353.4 321.0,353.0 320.5,352.5 320.0,352.4 319.5,352.0 319.0,352.4 318.5,352.5 318.0,352.5 317.5,352.2 317.0,351.4 316.5,350.8 316.0,350.8 315.5,350.6 315.0,350.3 314.5,350.7 314.0,350.8 313.5,350.7 313.0,350.3 312.5,349.8 312.0,350.0 311.5,350.0 311.0,349.8 310.5,349.5 310.0,349.1 309.5,348.6 309.0,348.2 308.5,350.1 308.0,350.6 307.5,350.8 307.0,350.7 306.5,350.4 306.0,347.7 305.5,347.6 305.0,347.5 304.5,347.1 304.0,346.8 303.5,346.3 303.0,345.8 302.5,345.9 302.0,345.8 301.5,345.7 301.0,345.9 300.5,345.9 300.0,345.7 299.5,345.7 299.0,345.8 298.5,345.6 298.0,345.0 297.5,344.2 297.0,344.1 296.5,344.2 296.0,344.7 295.5,344.9 295.0,344.8 294.5,344.5 294.0,342.4 293.5,342.2 293.0,342.0 292.5,342.0 292.0,342.0 291.5,341.6 291.0,340.9 290.5,340.9 290.0,340.7 289.5,340.4 289.0,340.0 288.5,339.7 288.0,339.7 287.5,339.5 287.0,338.8 286.5,337.5 286.0,337.3 285.5,337.3 285.0,337.4 284.5,337.2 284.0,336.5 283.5,334.0 283.0,334.9 282.5,335.1 282.0,335.2 281.5,335.0 281.0,334.3 280.5,333.5 280.0,333.3 279.5,332.6 279.0,331.9 278.5,331.5 278.0,331.7 277.5,331.6 277.0,331.3 276.5,330.2 276.0,329.6 275.5,328.8 275.0,328.8 274.5,328.6 274.0,329.0 273.5,329.2 273.0,329.3 272.5,329.1 272.0,328.4 271.5,327.1 271.0,326.5 270.5,326.8 270.0,326.8 269.5,326.6 269.0,325.9 268.5,325.8 268.0,325.9 267.5,325.8 267.0,326.2 266.5,326.2 266.0,326.1 265.5,325.6 265.0,325.2 264.5,325.2 264.0,324.9 263.5,325.4 263.0,325.6 262.5,325.5 262.0,325.2 261.5,324.9 261.0,324.6 260.5,324.2 260.0,324.1 259.5,323.8 259.0,324.1 258.5,325.1 258.0,325.4 257.5,325.5 257.0,325.3 256.5,325.5 256.0,325.6 255.5,325.4 255.0,324.9 254.5,324.2 254.0,325.1 253.5,325.6 253.0,325.7 252.5,325.6 252.0,325.4 251.5,325.4 251.0,325.1 250.5,324.8 250.0,325.9 249.5,326.1 249.0,326.1 248.5,326.4 248.0,326.5 247.5,326.4 247.0,326.5 246.5,326.4 246.0,326.8 245.5,327.1 245.0,327.2 244.5,327.1 244.0,326.7 243.5,326.7 243.0,326.7 242.5,326.4 242.0,326.1 241.5,325.8 241.0,325.9 240.5,326.6 240.0,327.3 239.5,327.5 239.0,327.5 238.5,327.3 238.0,327.4 237.5,328.0 237.0,328.7 236.5,328.9 236.0,328.9 235.5,328.6 235.0,328.7 234.5,328.7 234.0,328.8 233.5,328.7 233.0,328.3 232.5,328.3 232.0,328.1 231.5,328.2 231.0,328.1 230.5,328.5 230.0,328.6 229.5,328.5 229.0,328.2 228.5,328.7 228.0,328.8 227.5,328.8 227.0,328.5 226.5,327.9 226.0,328.1 225.5,328.6 225.0,328.8 224.5,328.7 224.0,328.4 223.5,327.5 223.0,327.5 222.5,327.7 222.0,328.1 221.5,328.5 221.0,328.6 220.5,328.5 220.0,328.1 219.5,326.7 219.0,326.5 218.5,326.0 218.0,324.8 217.5,325.0 217.0,325.0 216.5,324.8 216.0,324.3 215.5,324.1 215.0,323.6 214.5,323.7 214.0,323.6 213.5,323.1 213.0,322.4 212.5,322.3 212.0,323.0 211.5,323.3 211.0,323.4 210.5,323.2 210.0,322.7 209.5,321.0 209.0,320.6 208.5,319.6 208.0,319.6 207.5,319.7 207.0,319.5 206.5,318.9 206.0,317.6 205.5,316.9 205.0,316.9 204.5,316.8 204.0,316.4 203.5,314.5 203.0,314.5 202.5,314.2 202.0,313.6 201.5,312.0 201.0,312.2 200.5,312.2 200.0,312.0 199.5,312.1 199.0,311.9 198.5,311.5 198.0,311.0 197.5,308.3 197.0,308.1 196.5,307.9 196.0,307.4 195.5,306.8 195.0,306.2 194.5,306.1 194.0,305.6 193.5,304.5 193.0,304.5 192.5,304.4 192.0,304.2 191.5,303.9 191.0,302.1 190.5,300.9 190.0,300.7 189.5,300.3 189.0,300.2 188.5,300.4 188.0,300.3 187.5,300.1 187.0,298.4 186.5,297.7 186.0,297.6 185.5,297.2 185.0,296.9 184.5,296.6 184.0,294.9 183.5,294.7 183.0,294.2 182.5,293.6 182.0,291.5 181.5,290.9 181.0,290.9 180.5,290.8 180.0,290.4 179.5,289.9 179.0,289.8 178.5,289.5 178.0,286.7 177.5,286.5 177.0,286.2 176.5,284.7 176.0,284.0 175.5,283.0 175.0,282.5 174.5,281.0 174.0,280.3 173.5,278.7 173.0,277.3 172.5,277.1 172.0,276.5 171.5,274.2 171.0,272.5 170.5,272.2 170.0,270.8 169.5,269.6 169.0,269.2 168.5,266.9 168.0,266.9 167.5,266.8 167.0,266.4 166.5,265.0 166.0,263.5 165.5,263.2 165.0,262.9 164.5,262.5 164.0,261.3 163.5,260.8 163.0,258.5 162.5,258.3 162.0,257.3 161.5,257.1 161.0,257.0 160.5,256.6 160.0,251.6 159.5,250.6 159.0,249.9 158.5,249.6 158.0,246.2 157.5,244.9 157.0,244.5 156.5,243.9 156.0,242.2 155.5,239.7 155.0,239.0 154.5,235.1 154.0,234.2 153.5,232.3 153.0,231.2 152.5,230.8 152.0,227.6 151.5,222.7 151.0,220.1 150.5,217.4 150.0,208.9 149.5,206.9 149.0,207.0 148.5,206.9 148.0,206.5 147.5,203.9 147.0,203.5 146.5,202.9 146.0,199.4 145.5,197.1 145.0,195.2 144.5,192.2 144.0,191.7 143.5,188.7 143.0,186.1 142.5,184.6 142.0,182.6 141.5,179.3 141.0,177.2 140.5,170.9 140.0,166.5 139.5,163.0 139.0,160.3 138.5,160.0 138.0,158.5 137.5,155.6 137.0,155.5 136.5,154.9 136.0,152.5 135.5,152.4 135.0,151.9 134.5,149.6 134.0,144.9 133.5,144.4 133.0,144.1 132.5,141.7 132.0,141.1 131.5,138.7 131.0,135.2 130.5,134.8 130.0,134.1 129.5,133.8 129.0,133.3 128.5,131.1 128.0,131.1 127.5,130.8 127.0,128.5 126.5,128.1 126.0,127.2 125.5,125.2 125.0,125.0 124.5,124.0 124.0,122.7 123.5,122.3 123.0,120.3 122.5,119.4 122.0,118.9 121.5,118.6 121.0,119.7 120.5,119.9 120.0,119.9 119.5,119.7 119.0,119.1 118.5,117.8 118.0,117.6 117.5,118.1 117.0,118.3 116.5,118.3 116.0,118.1 115.5,118.4 115.0,119.8 114.5,120.7 114.0,120.9 113.5,120.9 113.0,120.7 112.5,119.7 112.0,120.4 111.5,120.7 111.0,120.8 110.5,120.7 110.0,121.1 109.5,121.4 109.0,123.1 108.5,123.5 108.0,124.0 107.5,124.2 107.0,124.2 106.5,124.3 106.0,128.8 105.5,129.2 105.0,129.2 104.5,129.1 104.0,129.0 103.5,130.1 103.0,130.7 102.5,130.9 102.0,132.2 101.5,133.4 101.0,133.9 100.5,135.3 100.0,138.6 99.5,138.8 99.0,138.9 98.5,138.7 98.0,139.2 97.5,141.6 97.0,142.0 96.5,142.5 96.0,142.8 95.5,143.8 95.0,145.6 94.5,146.1 94.0,147.4 93.5,147.8 93.0,147.9 92.5,149.4 92.0,149.9 91.5,150.0 91.0,150.2 90.5,153.4 90.0,153.8 89.5,154.0 89.0,155.0 88.5,155.7 88.0,156.0 87.5,157.2 87.0,157.9 86.5,158.1 86.0,158.1 85.5,158.7 85.0,159.0 84.5,159.5 84.0,161.6 83.5,164.2 83.0,164.5 82.5,164.5 82.0,164.3 81.5,164.5 81.0,165.1 80.5,165.4 80.0,165.8 79.5,166.8 79.0,167.4 78.5,167.5 78.0,169.2 77.5,170.2 77.0,170.7 76.5,170.8 76.0,172.7 75.5,173.7 75.0,173.9 74.5,173.9 74.0,174.0 73.5,174.5 73.0,174.8 72.5,175.1 72.0,175.2 71.5,175.7 71.0,176.2 70.5,176.4 70.0,177.5 69.5,177.8 69.0,177.9 68.5,178.0 68.0,178.5 67.5,178.6 67.0,178.5 66.5,180.5 66.0,180.9 65.5,180.9 65.0,180.8 64.5,180.3 64.0,180.0 63.5,179.9 63.0,181.6 62.5,182.2 62.0,182.3 61.5,182.3 61.0,182.0 60.5,178.4 60.0,179.2 59.5,179.6 59.0,179.7 58.5,179.6 58.0,179.2 57.5,179.6 57.0,179.9 56.5,180.0 56.0,179.8 55.5,179.6 55.0,178.9 54.5,179.0 54.0,179.0 53.5,178.9 53.0,178.5 52.5,177.2 52.0,176.8 51.5,177.0 51.0,177.2 50.5,177.4 50.0,177.4 49.5,177.1 49.0,176.8 48.5,176.3 48.0,175.1 47.5,172.8 47.0,172.4 46.5,172.1 46.0,172.1 45.5,172.0 45.0,171.5 44.5,169.4 44.0,169.6 43.5,169.5 43.0,169.2 42.5,168.9 42.0,168.8 41.5,168.4 41.0,166.6 40.5,166.6 40.0,166.3 39.5,165.9 39.0,165.8 38.5,165.2 38.0,163.2 37.5,162.7 37.0,161.4 36.5,161.1 36.0,160.1 35.5,158.1 35.0,155.9 34.5,156.5 34.0,156.7 33.5,156.7 33.0,156.5 32.5,154.2 32.0,152.5 31.5,152.0 31.0,151.2 30.5,150.6 30.0,150.1 29.5,146.8 29.0,146.9 28.5,146.9 28.0,146.6 27.5,142.5 27.0,141.2 26.5,140.3 26.0,139.8 25.5,137.6 25.0,137.4 24.5,136.8 24.0,135.4 23.5,135.0 23.0,133.2 22.5,132.3 22.0,129.8 21.5,129.4 21.0,127.2 20.5,125.5 20.0,124.8 19.5,123.1 19.0,122.7 18.5,122.1 18.0,118.8 17.5,118.2 17.0,117.4 16.5,115.2 16.0,115.1 15.5,114.7 15.0,111.9 14.5,111.4 14.0,110.9 13.5,110.9 13.0,110.6 12.5,104.3"/>
<polygon fill="#000" points="12.5,89.3 13.0,89.4 13.5,93.4 14.0,98.4 14.5,100.3 15.0,100.5 15.5,104.7 16.0,106.1 16.5,107.2 17.0,107.9 17.5,104.2 18.0,104.0 18.5,109.3 19.0,113.0 19.5,114.8 20.0,116.7 20.5,116.9 21.0,113.9 21.5,114.2 22.0,118.1 22.5,118.3 23.0,119.3 23.5,124.1 24.0,124.7 24.5,124.6 25.0,130.1 25.5,129.0 26.0,128.9 26.5,130.2 27.0,130.2 27.5,136.3 28.0,136.1 28.5,136.3 29.0,135.0 29.5,134.9 30.0,135.5 30.5,139.5 31.0,141.3 31.5,144.9 32.0,143.9 32.5,144.0 33.0,147.4 33.5,147.0 34.0,147.5 34.5,147.5 35.0,149.1 35.5,148.8 36.0,150.5 36.5,152.4 37.0,150.7 37.5,150.6 38.0,155.9 38.5,158.1 39.0,157.9 39.5,158.0 40.0,159.5 40.5,159.6 41.0,160.2 41.5,159.8 42.0,159.8 42.5,163.2 43.0,160.3 43.5,160.2 44.0,163.8 44.5,163.9 45.0,161.9 45.5,161.4 46.0,161.9 46.5,162.7 47.0,164.1 47.5,164.2 48.0,166.2 48.5,166.9 49.0,167.9 49.5,168.1 50.0,170.5 50.5,170.2 51.0,168.8 51.5,169.0 52.0,170.0 52.5,173.3 53.0,173.1 53.5,172.8 54.0,172.8 54.5,169.2 55.0,169.2 55.5,171.0 56.0,170.5 56.5,171.0 57.0,168.8 57.5,168.9 58.0,170.5 58.5,170.5 59.0,171.9 59.5,171.6 60.0,173.3 60.5,171.3 61.0,171.0 61.5,172.4 62.0,173.7 62.5,169.5 63.0,166.9 63.5,167.2 64.0,172.2 64.5,172.6 65.0,173.0 65.5,172.6 66.0,172.4 66.5,172.3 67.0,167.1 67.5,167.3 68.0,170.3 68.5,170.3 69.0,171.4 69.5,171.3 70.0,171.8 70.5,166.7 71.0,166.5 71.5,168.7 72.0,167.3 72.5,166.8 73.0,167.3 73.5,168.2 74.0,166.8 74.5,162.7 75.0,162.5 75.5,166.0 76.0,165.7 76.5,166.6 77.0,162.0 77.5,161.9 78.0,159.5 78.5,159.0 79.0,159.2 79.5,160.5 80.0,159.5 80.5,159.5 81.0,159.6 81.5,158.4 82.0,156.8 82.5,157.0 83.0,150.7 83.5,150.8 84.0,151.7 84.5,151.0 85.0,150.7 85.5,150.7 86.0,152.9 86.5,154.6 87.0,148.2 87.5,148.3 88.0,150.1 88.5,148.3 89.0,148.2 89.5,147.1 90.0,143.9 90.5,143.9 91.0,143.4 91.5,142.2 92.0,141.7 92.5,139.7 93.0,139.7 93.5,137.1 94.0,137.1 94.5,137.4 95.0,133.7 95.5,133.5 96.0,134.6 96.5,125.9 97.0,125.7 97.5,128.5 98.0,131.7 98.5,131.2 99.0,125.0 99.5,124.5 100.0,125.0 100.5,125.8 101.0,125.9 101.5,124.4 102.0,124.4 102.5,123.7 103.0,122.6 103.5,120.1 104.0,117.9 104.5,117.9 105.0,119.3 105.5,113.7 106.0,113.4 106.5,117.3 107.0,117.2 107.5,117.2 108.0,115.8 108.5,113.8 109.0,113.7 109.5,112.2 110.0,112.0 110.5,113.3 111.0,114.9 111.5,110.1 112.0,107.6 112.5,107.8 113.0,111.3 113.5,111.5 114.0,112.4 114.5,111.4 115.0,108.2 115.5,108.2 116.0,108.1 116.5,108.5 117.0,105.7 117.5,105.5 118.0,106.9 118.5,106.9 119.0,107.6 119.5,104.0 120.0,103.8 120.5,110.0 121.0,109.8 121.5,109.9 122.0,110.0 122.5,113.8 123.0,113.8 123.5,114.2 124.0,113.9 124.5,113.5 125.0,113.4 125.5,114.3 126.0,119.2 126.5,116.0 127.0,116.1 127.5,120.5 128.0,120.4 128.5,122.0 129.0,121.5 129.5,121.8 130.0,123.8 130.5,125.5 131.0,130.0 131.5,125.1 132.0,125.0 132.5,130.2 133.0,135.7 133.5,135.9 134.0,138.1 134.5,138.4 135.0,139.0 135.5,140.5 136.0,143.0 136.5,142.8 137.0,144.9 137.5,145.0 138.0,146.9 138.5,147.2 139.0,151.9 139.5,154.6 140.0,155.2 140.5,156.0 141.0,157.9 141.5,161.0 142.0,167.7 142.5,170.7 143.0,170.9 143.5,177.7 144.0,180.4 144.5,180.7 145.0,185.2 145.5,187.4 146.0,187.0 146.5,187.5 147.0,194.2 147.5,197.2 148.0,197.2 148.5,197.6 149.0,193.3 149.5,184.8 150.0,184.8 150.5,190.1 151.0,190.6 151.5,197.8 152.0,213.9 152.5,216.9 153.0,220.8 153.5,220.7 154.0,225.6 154.5,227.2 155.0,228.5 155.5,231.8 156.0,232.1 156.5,232.4 157.0,235.6 157.5,237.8 158.0,238.9 158.5,241.5 159.0,241.7 159.5,242.6 160.0,244.7 160.5,244.7 161.0,245.0 161.5,245.4 162.0,246.0 162.5,245.9 163.0,249.0 163.5,249.2 164.0,253.8 164.5,254.4 165.0,256.4 165.5,256.3 166.0,257.9 166.5,257.1 167.0,256.6 167.5,257.1 168.0,261.6 168.5,263.4 169.0,262.2 169.5,261.4 170.0,261.6 170.5,263.2 171.0,264.6 171.5,268.5 172.0,268.2 172.5,268.8 173.0,268.9 173.5,270.6 174.0,270.4 174.5,270.7 175.0,274.7 175.5,278.1 176.0,278.2 176.5,278.4 177.0,279.3 177.5,278.8 178.0,278.6 178.5,278.8 179.0,282.1 179.5,282.4 180.0,284.0 180.5,284.0 181.0,285.3 181.5,285.4 182.0,285.5 182.5,285.6 183.0,287.3 183.5,285.7 184.0,285.8 184.5,288.9 185.0,289.0 185.5,289.2 186.0,290.5 186.5,290.6 187.0,293.0 187.5,292.8 188.0,294.1 188.5,293.4 189.0,293.6 189.5,295.2 190.0,295.0 190.5,295.8 191.0,295.6 191.5,295.5 192.0,297.4 192.5,299.9 193.0,299.8 193.5,300.0 194.0,301.2 194.5,298.8 195.0,298.8 195.5,301.5 196.0,301.6 196.5,301.0 197.0,300.7 197.5,300.5 198.0,302.9 198.5,303.1 199.0,303.2 199.5,306.1 200.0,306.7 200.5,306.8 201.0,304.8 201.5,304.7 202.0,307.6 202.5,306.3 203.0,306.4 203.5,309.1 204.0,309.7 204.5,310.0 205.0,309.4 205.5,309.4 206.0,310.5 206.5,312.5 207.0,311.7 207.5,311.8 208.0,315.4 208.5,314.4 209.0,314.4 209.5,314.7 210.0,315.7 210.5,316.1 211.0,317.6 211.5,316.5 212.0,316.6 212.5,316.7 213.0,318.0 213.5,318.9 214.0,317.7 214.5,317.9 215.0,319.5 215.5,318.8 216.0,317.1 216.5,317.4 217.0,319.3 217.5,319.3 218.0,320.8 218.5,321.0 219.0,320.8 219.5,321.3 220.0,321.0 220.5,321.5 221.0,323.0 221.5,321.6 222.0,319.3 222.5,319.5 223.0,321.9 223.5,321.6 224.0,321.9 224.5,323.5 225.0,323.7 225.5,324.7 226.0,323.3 226.5,323.3 227.0,322.2 227.5,321.9 228.0,321.8 228.5,321.3 229.0,321.1 229.5,321.3 230.0,322.1 230.5,321.8 231.0,322.7 231.5,322.8 232.0,322.8 232.5,322.8 233.0,321.4 233.5,321.1 234.0,321.7 234.5,322.9 235.0,323.0 235.5,324.0 236.0,324.3 236.5,323.3 237.0,323.3 237.5,322.6 238.0,321.5 238.5,318.7 239.0,319.0 239.5,322.1 240.0,322.9 240.5,317.5 241.0,315.8 241.5,316.0 242.0,317.6 242.5,322.1 243.0,319.8 243.5,319.9 244.0,320.1 244.5,319.9 245.0,321.7 245.5,320.9 246.0,321.0 246.5,320.3 247.0,320.4 247.5,321.3 248.0,321.6 248.5,320.8 249.0,320.8 249.5,319.9 250.0,319.1 250.5,319.3 251.0,320.0 251.5,319.7 252.0,318.7 252.5,318.2 253.0,316.6 253.5,316.8 254.0,318.3 254.5,318.1 255.0,317.9 255.5,319.7 256.0,319.8 256.5,320.8 257.0,321.1 257.5,318.9 258.0,318.9 258.5,318.3 259.0,318.4 259.5,317.1 260.0,317.0 260.5,316.1 261.0,315.9 261.5,318.6 262.0,318.7 262.5,321.2 263.0,319.3 263.5,315.9 264.0,316.1 264.5,319.1 265.0,315.6 265.5,315.6 266.0,319.3 266.5,321.0 267.0,320.8 267.5,320.2 268.0,320.2 268.5,319.5 269.0,319.0 269.5,319.5 270.0,318.0 270.5,318.3 271.0,321.3 271.5,322.1 272.0,322.0 272.5,321.7 273.0,323.3 273.5,324.3 274.0,322.7 274.5,322.3 275.0,322.3 275.5,323.2 276.0,323.8 276.5,323.9 277.0,324.0 277.5,325.9 278.0,326.0 278.5,326.1 279.0,326.9 279.5,326.8 280.0,326.2 280.5,326.2 281.0,326.9 281.5,327.1 282.0,327.2 282.5,328.1 283.0,328.3 283.5,328.5 284.0,328.4 284.5,330.4 285.0,331.2 285.5,333.8 286.0,332.1 286.5,331.9 287.0,332.4 287.5,331.4 288.0,331.4 288.5,334.9 289.0,333.7 289.5,333.5 290.0,333.2 290.5,333.3 291.0,334.6 291.5,336.0 292.0,336.0 292.5,336.8 293.0,336.6 293.5,336.7 294.0,335.8 294.5,335.7 295.0,336.9 295.5,338.1 296.0,336.8 296.5,336.7 297.0,339.6 297.5,339.9 298.0,340.3 298.5,340.5 299.0,340.4 299.5,339.7 300.0,339.2 300.5,339.5 301.0,339.8 301.5,338.8 302.0,338.7 302.5,340.0 303.0,340.6 303.5,340.5 304.0,341.6 304.5,343.5 305.0,343.8 305.5,341.2 306.0,341.4 306.5,342.5 307.0,342.4 307.5,340.7 308.0,340.2 308.5,340.7 309.0,343.4 309.5,343.1 310.0,343.0 310.5,344.4 311.0,344.2 311.5,343.7 312.0,343.9 312.5,344.9 313.0,344.3 313.5,344.5 314.0,345.2 314.5,345.7 315.0,344.0 315.5,343.9 316.0,347.0 316.5,347.6 317.0,347.0 317.5,346.9 318.0,347.7 318.5,348.6 319.0,349.1 319.5,348.6 320.0,348.7 320.5,347.8 321.0,347.8 321.5,347.9 322.0,347.6 322.5,347.8 323.0,348.5 323.5,348.5 324.0,349.2 324.5,346.2 325.0,346.3 325.5,347.6 326.0,351.4 326.5,349.0 327.0,347.1 327.5,347.0 328.0,347.5 328.5,347.3 329.0,348.1 329.5,348.8 330.0,349.6 330.5,349.9 331.0,350.4 331.5,350.2 332.0,349.7 332.5,350.1 333.0,350.1 333.5,349.4 334.0,349.5 334.5,350.0 335.0,347.8 335.5,347.7 336.0,350.7 336.5,351.0 337.0,351.4 337.5,351.1 338.0,351.0 338.5,350.7 339.0,350.4 339.5,350.3 340.0,350.8 340.5,350.6 341.0,351.1 341.5,351.3 342.0,350.0 342.5,350.3 343.0,351.4 343.5,351.6 344.0,349.4 344.5,349.1 345.0,350.1 345.5,350.4 346.0,353.4 346.5,351.1 347.0,351.0 347.5,352.3 348.0,352.5 348.5,353.4 349.0,353.4 349.5,353.6 350.0,353.3 350.5,353.4 351.0,352.8 351.5,350.9 352.0,350.8 352.5,352.0 353.0,351.5 353.5,352.0 354.0,354.0 354.5,352.0 355.0,352.2 355.5,352.2 356.0,352.3 356.5,352.8 357.0,352.6 357.5,353.6 358.0,353.0 358.5,351.5 359.0,351.8 359.5,353.5 360.0,354.4 360.5,354.5 361.0,353.9 361.5,353.7 362.0,354.6 362.5,352.6 363.0,352.6 363.5,354.2 364.0,355.2 364.5,355.4 365.0,354.4 365.5,354.3 366.0,354.4 366.5,355.0 367.0,356.2 367.5,355.5 368.0,354.1 368.5,354.1 369.0,355.2 369.5,353.8 370.0,353.7 370.5,355.3 371.0,355.2 371.5,355.4 372.0,355.2 372.5,356.1 373.0,355.9 373.5,355.4 374.0,355.5 374.5,355.8 375.0,353.4 375.5,353.5 376.0,356.0 376.5,357.0 377.0,356.7 377.5,354.8 378.0,354.8 378.5,356.7 379.0,356.6 379.5,356.6 380.0,355.0 380.5,355.1 381.0,355.1 381.5,356.7 382.0,356.1 382.5,355.9 383.0,356.2 383.5,356.5 384.0,355.5 384.5,355.5 385.0,355.9 385.5,355.7 386.0,357.1 386.5,355.9 387.0,356.1 387.5,357.0 388.0,355.9 388.5,356.1 389.0,354.3 389.5,354.4 390.0,356.3 390.5,356.1 391.0,355.9 391.5,356.1 392.0,356.8 392.5,357.8 393.0,356.8 393.5,357.1 394.0,359.0 394.5,357.8 395.0,358.1 395.5,357.0 396.0,357.0 396.5,357.9 397.0,356.6 397.5,356.8 398.0,357.5 398.5,358.0 399.0,357.8 399.5,358.4 400.0,358.1 400.5,357.6 401.0,357.8 401.5,357.7 402.0,358.9 402.5,358.7 403.0,359.2 403.5,360.0 404.0,359.8 404.5,359.7 405.0,359.9 405.5,360.1 406.0,359.1 406.5,358.9 407.0,360.9 407.5,359.4 408.0,359.2 408.5,359.8 409.0,360.3 409.5,361.0 410.0,360.9 410.5,360.7 411.0,361.8 411.5,362.0 412.0,361.9 412.5,361.6 413.0,361.5 413.5,361.4 414.0,360.5 414.5,360.8 415.0,361.1 415.5,361.5 416.0,361.4 416.5,362.9 417.0,361.0 417.5,360.9 418.0,361.0 418.5,361.1 419.0,361.6 419.5,361.7 420.0,361.6 420.5,361.7 421.0,363.8 421.5,362.9 422.0,363.2 422.5,362.6 423.0,360.9 423.5,361.2 424.0,362.1 424.5,363.2 425.0,363.0 425.5,361.7 426.0,361.9 426.5,364.3 427.0,362.8 427.5,361.7 428.0,362.0 428.5,363.0 429.0,363.7 429.5,363.8 430.0,364.1 430.5,362.8 431.0,362.9 431.5,362.7 432.0,363.3 432.5,363.6 433.0,363.7 433.5,362.6 434.0,362.8 434.5,363.7 435.0,364.0 435.5,364.0 436.0,364.5 436.5,364.5 437.0,364.5 437.5,365.3 438.0,364.3 438.5,363.8 439.0,364.3 439.5,364.4 440.0,364.5 440.5,362.8 441.0,363.0 441.5,366.9 442.0,366.0 442.5,365.2 443.0,365.2 443.5,365.3 444.0,365.3 444.5,365.8 445.0,366.9 445.5,365.3 446.0,364.8 446.5,365.3 447.0,366.5 447.5,366.7 448.0,365.6 448.5,365.4 449.0,366.7 449.5,366.7 450.0,367.6 450.5,367.5 451.0,366.3 451.5,366.3 452.0,367.5 452.5,366.5 453.0,366.7 453.5,367.5 454.0,367.0 454.5,366.4 455.0,366.0 455.5,365.7 456.0,366.5 456.5,366.8 457.0,367.9 457.5,368.2 458.0,366.6 458.5,366.8 459.0,368.2 459.5,368.4 460.0,369.8 460.5,369.0 461.0,368.0 461.5,367.7 462.0,368.8 462.5,368.3 463.0,368.8 463.5,367.4 464.0,366.9 464.5,367.4 465.0,368.9 465.5,369.4 466.0,368.2 466.5,367.6 467.0,367.5 467.5,369.7 468.0,369.6 468.5,368.3 469.0,368.5 469.5,369.7 470.0,370.1 470.5,368.6 471.0,368.8 471.5,369.2 472.0,369.4 472.5,370.1 473.0,369.7 473.5,369.5 474.0,369.7 474.5,369.3 475.0,369.0 475.5,369.6 476.0,370.1 476.5,370.5 477.0,370.5 477.5,369.4 478.0,369.3 478.5,370.5 479.0,369.5 479.5,369.4 480.0,368.8 480.5,368.7 481.0,370.2 481.5,370.5 482.0,370.4 482.5,370.2 483.0,370.2 483.5,370.5 484.0,370.5 484.5,369.6 485.0,369.9 485.5,370.8 486.0,370.6 486.5,370.4 487.0,369.9 487.5,370.0 488.0,371.6 488.5,371.3 489.0,371.3 489.5,371.1 490.0,371.3 490.5,371.3 491.0,370.7 491.5,370.8 492.0,371.4 492.5,371.1 493.0,370.8 493.5,370.1 494.0,370.3 494.5,370.8 495.0,371.0 495.5,370.9 496.0,370.7 496.5,370.7 497.0,371.0 497.5,370.6 498.0,369.8 498.5,369.9 499.0,371.6 499.5,372.1 500.0,370.4 500.5,370.4 501.0,370.0 501.5,370.1 502.0,371.2 502.5,371.0 503.0,371.0 503.5,371.5 504.0,371.1 504.5,370.6 505.0,371.1 505.5,370.9 506.0,371.2 506.5,372.5 507.0,371.1 507.5,370.8 508.0,370.5 508.5,371.3 509.0,370.5 509.5,370.3 510.0,370.3 510.5,370.8 511.0,370.5 511.5,370.7 512.0,371.6 512.5,371.0 513.0,370.8 513.5,370.9 514.0,370.8 514.5,371.4 515.0,371.3 515.5,371.5 516.0,371.4 516.5,371.6 517.0,371.5 517.5,370.5 518.0,370.8 518.5,371.6 519.0,371.3 519.5,371.5 520.0,371.9 520.5,370.8 521.0,370.9 521.5,369.9 522.0,370.1 522.5,370.4 523.0,370.1 523.5,369.8 524.0,369.7 524.5,371.0 525.0,371.2 525.5,369.5 526.0,369.4 526.5,371.1 527.0,371.1 527.5,371.1 528.0,370.9 528.5,371.4 529.0,371.3 529.5,371.3 530.0,371.8 530.5,371.5 531.0,370.2 531.5,370.1 532.0,370.7 532.5,371.7 533.0,370.1 533.5,369.8 534.0,370.4 534.5,371.0 535.0,371.4 535.2,371.5 535.2,374.4 535.0,374.5 534.5,375.1 534.0,375.4 533.5,374.8 533.0,375.0 532.5,373.9 532.0,374.8 531.5,374.7 531.0,374.6 530.5,374.6 530.0,374.5 529.5,374.1 529.0,374.0 528.5,374.5 528.0,374.0 527.5,373.6 527.0,373.4 526.5,375.3 526.0,375.3 525.5,374.5 525.0,374.6 524.5,373.7 524.0,374.3 523.5,374.4 523.0,373.4 522.5,374.4 522.0,374.6 521.5,374.6 521.0,375.0 520.5,375.0 520.0,375.2 519.5,374.4 519.0,375.7 518.5,375.5 518.0,373.8 517.5,373.4 517.0,374.0 516.5,374.5 516.0,374.0 515.5,375.1 515.0,375.2 514.5,374.3 514.0,374.1 513.5,373.4 513.0,373.7 512.5,373.9 512.0,374.2 511.5,373.7 511.0,374.4 510.5,374.9 510.0,374.5 509.5,373.6 509.0,374.8 508.5,374.7 508.0,373.4 507.5,373.4 507.0,374.5 506.5,374.7 506.0,374.5 505.5,374.6 505.0,374.4 504.5,374.2 504.0,374.5 503.5,375.1 503.0,375.0 502.5,374.1 502.0,374.8 501.5,374.9 501.0,374.0 500.5,374.7 500.0,374.5 499.5,373.8 499.0,374.1 498.5,374.8 498.0,374.7 497.5,373.4 497.0,373.1 496.5,374.8 496.0,374.6 495.5,373.4 495.0,373.4 494.5,374.0 494.0,374.0 493.5,373.3 493.0,373.7 492.5,374.4 492.0,374.2 491.5,375.3 491.0,375.2 490.5,374.3 490.0,374.4 489.5,374.5 489.0,374.0 488.5,374.3 488.0,374.4 487.5,373.4 487.0,373.3 486.5,373.6 486.0,373.9 485.5,373.4 485.0,373.0 484.5,373.3 484.0,373.1 483.5,373.3 483.0,373.8 482.5,373.6 482.0,373.3 481.5,373.3 481.0,373.3 480.5,373.3 480.0,374.1 479.5,374.3 479.0,375.3 478.5,375.3 478.0,372.4 477.5,373.5 477.0,373.7 476.5,373.3 476.0,373.0 475.5,373.2 475.0,372.7 474.5,374.2 474.0,374.3 473.5,373.9 473.0,372.2 472.5,372.7 472.0,372.7 471.5,373.2 471.0,373.5 470.5,373.3 470.0,373.1 469.5,373.1 469.0,372.7 468.5,371.7 468.0,372.7 467.5,372.7 467.0,372.9 466.5,372.4 466.0,371.8 465.5,371.5 465.0,373.1 464.5,373.1 464.0,372.3 463.5,371.5 463.0,371.8 462.5,373.4 462.0,373.4 461.5,371.2 461.0,372.1 460.5,372.9 460.0,372.8 459.5,372.3 459.0,372.2 458.5,371.6 458.0,371.5 457.5,371.4 457.0,371.2 456.5,371.3 456.0,371.4 455.5,371.1 455.0,372.4 454.5,372.3 454.0,370.9 453.5,370.9 453.0,370.4 452.5,370.2 452.0,370.9 451.5,371.0 451.0,370.1 450.5,370.3 450.0,371.2 449.5,371.0 449.0,370.1 448.5,370.4 448.0,369.8 447.5,370.3 447.0,369.8 446.5,368.9 446.0,370.4 445.5,370.6 445.0,370.6 444.5,370.5 444.0,369.1 443.5,369.8 443.0,369.5 442.5,368.3 442.0,370.3 441.5,370.8 441.0,370.3 440.5,368.8 440.0,367.9 439.5,367.8 439.0,368.0 438.5,367.1 438.0,368.0 437.5,368.0 437.0,368.0 436.5,369.2 436.0,369.0 435.5,366.6 435.0,366.4 434.5,368.5 434.0,369.0 433.5,368.9 433.0,368.9 432.5,368.7 432.0,367.8 431.5,367.5 431.0,367.5 430.5,367.3 430.0,368.4 429.5,368.3 429.0,367.8 428.5,367.8 428.0,367.4 427.5,367.0 427.0,367.2 426.5,369.6 426.0,369.5 425.5,367.1 425.0,367.1 424.5,366.8 424.0,366.8 423.5,366.7 423.0,366.8 422.5,365.9 422.0,365.9 421.5,367.2 421.0,367.0 420.5,366.7 420.0,365.0 419.5,366.3 419.0,366.1 418.5,366.4 418.0,366.4 417.5,364.9 417.0,366.3 416.5,366.5 416.0,366.1 415.5,366.6 415.0,366.6 414.5,364.7 414.0,366.1 413.5,366.3 413.0,365.1 412.5,365.0 412.0,364.3 411.5,366.4 411.0,366.3 410.5,365.2 410.0,364.5 409.5,364.2 409.0,364.6 408.5,365.7 408.0,365.9 407.5,364.5 407.0,363.5 406.5,363.8 406.0,364.5 405.5,364.6 405.0,363.4 404.5,363.2 404.0,364.2 403.5,364.2 403.0,363.6 402.5,362.6 402.0,362.4 401.5,363.7 401.0,363.8 400.5,363.9 400.0,363.9 399.5,361.3 399.0,363.5 398.5,363.7 398.0,361.4 397.5,363.1 397.0,363.1 396.5,363.2 396.0,362.7 395.5,363.1 395.0,362.9 394.5,362.0 394.0,361.8 393.5,361.2 393.0,362.1 392.5,362.3 392.0,360.4 391.5,360.7 391.0,360.5 390.5,360.0 390.0,360.0 389.5,360.7 389.0,360.7 388.5,360.2 388.0,360.0 387.5,362.2 387.0,362.3 386.5,362.3 386.0,362.0 385.5,360.6 385.0,360.6 384.5,360.0 384.0,360.2 383.5,360.2 383.0,361.9 382.5,361.9 382.0,360.3 381.5,360.1 381.0,359.7 380.5,360.3 380.0,360.6 379.5,360.7 379.0,362.4 378.5,362.9 378.0,362.4 377.5,358.1 377.0,360.2 376.5,360.1 376.0,359.3 375.5,360.3 375.0,360.6 374.5,362.2 374.0,361.9 373.5,359.4 373.0,359.7 372.5,360.2 372.0,360.0 371.5,360.2 371.0,358.9 370.5,361.4 370.0,361.4 369.5,359.7 369.0,360.5 368.5,360.3 368.0,360.9 367.5,360.9 367.0,360.1 366.5,360.0 366.0,359.8 365.5,359.7 365.0,360.8 364.5,361.1 364.0,359.2 363.5,358.8 363.0,358.3 362.5,358.9 362.0,359.0 361.5,358.0 361.0,358.1 360.5,358.3 360.0,358.6 359.5,360.3 359.0,360.4 358.5,358.0 358.0,358.0 357.5,357.3 357.0,357.6 356.5,358.4 356.0,358.4 355.5,358.0 355.0,358.6 354.5,359.1 354.0,358.6 353.5,357.8 353.0,357.9 352.5,356.2 352.0,355.2 351.5,357.0 351.0,356.9 350.5,356.6 350.0,357.4 349.5,357.4 349.0,357.5 348.5,357.8 348.0,357.7 347.5,359.6 347.0,359.7 346.5,357.1 346.0,356.4 345.5,357.5 345.0,357.4 344.5,356.3 344.0,357.1 343.5,357.0 343.0,354.4 342.5,355.1 342.0,355.2 341.5,354.9 341.0,355.3 340.5,354.8 340.0,354.1 339.5,355.2 339.0,355.2 338.5,355.4 338.0,355.1 337.5,355.1 337.0,355.3 336.5,354.6 336.0,356.4 335.5,356.2 335.0,355.8 334.5,355.9 334.0,356.0 333.5,356.0 333.0,355.4 332.5,353.8 332.0,353.9 331.5,357.0 331.0,356.9 330.5,354.3 330.0,354.2 329.5,353.2 329.0,353.5 328.5,353.0 328.0,353.1 327.5,353.1 327.0,352.7 326.5,353.6 326.0,353.8 325.5,353.7 325.0,353.0 324.5,353.5 324.0,353.0 323.5,353.1 323.0,352.8 322.5,351.8 322.0,353.9 321.5,353.6 321.0,352.5 320.5,352.7 320.0,352.2 319.5,351.3 319.0,351.3 318.5,353.2 318.0,353.1 317.5,350.7 317.0,350.3 316.5,350.8 316.0,350.8 315.5,349.5 315.0,349.2 314.5,350.7 314.0,351.2 313.5,350.7 313.0,349.5 312.5,348.4 312.0,350.5 311.5,350.5 311.0,350.0 310.5,349.5 310.0,348.9 309.5,347.9 309.0,348.0 308.5,348.7 308.0,348.8 307.5,352.6 307.0,352.4 306.5,348.2 306.0,347.6 305.5,347.8 305.0,347.6 304.5,347.1 304.0,346.3 303.5,344.9 303.0,344.5 302.5,345.7 302.0,345.4 301.5,345.0 301.0,346.2 300.5,346.1 300.0,344.3 299.5,346.2 299.0,346.4 298.5,344.2 298.0,344.2 297.5,344.3 297.0,343.1 296.5,344.1 296.0,343.8 295.5,346.0 295.0,345.8 294.5,342.4 294.0,342.5 293.5,342.2 293.0,342.0 292.5,342.5 292.0,342.3 291.5,340.8 291.0,341.3 290.5,341.3 290.0,340.9 289.5,340.4 289.0,340.0 288.5,340.3 288.0,340.4 287.5,335.9 287.0,337.5 286.5,337.6 286.0,336.8 285.5,338.0 285.0,338.0 284.5,334.8 284.0,333.2 283.5,333.4 283.0,333.6 282.5,335.9 282.0,336.0 281.5,332.7 281.0,333.9 280.5,334.0 280.0,331.7 279.5,332.2 279.0,331.7 278.5,329.5 278.0,332.3 277.5,332.2 277.0,330.2 276.5,329.9 276.0,328.5 275.5,328.7 275.0,328.8 274.5,327.9 274.0,328.5 273.5,330.2 273.0,330.3 272.5,327.4 272.0,327.5 271.5,325.7 271.0,325.5 270.5,327.2 270.0,327.3 269.5,323.3 269.0,324.7 268.5,326.2 268.0,326.4 267.5,325.4 267.0,327.0 266.5,327.2 266.0,326.5 265.5,325.6 265.0,325.8 264.5,325.7 264.0,325.2 263.5,325.0 263.0,326.6 262.5,326.5 262.0,325.8 261.5,325.5 261.0,323.0 260.5,324.6 260.0,324.3 259.5,323.4 259.0,323.4 258.5,323.0 258.0,326.4 257.5,326.6 257.0,325.8 256.5,326.3 256.0,326.5 255.5,324.2 255.0,324.1 254.5,324.1 254.0,322.9 253.5,323.0 253.0,326.3 252.5,326.0 252.0,325.6 251.5,325.5 251.0,323.6 250.5,323.5 250.0,324.7 249.5,326.4 249.0,326.5 248.5,326.5 248.0,327.0 247.5,326.7 247.0,326.9 246.5,326.6 246.0,326.8 245.5,327.7 245.0,327.9 244.5,327.4 244.0,326.2 243.5,327.2 243.0,327.1 242.5,326.4 242.0,326.1 241.5,322.4 241.0,325.1 240.5,326.2 240.0,326.2 239.5,327.9 239.0,327.9 238.5,327.4 238.0,327.5 237.5,327.4 237.0,327.1 236.5,329.6 236.0,329.6 235.5,328.8 235.0,329.0 234.5,329.1 234.0,329.3 233.5,327.1 233.0,328.1 232.5,328.4 232.0,327.8 231.5,328.3 231.0,327.8 230.5,328.4 230.0,328.9 229.5,328.4 229.0,327.7 228.5,327.5 228.0,329.3 227.5,329.1 227.0,327.7 226.5,327.8 226.0,326.8 225.5,326.8 225.0,329.2 224.5,329.1 224.0,327.6 223.5,326.4 223.0,326.3 222.5,328.0 222.0,328.0 221.5,329.2 221.0,329.7 220.5,329.2 220.0,326.9 219.5,327.0 219.0,326.4 218.5,324.0 218.0,324.3 217.5,324.8 217.0,325.0 216.5,324.1 216.0,324.1 215.5,323.0 215.0,323.5 214.5,323.8 214.0,322.9 213.5,322.2 213.0,322.1 212.5,322.0 212.0,322.9 211.5,324.5 211.0,324.7 210.5,321.9 210.0,321.6 209.5,320.3 209.0,319.5 208.5,319.2 208.0,320.4 207.5,320.5 207.0,318.3 206.5,318.1 206.0,317.3 205.5,317.0 205.0,317.6 204.5,317.3 204.0,314.0 203.5,314.9 203.0,314.8 202.5,314.1 202.0,311.5 201.5,311.7 201.0,312.8 200.5,312.8 200.0,313.0 199.5,313.3 199.0,312.4 198.5,312.3 198.0,308.1 197.5,308.2 197.0,308.3 196.5,307.4 196.0,307.0 195.5,306.2 195.0,306.5 194.5,305.3 194.0,304.5 193.5,304.6 193.0,305.1 192.5,305.0 192.0,304.8 191.5,301.6 191.0,300.4 190.5,300.7 190.0,300.1 189.5,300.1 189.0,299.4 188.5,301.3 188.0,301.2 187.5,298.8 187.0,297.7 186.5,298.2 186.0,297.7 185.5,297.7 185.0,297.7 184.5,295.2 184.0,295.4 183.5,294.9 183.0,294.2 182.5,290.7 182.0,290.6 181.5,290.8 181.0,291.2 180.5,290.9 180.0,289.7 179.5,290.9 179.0,290.6 178.5,286.4 178.0,286.9 177.5,286.8 177.0,284.9 176.5,284.4 176.0,283.1 175.5,283.0 175.0,281.3 174.5,280.7 174.0,277.6 173.5,277.7 173.0,277.8 172.5,276.3 172.0,274.4 171.5,272.9 171.0,272.8 170.5,270.0 170.0,270.2 169.5,269.7 169.0,266.8 168.5,267.1 168.0,267.4 167.5,265.8 167.0,265.2 166.5,263.3 166.0,263.2 165.5,263.3 165.0,262.8 164.5,261.9 164.0,260.0 163.5,258.8 163.0,258.8 162.5,256.4 162.0,255.6 161.5,259.2 161.0,258.9 160.5,251.1 160.0,250.9 159.5,251.1 159.0,251.0 158.5,246.3 158.0,245.5 157.5,245.4 157.0,243.6 156.5,243.3 156.0,240.7 155.5,235.4 155.0,235.3 154.5,233.0 154.0,232.5 153.5,233.0 153.0,232.5 152.5,226.0 152.0,221.1 151.5,219.9 151.0,218.6 150.5,197.8 150.0,194.1 149.5,207.3 149.0,207.8 148.5,207.3 148.0,204.4 147.5,204.5 147.0,203.3 146.5,199.3 146.0,197.7 145.5,196.2 145.0,192.9 144.5,189.3 144.0,188.8 143.5,186.2 143.0,183.5 142.5,182.7 142.0,178.6 141.5,174.2 141.0,169.8 140.5,166.1 140.0,162.5 139.5,161.3 139.0,161.1 138.5,154.6 138.0,156.3 137.5,156.5 137.0,153.2 136.5,154.0 136.0,154.2 135.5,151.7 135.0,150.9 134.5,144.9 134.0,145.4 133.5,145.2 133.0,142.4 132.5,139.3 132.0,138.8 131.5,134.7 131.0,134.4 130.5,134.6 130.0,134.8 129.5,131.4 129.0,130.9 128.5,132.8 128.0,132.7 127.5,129.8 127.0,129.6 126.5,128.6 126.0,126.4 125.5,126.4 125.0,119.2 124.5,123.8 124.0,123.6 123.5,120.8 123.0,119.8 122.5,119.4 122.0,119.1 121.5,118.6 121.0,119.7 120.5,121.8 120.0,121.8 119.5,120.5 119.0,116.2 118.5,117.1 118.0,118.6 117.5,118.3 117.0,119.7 116.5,119.7 116.0,116.5 115.5,117.0 115.0,120.0 114.5,122.2 114.0,123.4 113.5,123.4 113.0,120.6 112.5,120.9 112.0,119.4 111.5,121.9 111.0,122.2 110.5,119.6 110.0,119.3 109.5,121.9 109.0,122.1 108.5,124.5 108.0,124.7 107.5,125.2 107.0,125.1 106.5,124.4 106.0,124.6 105.5,131.2 105.0,131.5 104.5,129.6 104.0,128.2 103.5,129.8 103.0,129.6 102.5,131.6 102.0,131.5 101.5,131.9 101.0,134.4 100.5,134.7 100.0,135.0 99.5,141.1 99.0,141.2 98.5,137.3 98.0,137.6 97.5,139.9 97.0,142.9 96.5,143.4 96.0,143.4 95.5,143.6 95.0,143.6 94.5,145.7 94.0,147.3 93.5,148.8 93.0,149.1 92.5,148.1 92.0,148.0 91.5,150.9 91.0,150.7 90.5,150.4 90.0,152.5 89.5,155.4 89.0,155.1 88.5,156.4 88.0,156.9 87.5,157.1 87.0,157.2 86.5,159.3 86.0,159.3 85.5,157.3 85.0,159.3 84.5,159.4 84.0,159.8 83.5,159.8 83.0,166.5 82.5,166.6 82.0,162.7 81.5,164.9 81.0,165.2 80.5,165.7 80.0,165.8 79.5,165.9 79.0,166.4 78.5,167.6 78.0,167.5 77.5,169.6 77.0,170.1 76.5,171.5 76.0,171.3 75.5,171.8 75.0,175.3 74.5,175.3 74.0,173.8 73.5,175.0 73.0,175.5 72.5,175.6 72.0,175.9 71.5,174.8 71.0,175.5 70.5,177.1 70.0,176.9 69.5,178.7 69.0,179.0 68.5,176.4 68.0,176.4 67.5,179.5 67.0,179.3 66.5,178.8 66.0,182.4 65.5,182.6 65.0,178.9 64.5,180.5 64.0,180.8 63.5,180.7 63.0,180.2 62.5,179.5 62.0,184.6 61.5,184.5 61.0,176.3 60.5,177.6 60.0,178.8 59.5,180.1 59.0,180.6 58.5,180.1 58.0,177.2 57.5,176.9 57.0,181.0 56.5,181.2 56.0,180.9 55.5,179.8 55.0,179.6 54.5,180.0 54.0,180.3 53.5,178.7 53.0,177.9 52.5,177.4 52.0,177.2 51.5,178.1 51.0,178.2 50.5,179.1 50.0,179.0 49.5,178.6 49.0,176.4 48.5,176.4 48.0,173.0 47.5,172.4 47.0,171.3 46.5,172.6 46.0,172.8 45.5,171.9 45.0,167.8 44.5,168.3 44.0,170.0 43.5,169.9 43.0,169.4 42.5,169.9 42.0,169.4 41.5,166.3 41.0,167.6 40.5,167.5 40.0,167.4 39.5,167.6 39.0,167.0 38.5,164.3 38.0,162.1 37.5,162.4 37.0,162.4 36.5,159.1 36.0,158.3 35.5,155.2 35.0,155.5 34.5,155.6 34.0,158.8 33.5,158.7 33.0,153.4 32.5,153.6 32.0,152.6 31.5,152.6 31.0,152.3 30.5,148.8 30.0,147.5 29.5,146.4 29.0,149.1 28.5,149.0 28.0,141.8 27.5,141.5 27.0,141.1 26.5,139.2 26.0,138.4 25.5,138.5 25.0,136.3 24.5,136.8 24.0,136.3 23.5,134.4 23.0,133.7 22.5,130.6 22.0,129.5 21.5,127.6 21.0,125.7 20.5,123.5 20.0,123.7 19.5,123.6 19.0,123.3 18.5,119.1 18.0,118.5 17.5,116.4 17.0,115.8 16.5,116.9 16.0,116.7 15.5,113.4 15.0,110.0 14.5,107.3 14.0,114.6 13.5,114.5 13.0,105.8 12.5,106.3"/>
</g>
<g stroke="#000" stroke-width="1.9">
<line x1="119.8" y1="25" x2="119.8" y2="383.0"/>
<line x1="150.9" y1="75.5" x2="150.9" y2="383.0"/>
<line x1="172.0" y1="165" x2="172.0" y2="383.0"/>
<line x1="241.6" y1="165" x2="241.6" y2="383.0"/>
<line x1="264.4" y1="165" x2="264.4" y2="383.0"/>
</g>
<g stroke="#000" stroke-width="1.7">
<line x1="11.15" y1="383.0" x2="536.38" y2="383.0"/>
<line x1="12.00" y1="383.0" x2="12.00" y2="391.0"/>
<line x1="30.70" y1="383.0" x2="30.70" y2="388.0"/>
<line x1="49.40" y1="383.0" x2="49.40" y2="391.0"/>
<line x1="68.09" y1="383.0" x2="68.09" y2="388.0"/>
<line x1="86.79" y1="383.0" x2="86.79" y2="391.0"/>
<line x1="105.49" y1="383.0" x2="105.49" y2="388.0"/>
<line x1="124.19" y1="383.0" x2="124.19" y2="391.0"/>
<line x1="142.88" y1="383.0" x2="142.88" y2="388.0"/>
<line x1="161.58" y1="383.0" x2="161.58" y2="391.0"/>
<line x1="180.28" y1="383.0" x2="180.28" y2="388.0"/>
<line x1="198.97" y1="383.0" x2="198.97" y2="391.0"/>
<line x1="217.67" y1="383.0" x2="217.67" y2="388.0"/>
<line x1="236.37" y1="383.0" x2="236.37" y2="391.0"/>
<line x1="255.07" y1="383.0" x2="255.07" y2="388.0"/>
<line x1="273.76" y1="383.0" x2="273.76" y2="391.0"/>
<line x1="292.46" y1="383.0" x2="292.46" y2="388.0"/>
<line x1="311.16" y1="383.0" x2="311.16" y2="391.0"/>
<line x1="329.86" y1="383.0" x2="329.86" y2="388.0"/>
<line x1="348.56" y1="383.0" x2="348.56" y2="391.0"/>
<line x1="367.25" y1="383.0" x2="367.25" y2="388.0"/>
<line x1="385.95" y1="383.0" x2="385.95" y2="391.0"/>
<line x1="404.65" y1="383.0" x2="404.65" y2="388.0"/>
<line x1="423.35" y1="383.0" x2="423.35" y2="391.0"/>
<line x1="442.04" y1="383.0" x2="442.04" y2="388.0"/>
<line x1="460.74" y1="383.0" x2="460.74" y2="391.0"/>
<line x1="479.44" y1="383.0" x2="479.44" y2="388.0"/>
<line x1="498.13" y1="383.0" x2="498.13" y2="391.0"/>
<line x1="516.83" y1="383.0" x2="516.83" y2="388.0"/>
<line x1="535.53" y1="383.0" x2="535.53" y2="391.0"/>
</g>
<g font-family="'Liberation Serif', 'Times New Roman', serif" font-weight="bold" fill="#000">
<g font-size="15.8" text-anchor="middle">
<text x="12.0" y="408">10</text>
<text x="49.4" y="408">15</text>
<text x="86.8" y="408">20</text>
<text x="124.2" y="408">25</text>
<text x="161.6" y="408">30</text>
<text x="199.0" y="408">35</text>
<text x="236.4" y="408">40</text>
<text x="273.8" y="408">45</text>
<text x="311.2" y="408">50</text>
<text x="348.6" y="408">55</text>
<text x="385.9" y="408">60</text>
<text x="423.3" y="408">65</text>
<text x="460.7" y="408">70</text>
<text x="498.1" y="408">75</text>
<text x="535.5" y="408">80</text>
</g>
<text x="271.5" y="427.4" font-size="18" text-anchor="middle">2θ</text>
<g font-size="15.9">
<text x="96.0" y="19">Carbon</text>
<text x="144.5" y="67">SiO<tspan dy="4" font-size="14.5">2</tspan></text>
<text x="162.8" y="154">K<tspan dy="5.5" font-size="10">2</tspan><tspan dy="-5.5">O</tspan></text>
<text x="225" y="154">K<tspan dy="5.5" font-size="10">2</tspan><tspan dy="-5.5">O</tspan></text>
<text x="257.3" y="154">Carbon</text>
</g></g>
<rect x="415" y="8.5" width="110.5" height="76" fill="#fff" stroke="#222" stroke-width="1"/>
<g stroke-width="1.7">
<line x1="416.3" y1="20.2" x2="452.3" y2="20.2" stroke="#000"/>
<line x1="416.3" y1="44.5" x2="452.3" y2="44.5" stroke="#0000be"/>
<line x1="416.3" y1="69" x2="452.3" y2="69" stroke="#ff0000"/>
</g>
<g font-family="'Liberation Serif', 'Times New Roman', serif" font-size="16" fill="#000">
<text x="456.5" y="25.5">R-SiO<tspan dy="5" font-size="10">2</tspan><tspan dy="-5">-2h</tspan></text>
<text x="456.5" y="50">R-SiO<tspan dy="5" font-size="10">2</tspan><tspan dy="-5">-4h</tspan></text>
<text x="456.5" y="74.5">R-SiO<tspan dy="5" font-size="10">2</tspan><tspan dy="-5">-6h</tspan></text>
</g>
</svg>
</body></html>
